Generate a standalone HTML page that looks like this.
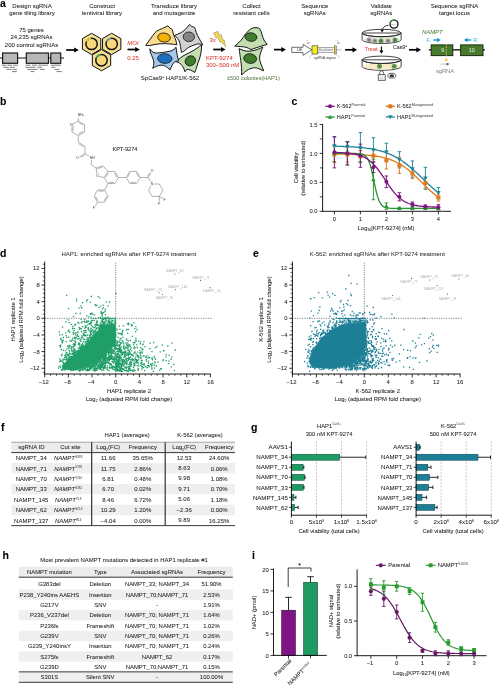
<!DOCTYPE html>
<html><head><meta charset="utf-8"><title>Figure</title>
<style>
html,body{margin:0;padding:0;background:#fff;}
svg{display:block;font-family:"Liberation Sans",Arial,sans-serif;}
</style></head><body>
<svg width="499" height="685" viewBox="0 0 499 685">
<rect width="499" height="685" fill="#fff"/>
<g id="panel-a">
<text x="0.00" y="6.60" font-size="10.5" text-anchor="start" fill="#000" stroke="#000" stroke-width="0.084" font-weight="bold">a</text>
<text x="32.00" y="7.70" font-size="6.0" text-anchor="middle" fill="#222" stroke="#222" stroke-width="0.048" >Design sgRNA</text>
<text x="32.00" y="14.50" font-size="6.0" text-anchor="middle" fill="#222" stroke="#222" stroke-width="0.048" >gene tiling library</text>
<text x="31.50" y="32.00" font-size="6.0" text-anchor="middle" fill="#222" stroke="#222" stroke-width="0.048" >75 genes</text>
<text x="31.50" y="39.30" font-size="6.0" text-anchor="middle" fill="#222" stroke="#222" stroke-width="0.048" >24,235 sgRNAs</text>
<text x="31.50" y="46.60" font-size="6.0" text-anchor="middle" fill="#222" stroke="#222" stroke-width="0.048" >200 control sgRNAs</text>
<line x1="0.00" y1="58.00" x2="64.10" y2="58.00" stroke="#111" stroke-width="1.2" />
<rect x="2.60" y="53.00" width="15.00" height="10.30" fill="#b7b7b7" stroke="#1a1a1a" stroke-width="1.2" />
<rect x="26.30" y="53.00" width="22.20" height="10.30" fill="#b7b7b7" stroke="#1a1a1a" stroke-width="1.2" />
<rect x="50.80" y="53.00" width="9.90" height="10.30" fill="#b7b7b7" stroke="#1a1a1a" stroke-width="1.2" />
<line x1="1.60" y1="65.20" x2="6.09" y2="65.20" stroke="#555" stroke-width="0.75" />
<line x1="7.21" y1="65.20" x2="12.02" y2="65.20" stroke="#555" stroke-width="0.75" />
<line x1="13.15" y1="65.20" x2="17.96" y2="65.20" stroke="#555" stroke-width="0.75" />
<line x1="25.65" y1="65.20" x2="30.46" y2="65.20" stroke="#555" stroke-width="0.75" />
<line x1="32.06" y1="65.20" x2="37.19" y2="65.20" stroke="#555" stroke-width="0.75" />
<line x1="38.16" y1="65.20" x2="48.10" y2="65.20" stroke="#555" stroke-width="0.75" />
<line x1="50.98" y1="65.20" x2="60.60" y2="65.20" stroke="#555" stroke-width="0.75" />
<line x1="3.21" y1="67.30" x2="8.82" y2="67.30" stroke="#555" stroke-width="0.75" />
<line x1="9.94" y1="67.30" x2="14.75" y2="67.30" stroke="#555" stroke-width="0.75" />
<line x1="25.33" y1="67.30" x2="35.59" y2="67.30" stroke="#555" stroke-width="0.75" />
<line x1="37.19" y1="67.30" x2="42.00" y2="67.30" stroke="#555" stroke-width="0.75" />
<line x1="51.30" y1="67.30" x2="55.31" y2="67.30" stroke="#555" stroke-width="0.75" />
<line x1="6.41" y1="69.40" x2="11.54" y2="69.40" stroke="#555" stroke-width="0.75" />
<line x1="12.51" y1="69.40" x2="16.83" y2="69.40" stroke="#555" stroke-width="0.75" />
<line x1="27.25" y1="69.40" x2="37.68" y2="69.40" stroke="#555" stroke-width="0.75" />
<line x1="39.76" y1="69.40" x2="44.89" y2="69.40" stroke="#555" stroke-width="0.75" />
<line x1="54.51" y1="69.40" x2="59.32" y2="69.40" stroke="#555" stroke-width="0.75" />
<line x1="12.02" y1="71.60" x2="16.83" y2="71.60" stroke="#555" stroke-width="0.75" />
<line x1="30.46" y1="71.60" x2="34.47" y2="71.60" stroke="#555" stroke-width="0.75" />
<line x1="56.43" y1="71.60" x2="61.72" y2="71.60" stroke="#555" stroke-width="0.75" />
<line x1="66.20" y1="50.00" x2="75.12" y2="50.00" stroke="#000" stroke-width="1.7" />
<polygon points="78.80,50.00 74.20,47.42 74.20,52.58" fill="#000"/>
<text x="102.00" y="7.70" font-size="6.0" text-anchor="middle" fill="#222" stroke="#222" stroke-width="0.048" >Construct</text>
<text x="102.00" y="14.50" font-size="6.0" text-anchor="middle" fill="#222" stroke="#222" stroke-width="0.048" >lentiviral library</text>
<polygon points="91.60,33.30 100.78,38.60 100.78,49.20 91.60,54.50 82.42,49.20 82.42,38.60" fill="#f6df92" stroke="#111" stroke-width="1"/>
<circle cx="91.6" cy="43.9" r="5.7" fill="#fbd77c" stroke="#111" stroke-width="1.5"/>
<path d="M86.40,41.60 A5.7,5.7 0 0 1 91.00,38.23" fill="none" stroke="#e3d53a" stroke-width="1.4"/>
<polygon points="111.70,33.30 120.88,38.60 120.88,49.20 111.70,54.50 102.52,49.20 102.52,38.60" fill="#f6df92" stroke="#111" stroke-width="1"/>
<circle cx="111.7" cy="43.9" r="5.7" fill="#fbd77c" stroke="#111" stroke-width="1.5"/>
<path d="M106.50,41.60 A5.7,5.7 0 0 1 111.10,38.23" fill="none" stroke="#7fa6c9" stroke-width="1.4"/>
<polygon points="101.50,49.60 110.68,54.90 110.68,65.50 101.50,70.80 92.32,65.50 92.32,54.90" fill="#f6df92" stroke="#111" stroke-width="1"/>
<circle cx="101.5" cy="60.2" r="5.7" fill="#fbd77c" stroke="#111" stroke-width="1.5"/>
<path d="M96.30,57.90 A5.7,5.7 0 0 1 100.90,54.53" fill="none" stroke="#3fae5a" stroke-width="1.4"/>
<text x="133.00" y="45.20" font-size="6.0" text-anchor="middle" fill="#dc3a2e" stroke="#dc3a2e" stroke-width="0.048" font-style="italic">MOI</text>
<line x1="127.50" y1="49.50" x2="136.12" y2="49.50" stroke="#000" stroke-width="1.7" />
<polygon points="139.80,49.50 135.20,46.92 135.20,52.08" fill="#000"/>
<text x="133.00" y="60.30" font-size="6.0" text-anchor="middle" fill="#dc3a2e" stroke="#dc3a2e" stroke-width="0.048" >0.25</text>
<text x="174.00" y="7.70" font-size="6.0" text-anchor="middle" fill="#222" stroke="#222" stroke-width="0.048" >Transduce library</text>
<text x="174.00" y="14.50" font-size="6.0" text-anchor="middle" fill="#222" stroke="#222" stroke-width="0.048" >and mutagenize</text>
<path d="M175.32,36.04 L174.57,35.29 L177.58,34.16 Q180.58,33.03 182.84,31.53 Q185.09,30.02 187.35,27.17 L189.60,24.31 L190.73,25.67 Q191.86,27.02 193.36,26.87 Q194.86,26.72 195.39,29.50 Q195.91,32.28 197.64,35.66 Q199.37,39.04 201.10,41.90 L202.83,44.75 L200.72,44.15 Q198.62,43.55 196.37,44.30 Q194.11,45.06 191.10,46.18 Q188.10,47.31 185.84,49.56 Q183.59,51.82 182.46,52.04 L181.33,52.27 L180.96,49.41 Q180.58,46.56 179.98,43.55 Q179.38,40.55 177.73,38.67 Q176.07,36.79 175.32,36.04Z" fill="#d2d2d2" stroke="#151515" stroke-width="1.0" stroke-linejoin="round"/>
<ellipse cx="188.85" cy="36.79" rx="5.71" ry="4.81" fill="#858585" stroke="#151515" stroke-width="0.8" transform="rotate(0 188.85 36.79)"/>
<path d="M147.37,45.58 L145.71,45.36 L149.62,39.94 Q153.53,34.53 155.03,32.66 Q156.53,30.78 159.54,29.65 Q162.55,28.52 165.18,27.17 L167.81,25.82 L168.93,27.17 Q170.06,28.52 171.19,28.67 Q172.32,28.82 172.84,31.68 Q173.37,34.53 174.72,37.54 Q176.07,40.55 176.45,42.65 L176.83,44.75 L173.44,44.30 Q170.06,43.85 166.30,43.70 Q162.55,43.55 158.79,43.93 Q155.03,44.30 152.02,45.06 Q149.02,45.81 147.37,45.58Z" fill="#f9dc8e" stroke="#151515" stroke-width="1.0" stroke-linejoin="round"/>
<ellipse cx="164.05" cy="37.54" rx="6.31" ry="4.51" fill="#f5b301" stroke="#151515" stroke-width="0.8" transform="rotate(8 164.05 37.54)"/>
<path d="M177.95,62.34 L176.07,61.59 L179.08,58.96 Q182.09,56.33 185.09,54.83 Q188.10,53.32 191.10,51.82 Q194.11,50.32 197.12,48.06 Q200.12,45.81 200.87,45.43 L201.63,45.06 L201.48,48.06 Q201.33,51.07 200.72,54.07 Q200.12,57.08 199.00,60.09 Q197.87,63.09 197.12,65.72 Q196.37,68.35 195.61,70.38 L194.86,72.41 L192.61,71.13 Q190.35,69.86 188.47,69.48 Q186.60,69.10 185.84,70.46 L185.09,71.81 L183.97,68.95 Q182.84,66.10 181.33,64.60 Q179.83,63.09 177.95,62.34Z" fill="#c3deb1" stroke="#151515" stroke-width="1.0" stroke-linejoin="round"/>
<ellipse cx="190.35" cy="60.84" rx="5.41" ry="4.81" fill="#3f7d2c" stroke="#151515" stroke-width="0.8" transform="rotate(-35 190.35 60.84)"/>
<path d="M150.15,51.07 L149.77,48.81 L151.65,51.07 Q153.53,53.32 156.53,53.10 Q159.54,52.87 163.30,52.35 Q167.06,51.82 169.69,51.29 Q172.32,50.77 174.20,49.04 L176.07,47.31 L176.45,50.32 Q176.83,53.32 177.20,55.20 Q177.58,57.08 178.18,58.96 L178.78,60.84 L176.68,61.21 Q174.57,61.59 173.44,63.09 Q172.32,64.60 171.19,67.23 L170.06,69.86 L167.81,67.83 Q165.55,65.80 163.30,65.35 Q161.04,64.90 158.79,65.50 Q156.53,66.10 154.66,67.23 L152.78,68.35 L153.53,65.72 Q154.28,63.09 153.53,60.46 Q152.78,57.83 151.65,55.58 Q150.52,53.32 150.15,51.07Z" fill="#a7c8ea" stroke="#151515" stroke-width="1.0" stroke-linejoin="round"/>
<ellipse cx="164.80" cy="58.58" rx="7.21" ry="4.81" fill="#1f6fc0" stroke="#151515" stroke-width="0.8" transform="rotate(3 164.80 58.58)"/>
<text x="170.00" y="80.30" font-size="6.0" text-anchor="middle" fill="#222" stroke="#222" stroke-width="0.048" >SpCas9<tspan font-size="3.4" dy="-2">+</tspan><tspan dy="2"> HAP1/K-562</tspan></text>
<polygon points="213.52,32.99 217.78,31.29 219.48,35.04 221.18,34.52 222.89,40.15 224.08,39.81 225.78,46.62 221.18,41.85 219.99,42.36 217.78,37.59 216.07,38.10" fill="#f2d356" stroke="#6b5a1a" stroke-width="0.35"/>
<text x="212.60" y="41.60" font-size="6.0" text-anchor="middle" fill="#dc3a2e" stroke="#dc3a2e" stroke-width="0.048" >3x</text>
<line x1="213.20" y1="49.50" x2="221.92" y2="49.50" stroke="#000" stroke-width="1.7" />
<polygon points="225.60,49.50 221.00,46.92 221.00,52.08" fill="#000"/>
<text x="219.30" y="59.90" font-size="6.0" text-anchor="middle" fill="#dc3a2e" stroke="#dc3a2e" stroke-width="0.048" >KPT-9274</text>
<text x="222.60" y="66.60" font-size="6.0" text-anchor="middle" fill="#dc3a2e" stroke="#dc3a2e" stroke-width="0.048" >300–500 nM</text>
<text x="251.50" y="7.70" font-size="6.0" text-anchor="middle" fill="#222" stroke="#222" stroke-width="0.048" >Collect</text>
<text x="251.50" y="14.50" font-size="6.0" text-anchor="middle" fill="#222" stroke="#222" stroke-width="0.048" >resistant cells</text>
<path d="M237.79,46.36 L234.81,46.11 L238.22,43.13 Q241.63,40.15 243.33,37.17 Q245.03,34.18 248.02,31.20 Q251.00,28.22 253.55,27.80 Q256.11,27.37 258.24,27.97 Q260.37,28.56 261.22,31.80 Q262.07,35.04 262.92,37.59 Q263.77,40.15 265.48,42.28 L267.18,44.41 L264.20,45.26 Q261.22,46.11 258.66,46.96 Q256.11,47.81 253.55,48.66 L251.00,49.52 L248.44,48.24 Q245.89,46.96 243.33,46.79 Q240.78,46.62 237.79,46.36Z" fill="#c3deb1" stroke="#151515" stroke-width="1.0" stroke-linejoin="round"/>
<ellipse cx="251.00" cy="37.08" rx="5.96" ry="4.26" fill="#3f7d2c" stroke="#151515" stroke-width="0.8" transform="rotate(5 251.00 37.08)"/>
<path d="M239.50,51.65 L239.07,48.66 L242.05,49.94 Q245.03,51.22 248.02,51.22 Q251.00,51.22 254.40,50.37 Q257.81,49.52 260.37,48.24 L262.92,46.96 L261.64,49.94 Q260.37,52.92 259.77,55.90 Q259.17,58.89 260.20,61.87 Q261.22,64.85 262.50,67.83 L263.77,70.81 L259.94,69.11 Q256.11,67.40 253.55,67.83 Q251.00,68.26 248.44,69.53 Q245.89,70.81 243.76,72.94 L241.63,75.07 L241.63,71.24 Q241.63,67.40 241.20,64.00 Q240.78,60.59 240.35,57.61 Q239.92,54.63 239.50,51.65Z" fill="#c3deb1" stroke="#151515" stroke-width="1.0" stroke-linejoin="round"/>
<ellipse cx="250.14" cy="58.55" rx="6.47" ry="4.77" fill="#3f7d2c" stroke="#151515" stroke-width="0.8" transform="rotate(8 250.14 58.55)"/>
<text x="253.40" y="80.30" font-size="5.6" text-anchor="middle" fill="#5f8052" stroke="#5f8052" stroke-width="0.045" >±500 colonies(HAP1)</text>
<line x1="274.00" y1="49.60" x2="282.22" y2="49.60" stroke="#000" stroke-width="1.7" />
<polygon points="285.90,49.60 281.30,47.02 281.30,52.18" fill="#000"/>
<text x="314.80" y="7.70" font-size="6.0" text-anchor="middle" fill="#222" stroke="#222" stroke-width="0.048" >Sequence</text>
<text x="314.80" y="14.50" font-size="6.0" text-anchor="middle" fill="#222" stroke="#222" stroke-width="0.048" >sgRNAs</text>
<line x1="336.40" y1="49.80" x2="341.60" y2="49.80" stroke="#999" stroke-width="0.7" />
<polygon points="291.8,47.3 303,47.3 303,44.4 311.8,49.8 303,55.4 303,52.5 291.8,52.5" fill="#fff" stroke="#333" stroke-width="0.7" stroke-linejoin="round"/>
<text x="299.40" y="51.40" font-size="3.8" text-anchor="middle" fill="#333" stroke="#333" stroke-width="0.030" >U6</text>
<rect x="317.80" y="47.30" width="16.80" height="5.20" fill="#f4f4f4" stroke="#777" stroke-width="0.6" />
<text x="326.00" y="51.20" font-size="3.1" text-anchor="middle" fill="#888" stroke="#888" stroke-width="0.025" >Backbone</text>
<rect x="312.00" y="45.80" width="5.80" height="8.20" fill="#f5ee1d" stroke="#333" stroke-width="0.6" />
<rect x="334.30" y="45.80" width="2.00" height="8.20" fill="#f0c648" stroke="#555" stroke-width="0.5" />
<text x="324.80" y="58.60" font-size="3.6" text-anchor="middle" fill="#555" stroke="#555" stroke-width="0.029" >sgRNA region</text>
<line x1="312.80" y1="54.20" x2="309.00" y2="58.00" stroke="#888" stroke-width="0.4" />
<line x1="336.00" y1="54.20" x2="340.40" y2="58.00" stroke="#888" stroke-width="0.4" />
<line x1="306.70" y1="43.00" x2="308.90" y2="43.00" stroke="#7a3fa0" stroke-width="0.6" />
<polygon points="309.90000000000003,43 308.5,42.2 308.5,43.8" fill="#7a3fa0"/>
<text x="307.50" y="41.20" font-size="2.2" text-anchor="middle" fill="#7a3fa0" stroke="#7a3fa0" stroke-width="0.018" >F</text>
<line x1="336.80" y1="43.00" x2="339.00" y2="43.00" stroke="#7a3fa0" stroke-width="0.6" />
<polygon points="340.0,43 338.59999999999997,42.2 338.59999999999997,43.8" fill="#7a3fa0"/>
<text x="337.60" y="41.20" font-size="2.2" text-anchor="middle" fill="#7a3fa0" stroke="#7a3fa0" stroke-width="0.018" >F</text>
<line x1="345.10" y1="49.80" x2="353.42" y2="49.80" stroke="#000" stroke-width="1.7" />
<polygon points="357.10,49.80 352.50,47.22 352.50,52.38" fill="#000"/>
<text x="381.30" y="7.70" font-size="6.0" text-anchor="middle" fill="#222" stroke="#222" stroke-width="0.048" >Validate</text>
<text x="381.30" y="14.50" font-size="6.0" text-anchor="middle" fill="#222" stroke="#222" stroke-width="0.048" >sgRNAs</text>
<path d="M362.1,33 L362.1,39.8 A19.5,3.7 0 0 0 401.1,39.8 L401.1,33 Z" fill="#fff" stroke="#151515" stroke-width="0.8"/>
<ellipse cx="381.6" cy="39.5" rx="18.3" ry="3.3000000000000003" fill="#e4e6da"/>
<path d="M362.1,33 A19.5,3.7 0 0 0 401.1,33" fill="none" stroke="#151515" stroke-width="0.7"/>
<ellipse cx="381.6" cy="33" rx="19.5" ry="3.7" fill="none" stroke="#151515" stroke-width="0.8"/>
<circle cx="369" cy="40.0" r="2.5" fill="#8f8f8f" opacity="0.8"/>
<circle cx="369" cy="40.0" r="0.9" fill="#333" opacity="0.6"/>
<circle cx="374.8" cy="40.9" r="2.5" fill="#8f8f8f" opacity="0.8"/>
<circle cx="374.8" cy="40.9" r="0.9" fill="#333" opacity="0.6"/>
<circle cx="381" cy="40.9" r="2.5" fill="#3f8a35" opacity="0.8"/>
<circle cx="381" cy="40.9" r="0.9" fill="#333" opacity="0.6"/>
<circle cx="388" cy="40.9" r="2.5" fill="#8f8f8f" opacity="0.8"/>
<circle cx="388" cy="40.9" r="0.9" fill="#333" opacity="0.6"/>
<circle cx="395" cy="40.0" r="2.5" fill="#3f8a35" opacity="0.8"/>
<circle cx="395" cy="40.0" r="0.9" fill="#333" opacity="0.6"/>
<circle cx="394" cy="24.1" r="4" fill="#fff" stroke="#111" stroke-width="1.3"/>
<path d="M390.3,22.6 A4,4 0 0 1 395.4,20.4" fill="none" stroke="#3f9b4a" stroke-width="1.2"/>
<text x="394.00" y="25.00" font-size="1.8" text-anchor="middle" fill="#7fae7f" stroke="#7fae7f" stroke-width="0.014" >sgRNA</text>
<path d="M388.6,25.2 C384.6,25.6 382.6,27.6 382.2,30.4" fill="none" stroke="#151515" stroke-width="0.8"/>
<polygon points="381.9,32.6 380.4,29.6 383.9,29.9" fill="#151515"/>
<text x="371.20" y="51.20" font-size="5.6" text-anchor="middle" fill="#e0463c" stroke="#e0463c" stroke-width="0.045" >Treat</text>
<line x1="381.40" y1="46.40" x2="381.40" y2="51.40" stroke="#000" stroke-width="1.1" />
<polygon points="381.4,53.8 379.4,50.4 383.4,50.4" fill="#000"/>
<text x="400.00" y="48.50" font-size="5.2" text-anchor="middle" fill="#222" stroke="#222" stroke-width="0.042" >Cas9<tspan font-size="3.2" dy="-2">+</tspan></text>
<path d="M362.1,59.8 L362.1,66.6 A19.5,3.7 0 0 0 401.1,66.6 L401.1,59.8 Z" fill="#fff" stroke="#151515" stroke-width="0.8"/>
<ellipse cx="381.6" cy="66.3" rx="18.3" ry="3.3000000000000003" fill="#f8ebc6"/>
<path d="M362.1,59.8 A19.5,3.7 0 0 0 401.1,59.8" fill="none" stroke="#151515" stroke-width="0.7"/>
<ellipse cx="381.6" cy="59.8" rx="19.5" ry="3.7" fill="none" stroke="#151515" stroke-width="0.8"/>
<circle cx="379.5" cy="66.3" r="2.5" fill="#3f8a35" opacity="0.8"/><circle cx="379.5" cy="66.3" r="0.9" fill="#244" opacity="0.6"/>
<circle cx="394.2" cy="66.3" r="2.5" fill="#3f8a35" opacity="0.8"/><circle cx="394.2" cy="66.3" r="0.9" fill="#244" opacity="0.6"/>
<path d="M379.7,74.8 V73 A1.95,2.1 0 0 1 383.6,73 V74.8" fill="none" stroke="#333" stroke-width="0.7"/>
<rect x="378.20" y="74.70" width="7.00" height="5.60" fill="#ededed" stroke="#333" stroke-width="0.7" />
<text x="381.70" y="79.00" font-size="2.4" text-anchor="middle" fill="#555" stroke="#555" stroke-width="0.019" >A+</text>
<ellipse cx="391.8" cy="75.7" rx="4.1" ry="2.4" fill="#fff" stroke="#222" stroke-width="0.7"/><ellipse cx="391.8" cy="75.7" rx="2.3" ry="1.5" fill="#333"/>
<line x1="409.00" y1="49.80" x2="417.32" y2="49.80" stroke="#000" stroke-width="1.7" />
<polygon points="421.00,49.80 416.40,47.22 416.40,52.38" fill="#000"/>
<text x="454.50" y="7.70" font-size="6.0" text-anchor="middle" fill="#222" stroke="#222" stroke-width="0.048" >Sequence sgRNA</text>
<text x="454.50" y="14.50" font-size="6.0" text-anchor="middle" fill="#222" stroke="#222" stroke-width="0.048" >target locus</text>
<text x="432.30" y="33.60" font-size="5.9" text-anchor="middle" fill="#4f7f3a" stroke="#4f7f3a" stroke-width="0.047" font-style="italic">NAMPT</text>
<text x="428.60" y="41.60" font-size="5.4" text-anchor="middle" fill="#4fb0e3" stroke="#4fb0e3" stroke-width="0.043" >F.</text>
<line x1="433.40" y1="40.00" x2="437.76" y2="40.00" stroke="#1e9bd7" stroke-width="1.5" />
<polygon points="440.80,40.00 437.00,37.87 437.00,42.13" fill="#1e9bd7"/>
<text x="476.00" y="41.60" font-size="5.4" text-anchor="middle" fill="#4fb0e3" stroke="#4fb0e3" stroke-width="0.043" >R.</text>
<line x1="471.20" y1="40.00" x2="466.84" y2="40.00" stroke="#1e9bd7" stroke-width="1.5" />
<polygon points="463.80,40.00 467.60,37.87 467.60,42.13" fill="#1e9bd7"/>
<line x1="428.80" y1="49.80" x2="485.00" y2="49.80" stroke="#000" stroke-width="1.2" />
<rect x="431.20" y="44.90" width="21.60" height="10.70" fill="#477a2b" stroke="#1c2a12" stroke-width="1" />
<rect x="460.60" y="44.90" width="22.40" height="10.70" fill="#477a2b" stroke="#1c2a12" stroke-width="1" />
<text x="442.70" y="52.00" font-size="5.4" text-anchor="middle" fill="#dfead5" stroke="#dfead5" stroke-width="0.043" >9</text>
<text x="471.70" y="52.00" font-size="5.4" text-anchor="middle" fill="#dfead5" stroke="#dfead5" stroke-width="0.043" >10</text>
<line x1="446.30" y1="44.00" x2="446.30" y2="57.00" stroke="#f3d25a" stroke-width="0.8" stroke-dasharray="1.6,1"/>
<polygon points="446.3,57.2 444.3,61 448.3,61" fill="#f6d566"/>
<line x1="440.60" y1="64.10" x2="447.00" y2="64.10" stroke="#666" stroke-width="0.6" stroke-dasharray="1.2,0.6"/>
<polygon points="449.6,64.1 446.6,62.8 446.6,65.4" fill="#555"/>
<text x="445.00" y="72.90" font-size="5.75" text-anchor="middle" fill="#8a8a8a" stroke="#8a8a8a" stroke-width="0.046" >sgRNA</text>
</g>
<g id="panel-b">
<text x="0.00" y="105.30" font-size="10.5" text-anchor="start" fill="#000" stroke="#000" stroke-width="0.084" font-weight="bold">b</text>
<text x="125.00" y="150.60" font-size="5.6" text-anchor="middle" fill="#222" stroke="#222" stroke-width="0.045" >KPT-9274</text>
<line x1="78.30" y1="121.00" x2="71.98" y2="124.65" stroke="#555" stroke-width="0.45" />
<line x1="71.98" y1="124.65" x2="71.98" y2="131.95" stroke="#555" stroke-width="0.45" />
<line x1="73.08" y1="125.67" x2="73.08" y2="130.93" stroke="#555" stroke-width="0.45" />
<line x1="71.98" y1="131.95" x2="78.30" y2="135.60" stroke="#555" stroke-width="0.45" />
<line x1="78.30" y1="135.60" x2="84.62" y2="131.95" stroke="#555" stroke-width="0.45" />
<line x1="78.64" y1="134.14" x2="83.19" y2="131.51" stroke="#555" stroke-width="0.45" />
<line x1="84.62" y1="131.95" x2="84.62" y2="124.65" stroke="#555" stroke-width="0.45" />
<line x1="84.62" y1="124.65" x2="78.30" y2="121.00" stroke="#555" stroke-width="0.45" />
<line x1="83.19" y1="125.09" x2="78.64" y2="122.46" stroke="#555" stroke-width="0.45" />
<rect x="70.17" y="123.30" width="2.86" height="3.40" fill="#fff" stroke="none" stroke-width="0.8" />
<text x="71.60" y="126.22" font-size="3.4" text-anchor="middle" fill="#444" stroke="#444" stroke-width="0.027" >N</text>
<text x="80.20" y="115.60" font-size="3.4" text-anchor="middle" fill="#444" stroke="#444" stroke-width="0.027" >NH</text>
<text x="83.60" y="116.40" font-size="2.2" text-anchor="middle" fill="#444" stroke="#444" stroke-width="0.018" >2</text>
<line x1="78.30" y1="121.00" x2="78.30" y2="118.00" stroke="#555" stroke-width="0.45" />
<line x1="78.30" y1="135.60" x2="78.30" y2="142.00" stroke="#555" stroke-width="0.45" />
<line x1="78.30" y1="142.00" x2="85.00" y2="146.60" stroke="#555" stroke-width="0.45" />
<line x1="78.62" y1="143.55" x2="83.44" y2="146.86" stroke="#555" stroke-width="0.45" />
<line x1="85.00" y1="146.60" x2="85.00" y2="153.60" stroke="#555" stroke-width="0.45" />
<line x1="85.00" y1="153.60" x2="79.60" y2="156.80" stroke="#555" stroke-width="0.45" />
<line x1="84.80" y1="154.99" x2="80.92" y2="157.30" stroke="#555" stroke-width="0.45" />
<rect x="76.17" y="156.20" width="2.86" height="3.40" fill="#fff" stroke="none" stroke-width="0.8" />
<text x="77.60" y="159.12" font-size="3.4" text-anchor="middle" fill="#444" stroke="#444" stroke-width="0.027" >O</text>
<line x1="85.00" y1="153.60" x2="89.60" y2="156.60" stroke="#555" stroke-width="0.45" />
<rect x="89.34" y="156.10" width="5.71" height="3.40" fill="#fff" stroke="none" stroke-width="0.8" />
<text x="92.20" y="159.02" font-size="3.4" text-anchor="middle" fill="#444" stroke="#444" stroke-width="0.027" >NH</text>
<line x1="91.30" y1="160.00" x2="91.30" y2="165.00" stroke="#555" stroke-width="0.45" />
<line x1="91.30" y1="165.00" x2="96.20" y2="168.00" stroke="#555" stroke-width="0.45" />
<line x1="96.20" y1="168.00" x2="103.00" y2="165.80" stroke="#555" stroke-width="0.45" />
<line x1="97.49" y1="168.74" x2="102.39" y2="167.15" stroke="#555" stroke-width="0.45" />
<line x1="103.00" y1="165.80" x2="108.00" y2="171.50" stroke="#555" stroke-width="0.45" />
<line x1="104.40" y1="177.50" x2="99.00" y2="176.40" stroke="#555" stroke-width="0.45" />
<line x1="97.00" y1="174.00" x2="96.20" y2="168.00" stroke="#555" stroke-width="0.45" />
<rect x="95.87" y="174.50" width="2.86" height="3.40" fill="#fff" stroke="none" stroke-width="0.8" />
<text x="97.30" y="177.42" font-size="3.4" text-anchor="middle" fill="#444" stroke="#444" stroke-width="0.027" >O</text>
<line x1="118.40" y1="177.50" x2="114.90" y2="171.44" stroke="#555" stroke-width="0.45" />
<line x1="116.96" y1="177.20" x2="114.44" y2="172.84" stroke="#555" stroke-width="0.45" />
<line x1="114.90" y1="171.44" x2="107.90" y2="171.44" stroke="#555" stroke-width="0.45" />
<line x1="107.90" y1="171.44" x2="104.40" y2="177.50" stroke="#555" stroke-width="0.45" />
<line x1="108.36" y1="172.84" x2="105.84" y2="177.20" stroke="#555" stroke-width="0.45" />
<line x1="104.40" y1="177.50" x2="107.90" y2="183.56" stroke="#555" stroke-width="0.45" />
<line x1="107.90" y1="183.56" x2="114.90" y2="183.56" stroke="#555" stroke-width="0.45" />
<line x1="108.88" y1="182.46" x2="113.92" y2="182.46" stroke="#555" stroke-width="0.45" />
<line x1="114.90" y1="183.56" x2="118.40" y2="177.50" stroke="#555" stroke-width="0.45" />
<line x1="107.90" y1="183.56" x2="104.60" y2="190.00" stroke="#555" stroke-width="0.45" />
<line x1="108.10" y1="196.10" x2="104.60" y2="190.04" stroke="#555" stroke-width="0.45" />
<line x1="104.60" y1="190.04" x2="97.60" y2="190.04" stroke="#555" stroke-width="0.45" />
<line x1="103.62" y1="191.14" x2="98.58" y2="191.14" stroke="#555" stroke-width="0.45" />
<line x1="97.60" y1="190.04" x2="94.10" y2="196.10" stroke="#555" stroke-width="0.45" />
<line x1="94.10" y1="196.10" x2="97.60" y2="202.16" stroke="#555" stroke-width="0.45" />
<line x1="95.54" y1="196.40" x2="98.06" y2="200.76" stroke="#555" stroke-width="0.45" />
<line x1="97.60" y1="202.16" x2="104.60" y2="202.16" stroke="#555" stroke-width="0.45" />
<line x1="104.60" y1="202.16" x2="108.10" y2="196.10" stroke="#555" stroke-width="0.45" />
<line x1="104.14" y1="200.76" x2="106.66" y2="196.40" stroke="#555" stroke-width="0.45" />
<line x1="97.60" y1="202.16" x2="95.00" y2="206.50" stroke="#555" stroke-width="0.45" />
<rect x="92.27" y="206.50" width="2.86" height="3.40" fill="#fff" stroke="none" stroke-width="0.8" />
<text x="93.70" y="209.42" font-size="3.4" text-anchor="middle" fill="#444" stroke="#444" stroke-width="0.027" >F</text>
<line x1="118.40" y1="177.50" x2="126.20" y2="177.50" stroke="#555" stroke-width="0.45" />
<line x1="140.20" y1="177.50" x2="136.70" y2="171.44" stroke="#555" stroke-width="0.45" />
<line x1="138.76" y1="177.20" x2="136.24" y2="172.84" stroke="#555" stroke-width="0.45" />
<line x1="136.70" y1="171.44" x2="129.70" y2="171.44" stroke="#555" stroke-width="0.45" />
<line x1="129.70" y1="171.44" x2="126.20" y2="177.50" stroke="#555" stroke-width="0.45" />
<line x1="130.16" y1="172.84" x2="127.64" y2="177.20" stroke="#555" stroke-width="0.45" />
<line x1="126.20" y1="177.50" x2="129.70" y2="183.56" stroke="#555" stroke-width="0.45" />
<line x1="129.70" y1="183.56" x2="136.70" y2="183.56" stroke="#555" stroke-width="0.45" />
<line x1="130.68" y1="182.46" x2="135.72" y2="182.46" stroke="#555" stroke-width="0.45" />
<line x1="136.70" y1="183.56" x2="140.20" y2="177.50" stroke="#555" stroke-width="0.45" />
<line x1="140.20" y1="177.50" x2="148.10" y2="177.50" stroke="#555" stroke-width="0.45" />
<line x1="148.10" y1="177.50" x2="151.00" y2="172.80" stroke="#555" stroke-width="0.45" />
<line x1="147.57" y1="176.26" x2="149.66" y2="172.88" stroke="#555" stroke-width="0.45" />
<rect x="150.57" y="169.30" width="2.86" height="3.40" fill="#fff" stroke="none" stroke-width="0.8" />
<text x="152.00" y="172.22" font-size="3.4" text-anchor="middle" fill="#444" stroke="#444" stroke-width="0.027" >O</text>
<line x1="148.10" y1="177.50" x2="150.80" y2="182.00" stroke="#555" stroke-width="0.45" />
<rect x="150.57" y="182.30" width="2.86" height="3.40" fill="#fff" stroke="none" stroke-width="0.8" />
<text x="152.00" y="185.22" font-size="3.4" text-anchor="middle" fill="#444" stroke="#444" stroke-width="0.027" >N</text>
<line x1="162.90" y1="190.20" x2="159.30" y2="183.96" stroke="#555" stroke-width="0.45" />
<line x1="159.30" y1="183.96" x2="152.10" y2="183.96" stroke="#555" stroke-width="0.45" />
<line x1="152.10" y1="183.96" x2="148.50" y2="190.20" stroke="#555" stroke-width="0.45" />
<line x1="148.50" y1="190.20" x2="152.10" y2="196.44" stroke="#555" stroke-width="0.45" />
<line x1="152.10" y1="196.44" x2="159.30" y2="196.44" stroke="#555" stroke-width="0.45" />
<line x1="159.30" y1="196.44" x2="162.90" y2="190.20" stroke="#555" stroke-width="0.45" />
<rect x="150.20" y="181.60" width="3.60" height="4.00" fill="#fff" stroke="none" stroke-width="0.8" />
<rect x="150.57" y="182.30" width="2.86" height="3.40" fill="#fff" stroke="none" stroke-width="0.8" />
<text x="152.00" y="185.22" font-size="3.4" text-anchor="middle" fill="#444" stroke="#444" stroke-width="0.027" >N</text>
<line x1="159.30" y1="196.44" x2="163.20" y2="198.60" stroke="#555" stroke-width="0.45" />
<rect x="163.17" y="197.90" width="2.86" height="3.40" fill="#fff" stroke="none" stroke-width="0.8" />
<text x="164.60" y="200.82" font-size="3.4" text-anchor="middle" fill="#444" stroke="#444" stroke-width="0.027" >F</text>
<line x1="159.30" y1="196.44" x2="159.30" y2="201.60" stroke="#555" stroke-width="0.45" />
<rect x="157.77" y="201.90" width="2.86" height="3.40" fill="#fff" stroke="none" stroke-width="0.8" />
<text x="159.20" y="204.82" font-size="3.4" text-anchor="middle" fill="#444" stroke="#444" stroke-width="0.027" >F</text>
</g>
<g id="panel-c">
<text x="291.40" y="105.30" font-size="10.5" text-anchor="start" fill="#000" stroke="#000" stroke-width="0.084" font-weight="bold">c</text>
<line x1="322.60" y1="124.00" x2="322.60" y2="211.70" stroke="#000" stroke-width="0.9" />
<line x1="322.20" y1="211.30" x2="451.00" y2="211.30" stroke="#000" stroke-width="0.9" />
<line x1="319.60" y1="211.30" x2="322.60" y2="211.30" stroke="#000" stroke-width="0.8" />
<text x="317.60" y="213.40" font-size="5.8" text-anchor="end" fill="#222" stroke="#222" stroke-width="0.046" >0.0</text>
<line x1="319.60" y1="182.35" x2="322.60" y2="182.35" stroke="#000" stroke-width="0.8" />
<text x="317.60" y="184.45" font-size="5.8" text-anchor="end" fill="#222" stroke="#222" stroke-width="0.046" >0.5</text>
<line x1="319.60" y1="153.40" x2="322.60" y2="153.40" stroke="#000" stroke-width="0.8" />
<text x="317.60" y="155.50" font-size="5.8" text-anchor="end" fill="#222" stroke="#222" stroke-width="0.046" >1.0</text>
<line x1="319.60" y1="124.45" x2="322.60" y2="124.45" stroke="#000" stroke-width="0.8" />
<text x="317.60" y="126.55" font-size="5.8" text-anchor="end" fill="#222" stroke="#222" stroke-width="0.046" >1.5</text>
<line x1="319.80" y1="196.83" x2="322.60" y2="196.83" stroke="#000" stroke-width="0.7" />
<line x1="319.80" y1="167.88" x2="322.60" y2="167.88" stroke="#000" stroke-width="0.7" />
<line x1="319.80" y1="138.93" x2="322.60" y2="138.93" stroke="#000" stroke-width="0.7" />
<line x1="334.40" y1="211.30" x2="334.40" y2="214.40" stroke="#000" stroke-width="0.8" />
<text x="334.40" y="220.60" font-size="5.8" text-anchor="middle" fill="#222" stroke="#222" stroke-width="0.046" >0</text>
<line x1="360.40" y1="211.30" x2="360.40" y2="214.40" stroke="#000" stroke-width="0.8" />
<text x="360.40" y="220.60" font-size="5.8" text-anchor="middle" fill="#222" stroke="#222" stroke-width="0.046" >1</text>
<line x1="386.40" y1="211.30" x2="386.40" y2="214.40" stroke="#000" stroke-width="0.8" />
<text x="386.40" y="220.60" font-size="5.8" text-anchor="middle" fill="#222" stroke="#222" stroke-width="0.046" >2</text>
<line x1="412.40" y1="211.30" x2="412.40" y2="214.40" stroke="#000" stroke-width="0.8" />
<text x="412.40" y="220.60" font-size="5.8" text-anchor="middle" fill="#222" stroke="#222" stroke-width="0.046" >3</text>
<line x1="438.40" y1="211.30" x2="438.40" y2="214.40" stroke="#000" stroke-width="0.8" />
<text x="438.40" y="220.60" font-size="5.8" text-anchor="middle" fill="#222" stroke="#222" stroke-width="0.046" >4</text>
<text x="386.00" y="230.00" font-size="5.9" text-anchor="middle" fill="#222" stroke="#222" stroke-width="0.047" >Log<tspan font-size="3.4" dy="1.3">10</tspan><tspan dy="-1.3">[KPT-9274] (nM)</tspan></text>
<text transform="translate(297.8,168) rotate(-90)" font-size="5.8" text-anchor="middle" fill="#222" stroke="#222" stroke-width="0.05">Cell viability</text>
<text transform="translate(304.8,168) rotate(-90)" font-size="5.8" text-anchor="middle" fill="#222" stroke="#222" stroke-width="0.05">(relative to untreated)</text>
<line x1="334.40" y1="137.19" x2="334.40" y2="154.56" stroke="#1f879c" stroke-width="0.95" />
<line x1="332.60" y1="137.19" x2="336.20" y2="137.19" stroke="#1f879c" stroke-width="0.95" />
<line x1="332.60" y1="154.56" x2="336.20" y2="154.56" stroke="#1f879c" stroke-width="0.95" />
<line x1="347.40" y1="141.82" x2="347.40" y2="151.08" stroke="#1f879c" stroke-width="0.95" />
<line x1="345.60" y1="141.82" x2="349.20" y2="141.82" stroke="#1f879c" stroke-width="0.95" />
<line x1="345.60" y1="151.08" x2="349.20" y2="151.08" stroke="#1f879c" stroke-width="0.95" />
<line x1="360.40" y1="132.56" x2="360.40" y2="162.66" stroke="#1f879c" stroke-width="0.95" />
<line x1="358.60" y1="132.56" x2="362.20" y2="132.56" stroke="#1f879c" stroke-width="0.95" />
<line x1="358.60" y1="162.66" x2="362.20" y2="162.66" stroke="#1f879c" stroke-width="0.95" />
<line x1="373.40" y1="137.77" x2="373.40" y2="162.09" stroke="#1f879c" stroke-width="0.95" />
<line x1="371.60" y1="137.77" x2="375.20" y2="137.77" stroke="#1f879c" stroke-width="0.95" />
<line x1="371.60" y1="162.09" x2="375.20" y2="162.09" stroke="#1f879c" stroke-width="0.95" />
<line x1="386.40" y1="143.27" x2="386.40" y2="160.64" stroke="#1f879c" stroke-width="0.95" />
<line x1="384.60" y1="143.27" x2="388.20" y2="143.27" stroke="#1f879c" stroke-width="0.95" />
<line x1="384.60" y1="160.64" x2="388.20" y2="160.64" stroke="#1f879c" stroke-width="0.95" />
<line x1="399.40" y1="151.66" x2="399.40" y2="167.88" stroke="#1f879c" stroke-width="0.95" />
<line x1="397.60" y1="151.66" x2="401.20" y2="151.66" stroke="#1f879c" stroke-width="0.95" />
<line x1="397.60" y1="167.88" x2="401.20" y2="167.88" stroke="#1f879c" stroke-width="0.95" />
<line x1="412.40" y1="160.93" x2="412.40" y2="177.14" stroke="#1f879c" stroke-width="0.95" />
<line x1="410.60" y1="160.93" x2="414.20" y2="160.93" stroke="#1f879c" stroke-width="0.95" />
<line x1="410.60" y1="177.14" x2="414.20" y2="177.14" stroke="#1f879c" stroke-width="0.95" />
<line x1="425.40" y1="167.30" x2="425.40" y2="189.30" stroke="#1f879c" stroke-width="0.95" />
<line x1="423.60" y1="167.30" x2="427.20" y2="167.30" stroke="#1f879c" stroke-width="0.95" />
<line x1="423.60" y1="189.30" x2="427.20" y2="189.30" stroke="#1f879c" stroke-width="0.95" />
<line x1="438.40" y1="187.56" x2="438.40" y2="197.98" stroke="#1f879c" stroke-width="0.95" />
<line x1="436.60" y1="187.56" x2="440.20" y2="187.56" stroke="#1f879c" stroke-width="0.95" />
<line x1="436.60" y1="197.98" x2="440.20" y2="197.98" stroke="#1f879c" stroke-width="0.95" />
<line x1="334.40" y1="146.45" x2="334.40" y2="162.66" stroke="#dc7a1e" stroke-width="0.95" />
<line x1="332.60" y1="146.45" x2="336.20" y2="146.45" stroke="#dc7a1e" stroke-width="0.95" />
<line x1="332.60" y1="162.66" x2="336.20" y2="162.66" stroke="#dc7a1e" stroke-width="0.95" />
<line x1="347.40" y1="147.03" x2="347.40" y2="162.09" stroke="#dc7a1e" stroke-width="0.95" />
<line x1="345.60" y1="147.03" x2="349.20" y2="147.03" stroke="#dc7a1e" stroke-width="0.95" />
<line x1="345.60" y1="162.09" x2="349.20" y2="162.09" stroke="#dc7a1e" stroke-width="0.95" />
<line x1="360.40" y1="150.50" x2="360.40" y2="162.09" stroke="#dc7a1e" stroke-width="0.95" />
<line x1="358.60" y1="150.50" x2="362.20" y2="150.50" stroke="#dc7a1e" stroke-width="0.95" />
<line x1="358.60" y1="162.09" x2="362.20" y2="162.09" stroke="#dc7a1e" stroke-width="0.95" />
<line x1="373.40" y1="149.93" x2="373.40" y2="161.51" stroke="#dc7a1e" stroke-width="0.95" />
<line x1="371.60" y1="149.93" x2="375.20" y2="149.93" stroke="#dc7a1e" stroke-width="0.95" />
<line x1="371.60" y1="161.51" x2="375.20" y2="161.51" stroke="#dc7a1e" stroke-width="0.95" />
<line x1="386.40" y1="151.66" x2="386.40" y2="169.03" stroke="#dc7a1e" stroke-width="0.95" />
<line x1="384.60" y1="151.66" x2="388.20" y2="151.66" stroke="#dc7a1e" stroke-width="0.95" />
<line x1="384.60" y1="169.03" x2="388.20" y2="169.03" stroke="#dc7a1e" stroke-width="0.95" />
<line x1="399.40" y1="157.16" x2="399.40" y2="173.38" stroke="#dc7a1e" stroke-width="0.95" />
<line x1="397.60" y1="157.16" x2="401.20" y2="157.16" stroke="#dc7a1e" stroke-width="0.95" />
<line x1="397.60" y1="173.38" x2="401.20" y2="173.38" stroke="#dc7a1e" stroke-width="0.95" />
<line x1="412.40" y1="168.22" x2="412.40" y2="178.64" stroke="#dc7a1e" stroke-width="0.95" />
<line x1="410.60" y1="168.22" x2="414.20" y2="168.22" stroke="#dc7a1e" stroke-width="0.95" />
<line x1="410.60" y1="178.64" x2="414.20" y2="178.64" stroke="#dc7a1e" stroke-width="0.95" />
<line x1="425.40" y1="178.01" x2="425.40" y2="187.85" stroke="#dc7a1e" stroke-width="0.95" />
<line x1="423.60" y1="178.01" x2="427.20" y2="178.01" stroke="#dc7a1e" stroke-width="0.95" />
<line x1="423.60" y1="187.85" x2="427.20" y2="187.85" stroke="#dc7a1e" stroke-width="0.95" />
<line x1="438.40" y1="194.10" x2="438.40" y2="201.05" stroke="#dc7a1e" stroke-width="0.95" />
<line x1="436.60" y1="194.10" x2="440.20" y2="194.10" stroke="#dc7a1e" stroke-width="0.95" />
<line x1="436.60" y1="201.05" x2="440.20" y2="201.05" stroke="#dc7a1e" stroke-width="0.95" />
<line x1="334.40" y1="145.29" x2="334.40" y2="161.51" stroke="#279531" stroke-width="0.95" />
<line x1="332.60" y1="145.29" x2="336.20" y2="145.29" stroke="#279531" stroke-width="0.95" />
<line x1="332.60" y1="161.51" x2="336.20" y2="161.51" stroke="#279531" stroke-width="0.95" />
<line x1="347.40" y1="141.82" x2="347.40" y2="164.98" stroke="#279531" stroke-width="0.95" />
<line x1="345.60" y1="141.82" x2="349.20" y2="141.82" stroke="#279531" stroke-width="0.95" />
<line x1="345.60" y1="164.98" x2="349.20" y2="164.98" stroke="#279531" stroke-width="0.95" />
<line x1="360.40" y1="148.19" x2="360.40" y2="162.09" stroke="#279531" stroke-width="0.95" />
<line x1="358.60" y1="148.19" x2="362.20" y2="148.19" stroke="#279531" stroke-width="0.95" />
<line x1="358.60" y1="162.09" x2="362.20" y2="162.09" stroke="#279531" stroke-width="0.95" />
<line x1="373.40" y1="159.19" x2="373.40" y2="199.72" stroke="#279531" stroke-width="0.95" />
<line x1="371.60" y1="159.19" x2="375.20" y2="159.19" stroke="#279531" stroke-width="0.95" />
<line x1="371.60" y1="199.72" x2="375.20" y2="199.72" stroke="#279531" stroke-width="0.95" />
<line x1="386.40" y1="202.90" x2="386.40" y2="209.27" stroke="#279531" stroke-width="0.95" />
<line x1="384.60" y1="202.90" x2="388.20" y2="202.90" stroke="#279531" stroke-width="0.95" />
<line x1="384.60" y1="209.27" x2="388.20" y2="209.27" stroke="#279531" stroke-width="0.95" />
<line x1="399.40" y1="207.25" x2="399.40" y2="209.56" stroke="#279531" stroke-width="0.95" />
<line x1="397.60" y1="207.25" x2="401.20" y2="207.25" stroke="#279531" stroke-width="0.95" />
<line x1="397.60" y1="209.56" x2="401.20" y2="209.56" stroke="#279531" stroke-width="0.95" />
<line x1="412.40" y1="207.25" x2="412.40" y2="209.56" stroke="#279531" stroke-width="0.95" />
<line x1="410.60" y1="207.25" x2="414.20" y2="207.25" stroke="#279531" stroke-width="0.95" />
<line x1="410.60" y1="209.56" x2="414.20" y2="209.56" stroke="#279531" stroke-width="0.95" />
<line x1="425.40" y1="207.25" x2="425.40" y2="209.56" stroke="#279531" stroke-width="0.95" />
<line x1="423.60" y1="207.25" x2="427.20" y2="207.25" stroke="#279531" stroke-width="0.95" />
<line x1="423.60" y1="209.56" x2="427.20" y2="209.56" stroke="#279531" stroke-width="0.95" />
<line x1="438.40" y1="207.25" x2="438.40" y2="209.56" stroke="#279531" stroke-width="0.95" />
<line x1="436.60" y1="207.25" x2="440.20" y2="207.25" stroke="#279531" stroke-width="0.95" />
<line x1="436.60" y1="209.56" x2="440.20" y2="209.56" stroke="#279531" stroke-width="0.95" />
<line x1="334.40" y1="136.61" x2="334.40" y2="167.88" stroke="#7d157f" stroke-width="0.95" />
<line x1="332.60" y1="136.61" x2="336.20" y2="136.61" stroke="#7d157f" stroke-width="0.95" />
<line x1="332.60" y1="167.88" x2="336.20" y2="167.88" stroke="#7d157f" stroke-width="0.95" />
<line x1="347.40" y1="141.82" x2="347.40" y2="164.98" stroke="#7d157f" stroke-width="0.95" />
<line x1="345.60" y1="141.82" x2="349.20" y2="141.82" stroke="#7d157f" stroke-width="0.95" />
<line x1="345.60" y1="164.98" x2="349.20" y2="164.98" stroke="#7d157f" stroke-width="0.95" />
<line x1="360.40" y1="144.14" x2="360.40" y2="167.30" stroke="#7d157f" stroke-width="0.95" />
<line x1="358.60" y1="144.14" x2="362.20" y2="144.14" stroke="#7d157f" stroke-width="0.95" />
<line x1="358.60" y1="167.30" x2="362.20" y2="167.30" stroke="#7d157f" stroke-width="0.95" />
<line x1="373.40" y1="162.09" x2="373.40" y2="172.51" stroke="#7d157f" stroke-width="0.95" />
<line x1="371.60" y1="162.09" x2="375.20" y2="162.09" stroke="#7d157f" stroke-width="0.95" />
<line x1="371.60" y1="172.51" x2="375.20" y2="172.51" stroke="#7d157f" stroke-width="0.95" />
<line x1="386.40" y1="175.98" x2="386.40" y2="187.56" stroke="#7d157f" stroke-width="0.95" />
<line x1="384.60" y1="175.98" x2="388.20" y2="175.98" stroke="#7d157f" stroke-width="0.95" />
<line x1="384.60" y1="187.56" x2="388.20" y2="187.56" stroke="#7d157f" stroke-width="0.95" />
<line x1="399.40" y1="192.77" x2="399.40" y2="200.88" stroke="#7d157f" stroke-width="0.95" />
<line x1="397.60" y1="192.77" x2="401.20" y2="192.77" stroke="#7d157f" stroke-width="0.95" />
<line x1="397.60" y1="200.88" x2="401.20" y2="200.88" stroke="#7d157f" stroke-width="0.95" />
<line x1="412.40" y1="202.04" x2="412.40" y2="206.67" stroke="#7d157f" stroke-width="0.95" />
<line x1="410.60" y1="202.04" x2="414.20" y2="202.04" stroke="#7d157f" stroke-width="0.95" />
<line x1="410.60" y1="206.67" x2="414.20" y2="206.67" stroke="#7d157f" stroke-width="0.95" />
<line x1="425.40" y1="204.93" x2="425.40" y2="208.41" stroke="#7d157f" stroke-width="0.95" />
<line x1="423.60" y1="204.93" x2="427.20" y2="204.93" stroke="#7d157f" stroke-width="0.95" />
<line x1="423.60" y1="208.41" x2="427.20" y2="208.41" stroke="#7d157f" stroke-width="0.95" />
<line x1="438.40" y1="204.64" x2="438.40" y2="209.85" stroke="#7d157f" stroke-width="0.95" />
<line x1="436.60" y1="204.64" x2="440.20" y2="204.64" stroke="#7d157f" stroke-width="0.95" />
<line x1="436.60" y1="209.85" x2="440.20" y2="209.85" stroke="#7d157f" stroke-width="0.95" />
<path d="M334.40,146.24 L335.72,146.27 L337.03,146.30 L338.35,146.33 L339.67,146.37 L340.98,146.41 L342.30,146.45 L343.62,146.50 L344.93,146.54 L346.25,146.60 L347.56,146.66 L348.88,146.72 L350.20,146.79 L351.51,146.86 L352.83,146.94 L354.15,147.02 L355.46,147.11 L356.78,147.21 L358.10,147.31 L359.41,147.43 L360.73,147.55 L362.05,147.68 L363.36,147.82 L364.68,147.97 L365.99,148.13 L367.31,148.31 L368.63,148.50 L369.94,148.70 L371.26,148.92 L372.58,149.15 L373.89,149.40 L375.21,149.67 L376.53,149.95 L377.84,150.26 L379.16,150.59 L380.48,150.94 L381.79,151.31 L383.11,151.71 L384.43,152.13 L385.74,152.59 L387.06,153.07 L388.37,153.58 L389.69,154.12 L391.01,154.70 L392.32,155.30 L393.64,155.95 L394.96,156.62 L396.27,157.34 L397.59,158.09 L398.91,158.87 L400.22,159.70 L401.54,160.56 L402.86,161.46 L404.17,162.40 L405.49,163.38 L406.81,164.39 L408.12,165.43 L409.44,166.51 L410.75,167.62 L412.07,168.75 L413.39,169.92 L414.70,171.11 L416.02,172.32 L417.34,173.55 L418.65,174.79 L419.97,176.04 L421.29,177.31 L422.60,178.57 L423.92,179.84 L425.24,181.10 L426.55,182.35 L427.87,183.60 L429.18,184.83 L430.50,186.04 L431.82,187.23 L433.13,188.39 L434.45,189.53 L435.77,190.64 L437.08,191.72 L438.40,192.76" fill="none" stroke="#1f879c" stroke-width="1.3" stroke-linejoin="round"/>
<polygon points="334.40,148.17 332.20,144.17 336.60,144.17" fill="#1f879c"/>
<polygon points="347.40,148.75 345.20,144.75 349.60,144.75" fill="#1f879c"/>
<polygon points="360.40,149.91 358.20,145.91 362.60,145.91" fill="#1f879c"/>
<polygon points="373.40,152.23 371.20,148.23 375.60,148.23" fill="#1f879c"/>
<polygon points="386.40,154.25 384.20,150.25 388.60,150.25" fill="#1f879c"/>
<polygon points="399.40,162.07 397.20,158.07 401.60,158.07" fill="#1f879c"/>
<polygon points="412.40,171.33 410.20,167.33 414.60,167.33" fill="#1f879c"/>
<polygon points="425.40,180.60 423.20,176.60 427.60,176.60" fill="#1f879c"/>
<polygon points="438.40,195.07 436.20,191.07 440.60,191.07" fill="#1f879c"/>
<path d="M334.40,154.10 L335.72,154.12 L337.03,154.13 L338.35,154.14 L339.67,154.16 L340.98,154.18 L342.30,154.19 L343.62,154.22 L344.93,154.24 L346.25,154.26 L347.56,154.29 L348.88,154.32 L350.20,154.35 L351.51,154.39 L352.83,154.43 L354.15,154.47 L355.46,154.52 L356.78,154.57 L358.10,154.63 L359.41,154.69 L360.73,154.76 L362.05,154.83 L363.36,154.91 L364.68,155.00 L365.99,155.09 L367.31,155.20 L368.63,155.31 L369.94,155.44 L371.26,155.58 L372.58,155.73 L373.89,155.89 L375.21,156.07 L376.53,156.26 L377.84,156.47 L379.16,156.70 L380.48,156.95 L381.79,157.22 L383.11,157.51 L384.43,157.83 L385.74,158.18 L387.06,158.55 L388.37,158.95 L389.69,159.39 L391.01,159.85 L392.32,160.36 L393.64,160.90 L394.96,161.48 L396.27,162.10 L397.59,162.76 L398.91,163.47 L400.22,164.22 L401.54,165.02 L402.86,165.87 L404.17,166.76 L405.49,167.70 L406.81,168.68 L408.12,169.71 L409.44,170.78 L410.75,171.90 L412.07,173.05 L413.39,174.24 L414.70,175.46 L416.02,176.71 L417.34,177.99 L418.65,179.28 L419.97,180.59 L421.29,181.90 L422.60,183.22 L423.92,184.54 L425.24,185.85 L426.55,187.15 L427.87,188.42 L429.18,189.68 L430.50,190.90 L431.82,192.10 L433.13,193.25 L434.45,194.37 L435.77,195.45 L437.08,196.48 L438.40,197.47" fill="none" stroke="#dc7a1e" stroke-width="1.3" stroke-linejoin="round"/>
<rect x="332.40" y="152.56" width="4.00" height="4.00" fill="#dc7a1e" stroke="none" stroke-width="0.8" />
<rect x="345.40" y="152.56" width="4.00" height="4.00" fill="#dc7a1e" stroke="none" stroke-width="0.8" />
<rect x="358.40" y="154.30" width="4.00" height="4.00" fill="#dc7a1e" stroke="none" stroke-width="0.8" />
<rect x="371.40" y="153.72" width="4.00" height="4.00" fill="#dc7a1e" stroke="none" stroke-width="0.8" />
<rect x="384.40" y="158.35" width="4.00" height="4.00" fill="#dc7a1e" stroke="none" stroke-width="0.8" />
<rect x="397.40" y="163.27" width="4.00" height="4.00" fill="#dc7a1e" stroke="none" stroke-width="0.8" />
<rect x="410.40" y="171.43" width="4.00" height="4.00" fill="#dc7a1e" stroke="none" stroke-width="0.8" />
<rect x="423.40" y="180.93" width="4.00" height="4.00" fill="#dc7a1e" stroke="none" stroke-width="0.8" />
<rect x="436.40" y="195.58" width="4.00" height="4.00" fill="#dc7a1e" stroke="none" stroke-width="0.8" />
<path d="M334.40,153.40 L335.72,153.40 L337.03,153.40 L338.35,153.40 L339.67,153.40 L340.98,153.40 L342.30,153.40 L343.62,153.40 L344.93,153.40 L346.25,153.40 L347.56,153.40 L348.88,153.41 L350.20,153.41 L351.51,153.42 L352.83,153.43 L354.15,153.45 L355.46,153.48 L356.78,153.53 L358.10,153.60 L359.41,153.72 L360.73,153.91 L362.05,154.21 L363.36,154.68 L364.68,155.41 L365.99,156.53 L367.31,158.23 L368.63,160.72 L369.94,164.21 L371.26,168.83 L372.58,174.48 L373.89,180.77 L375.21,187.08 L376.53,192.77 L377.84,197.43 L379.16,200.97 L380.48,203.49 L381.79,205.22 L383.11,206.36 L384.43,207.11 L385.74,207.58 L387.06,207.89 L388.37,208.08 L389.69,208.20 L391.01,208.28 L392.32,208.32 L393.64,208.35 L394.96,208.37 L396.27,208.38 L397.59,208.39 L398.91,208.40 L400.22,208.40 L401.54,208.40 L402.86,208.40 L404.17,208.40 L405.49,208.40 L406.81,208.40 L408.12,208.40 L409.44,208.40 L410.75,208.40 L412.07,208.40 L413.39,208.40 L414.70,208.40 L416.02,208.40 L417.34,208.40 L418.65,208.40 L419.97,208.40 L421.29,208.40 L422.60,208.40 L423.92,208.40 L425.24,208.40 L426.55,208.40 L427.87,208.40 L429.18,208.40 L430.50,208.40 L431.82,208.40 L433.13,208.40 L434.45,208.40 L435.77,208.40 L437.08,208.40 L438.40,208.40" fill="none" stroke="#279531" stroke-width="1.3" stroke-linejoin="round"/>
<polygon points="334.40,151.10 332.20,155.10 336.60,155.10" fill="#279531"/>
<polygon points="347.40,151.10 345.20,155.10 349.60,155.10" fill="#279531"/>
<polygon points="360.40,152.84 358.20,156.84 362.60,156.84" fill="#279531"/>
<polygon points="373.40,177.16 371.20,181.16 375.60,181.16" fill="#279531"/>
<polygon points="386.40,203.79 384.20,207.79 388.60,207.79" fill="#279531"/>
<polygon points="399.40,206.10 397.20,210.10 401.60,210.10" fill="#279531"/>
<polygon points="412.40,206.10 410.20,210.10 414.60,210.10" fill="#279531"/>
<polygon points="425.40,206.10 423.20,210.10 427.60,210.10" fill="#279531"/>
<polygon points="438.40,206.10 436.20,210.10 440.60,210.10" fill="#279531"/>
<path d="M334.40,152.44 L335.72,152.47 L337.03,152.51 L338.35,152.55 L339.67,152.60 L340.98,152.66 L342.30,152.72 L343.62,152.79 L344.93,152.88 L346.25,152.98 L347.56,153.09 L348.88,153.22 L350.20,153.37 L351.51,153.55 L352.83,153.74 L354.15,153.97 L355.46,154.24 L356.78,154.53 L358.10,154.88 L359.41,155.27 L360.73,155.71 L362.05,156.22 L363.36,156.79 L364.68,157.44 L365.99,158.16 L367.31,158.98 L368.63,159.89 L369.94,160.90 L371.26,162.02 L372.58,163.24 L373.89,164.58 L375.21,166.03 L376.53,167.59 L377.84,169.26 L379.16,171.01 L380.48,172.86 L381.79,174.76 L383.11,176.73 L384.43,178.72 L385.74,180.72 L387.06,182.71 L388.37,184.68 L389.69,186.59 L391.01,188.43 L392.32,190.19 L393.64,191.86 L394.96,193.42 L396.27,194.87 L397.59,196.21 L398.91,197.44 L400.22,198.56 L401.54,199.58 L402.86,200.49 L404.17,201.31 L405.49,202.04 L406.81,202.68 L408.12,203.26 L409.44,203.76 L410.75,204.21 L412.07,204.60 L413.39,204.95 L414.70,205.25 L416.02,205.51 L417.34,205.74 L418.65,205.94 L419.97,206.11 L421.29,206.26 L422.60,206.39 L423.92,206.51 L425.24,206.61 L426.55,206.69 L427.87,206.77 L429.18,206.83 L430.50,206.89 L431.82,206.94 L433.13,206.98 L434.45,207.01 L435.77,207.05 L437.08,207.07 L438.40,207.10" fill="none" stroke="#7d157f" stroke-width="1.3" stroke-linejoin="round"/>
<circle cx="334.40" cy="152.24" r="2.0" fill="#7d157f"/>
<circle cx="347.40" cy="153.40" r="2.0" fill="#7d157f"/>
<circle cx="360.40" cy="155.72" r="2.0" fill="#7d157f"/>
<circle cx="373.40" cy="167.30" r="2.0" fill="#7d157f"/>
<circle cx="386.40" cy="181.77" r="2.0" fill="#7d157f"/>
<circle cx="399.40" cy="196.83" r="2.0" fill="#7d157f"/>
<circle cx="412.40" cy="204.35" r="2.0" fill="#7d157f"/>
<circle cx="425.40" cy="206.67" r="2.0" fill="#7d157f"/>
<circle cx="438.40" cy="207.25" r="2.0" fill="#7d157f"/>
<line x1="325.50" y1="106.30" x2="334.70" y2="106.30" stroke="#7d157f" stroke-width="1.3" />
<circle cx="330.10" cy="106.30" r="2.0" fill="#7d157f"/>
<text x="336.80" y="108.30" font-size="5.5" text-anchor="start" fill="#222" stroke="#222" stroke-width="0.044" >K-562<tspan font-size="3.75" dy="-2.4" fill="#333" stroke="none">Parental</tspan></text>
<line x1="325.50" y1="117.00" x2="334.70" y2="117.00" stroke="#279531" stroke-width="1.3" />
<polygon points="330.10,114.70 327.90,118.70 332.30,118.70" fill="#279531"/>
<text x="336.80" y="119.00" font-size="5.5" text-anchor="start" fill="#222" stroke="#222" stroke-width="0.044" >HAP1<tspan font-size="3.75" dy="-2.4" fill="#333" stroke="none">Parental</tspan></text>
<line x1="385.70" y1="106.30" x2="394.90" y2="106.30" stroke="#dc7a1e" stroke-width="1.3" />
<rect x="388.30" y="104.30" width="4.00" height="4.00" fill="#dc7a1e" stroke="none" stroke-width="0.8" />
<text x="397.00" y="108.30" font-size="5.5" text-anchor="start" fill="#222" stroke="#222" stroke-width="0.044" >K-562<tspan font-size="3.75" dy="-2.4" fill="#333" stroke="none">Mutagenized</tspan></text>
<line x1="385.70" y1="117.00" x2="394.90" y2="117.00" stroke="#1f879c" stroke-width="1.3" />
<polygon points="390.30,119.30 388.10,115.30 392.50,115.30" fill="#1f879c"/>
<text x="397.00" y="119.00" font-size="5.5" text-anchor="start" fill="#222" stroke="#222" stroke-width="0.044" >HAP1<tspan font-size="3.75" dy="-2.4" fill="#333" stroke="none">Mutagenized</tspan></text>
</g>
<g id="panel-d">
<text x="0.00" y="256.60" font-size="10.5" text-anchor="start" fill="#000" stroke="#000" stroke-width="0.084" font-weight="bold">d</text>
<text x="128.80" y="256.20" font-size="6.0" text-anchor="middle" fill="#333" stroke="#333" stroke-width="0.048" >HAP1: enriched sgRNAs after KPT-9274 treatment</text>
<line x1="115.70" y1="262.50" x2="115.70" y2="374.00" stroke="#333" stroke-width="0.6" stroke-dasharray="1.2,1.2"/>
<line x1="44.66" y1="318.30" x2="212.20" y2="318.30" stroke="#333" stroke-width="0.6" stroke-dasharray="1.2,1.2"/>
<polygon points="62.5,364.9 76.1,353.1 88.7,342.3 99.5,328.8 100.4,326.1 115.4,326.1 115.4,342.3 108.5,351.3 99.5,360.3 86.9,367.6 76.1,369.6 62.5,369.6" fill="#1f9e68" stroke="#1f9e68" stroke-width="0.8" stroke-linejoin="round"/>
<path d="M73.3,354.1h1.3M104.7,362.0h1.3M111.0,358.0h1.3M93.3,330.9h1.3M79.5,349.1h1.3M79.9,369.4h1.3M77.5,339.1h1.3M70.5,341.0h1.3M70.8,356.3h1.3M104.7,309.5h1.3M101.1,366.1h1.3M88.2,340.6h1.3M102.2,357.8h1.3M82.5,370.2h1.3M87.6,342.3h1.3M95.1,368.4h1.3M68.4,346.6h1.3M111.6,324.1h1.3M101.6,367.4h1.3M104.8,356.0h1.3M86.2,341.5h1.3M68.0,337.2h1.3M99.0,297.9h1.3M84.9,344.7h1.3M57.9,368.1h1.3M104.1,363.6h1.3M67.9,354.4h1.3M97.2,363.8h1.3M99.5,363.6h1.3M97.9,317.6h1.3M92.2,336.0h1.3M101.1,370.1h1.3M97.5,361.8h1.3M115.3,366.9h1.3M102.7,318.3h1.3M96.1,368.2h1.3M112.5,345.3h1.3M108.9,358.6h1.3M90.3,332.0h1.3M98.7,364.8h1.3M75.5,333.1h1.3M97.2,325.0h1.3M98.0,368.2h1.3M103.5,360.7h1.3M115.2,364.2h1.3M85.5,335.9h1.3M115.1,336.3h1.3M89.4,369.2h1.3M65.0,354.2h1.3M82.0,337.4h1.3M113.3,345.1h1.3M95.1,364.5h1.3M75.4,351.3h1.3M66.0,295.4h1.3M82.9,370.2h1.3M94.7,333.2h1.3M59.9,365.9h1.3M92.2,329.6h1.3M102.8,307.6h1.3M101.1,363.0h1.3M100.6,321.9h1.3M95.3,318.7h1.3M108.1,354.4h1.3M75.0,338.9h1.3M105.2,355.6h1.3M93.9,335.0h1.3M89.9,339.5h1.3M89.1,323.7h1.3M77.2,338.6h1.3M72.4,353.5h1.3M93.9,314.8h1.3M104.3,355.8h1.3M114.8,370.1h1.3M110.0,348.6h1.3M64.1,355.7h1.3M113.4,360.4h1.3M114.9,341.3h1.3M74.2,349.6h1.3M87.4,370.2h1.3M106.3,318.4h1.3M104.6,366.6h1.3M107.9,357.5h1.3M88.3,340.1h1.3M94.8,326.3h1.3M65.2,321.9h1.3M91.6,326.7h1.3M84.1,328.2h1.3M62.0,341.9h1.3M66.6,359.2h1.3M92.3,332.2h1.3M103.6,322.2h1.3M108.8,350.6h1.3M114.5,348.5h1.3M69.9,357.1h1.3M89.6,368.7h1.3M88.0,321.1h1.3M115.0,363.1h1.3M114.7,344.7h1.3M109.7,321.6h1.3M87.4,328.2h1.3M106.9,369.9h1.3M88.8,337.7h1.3M89.6,335.5h1.3M79.1,338.3h1.3M68.9,351.9h1.3M74.9,324.1h1.3M84.9,368.9h1.3M106.6,361.9h1.3M110.5,359.1h1.3M79.4,340.7h1.3M92.6,318.4h1.3M65.3,357.6h1.3M106.6,324.3h1.3M115.2,365.4h1.3M111.2,347.7h1.3M67.4,359.1h1.3M100.8,313.7h1.3M110.6,324.0h1.3M113.3,346.7h1.3M87.2,370.3h1.3M114.8,342.1h1.3M99.7,360.6h1.3M87.0,343.0h1.3M91.7,320.3h1.3M73.0,354.6h1.3M115.4,347.8h1.3M105.2,318.1h1.3M114.1,361.4h1.3M85.3,335.7h1.3M108.9,355.4h1.3M89.9,338.6h1.3M66.1,359.9h1.3M76.6,336.0h1.3M81.7,370.1h1.3M71.3,351.0h1.3M108.6,359.7h1.3M95.8,363.7h1.3M59.7,347.1h1.3M89.6,367.4h1.3M59.9,367.7h1.3M107.5,359.5h1.3M71.6,340.0h1.3M72.7,332.6h1.3M105.0,368.2h1.3M68.5,350.4h1.3M86.2,322.4h1.3M94.7,366.2h1.3M111.6,367.7h1.3M107.0,359.4h1.3M114.8,347.8h1.3M81.5,321.9h1.3M113.7,369.5h1.3M111.7,349.3h1.3M82.3,344.9h1.3M80.8,331.5h1.3M95.5,369.6h1.3M93.2,368.1h1.3M91.7,335.7h1.3M77.2,338.8h1.3M72.6,344.4h1.3M73.2,353.5h1.3M112.1,320.5h1.3M114.9,323.7h1.3M63.8,359.3h1.3M113.7,358.6h1.3M109.7,325.6h1.3M106.5,361.6h1.3M108.4,322.6h1.3M86.3,370.5h1.3M101.6,316.7h1.3M112.1,352.2h1.3M103.1,312.3h1.3M106.8,362.6h1.3M71.2,356.6h1.3M72.7,334.2h1.3M114.7,364.0h1.3M84.1,339.5h1.3M111.9,362.2h1.3M68.4,348.1h1.3M104.9,355.9h1.3M73.4,352.1h1.3M102.6,325.1h1.3M70.8,346.9h1.3M99.1,367.3h1.3M65.5,341.7h1.3M99.3,361.8h1.3M79.1,344.0h1.3M66.1,358.8h1.3M80.9,337.9h1.3M65.4,359.9h1.3M77.6,348.1h1.3M80.5,319.4h1.3M92.3,365.9h1.3M110.8,354.5h1.3M82.0,337.7h1.3M61.5,342.5h1.3M111.3,320.2h1.3M93.9,365.5h1.3M94.4,369.6h1.3M98.9,365.7h1.3M109.0,324.7h1.3M108.3,363.1h1.3M89.5,314.2h1.3M103.3,358.5h1.3M114.7,322.0h1.3M112.0,350.0h1.3M101.4,358.8h1.3M103.5,359.2h1.3M104.7,314.7h1.3M86.5,370.6h1.3M111.7,349.8h1.3M85.5,327.3h1.3M78.0,336.3h1.3M82.1,347.2h1.3M88.4,337.9h1.3M110.3,350.8h1.3M67.9,355.8h1.3M105.6,355.7h1.3M84.1,319.5h1.3M114.9,336.9h1.3M62.7,350.4h1.3M102.4,357.0h1.3M72.8,350.4h1.3M72.9,370.4h1.3M96.2,305.1h1.3M65.7,335.7h1.3M100.7,363.5h1.3M101.3,364.0h1.3M104.2,321.9h1.3M110.6,357.7h1.3M100.4,360.8h1.3M109.4,363.4h1.3M66.4,352.8h1.3M67.8,355.8h1.3M104.8,356.8h1.3M104.1,355.4h1.3M102.4,367.6h1.3M82.9,330.9h1.3M106.1,358.1h1.3M114.2,344.2h1.3M74.2,343.5h1.3M100.8,367.7h1.3M107.8,360.0h1.3M98.9,364.1h1.3M100.3,361.3h1.3M111.2,367.8h1.3M103.9,318.6h1.3M93.0,366.4h1.3M110.7,351.2h1.3M66.0,356.4h1.3M110.7,322.3h1.3M71.0,370.1h1.3M101.3,362.3h1.3M111.2,365.8h1.3M97.6,362.0h1.3M112.1,324.6h1.3M59.0,358.8h1.3M109.6,356.6h1.3M75.3,313.4h1.3M96.3,327.9h1.3M107.9,362.8h1.3M70.2,370.1h1.3M101.8,325.3h1.3M101.9,312.8h1.3M89.1,366.2h1.3M86.6,369.5h1.3M86.6,337.9h1.3M108.7,324.1h1.3M98.7,364.2h1.3M102.3,364.9h1.3M111.0,351.9h1.3M101.8,365.1h1.3M110.3,355.4h1.3M77.2,332.6h1.3M103.3,356.5h1.3M69.8,356.6h1.3M62.2,359.2h1.3M76.8,369.5h1.3M103.2,362.9h1.3M99.9,360.5h1.3M104.4,311.5h1.3M94.1,368.4h1.3M110.0,352.2h1.3M100.6,325.3h1.3M61.9,327.2h1.3M80.9,345.1h1.3M68.8,322.6h1.3M80.3,305.9h1.3M108.5,350.8h1.3M112.5,345.5h1.3M99.6,363.7h1.3M90.6,313.9h1.3M96.2,321.5h1.3M82.0,326.6h1.3M65.6,359.3h1.3M101.0,370.3h1.3M59.8,346.6h1.3M98.5,326.9h1.3M101.0,364.0h1.3M109.5,351.3h1.3M93.7,320.6h1.3M83.1,346.3h1.3M85.2,369.9h1.3M78.4,308.2h1.3M99.6,326.2h1.3M108.9,366.8h1.3M64.8,350.9h1.3M100.4,325.4h1.3M91.6,336.3h1.3M94.2,363.4h1.3M91.8,313.8h1.3M88.4,340.8h1.3M86.0,301.0h1.3M100.1,361.9h1.3M69.4,340.9h1.3M95.3,305.9h1.3M109.9,357.6h1.3M60.2,360.1h1.3M70.7,370.4h1.3M113.6,324.7h1.3M96.7,363.0h1.3M74.1,338.6h1.3M63.1,363.7h1.3M87.4,369.7h1.3M90.9,368.6h1.3M100.8,325.3h1.3M111.1,351.2h1.3M93.9,334.8h1.3M105.7,358.3h1.3M94.3,363.7h1.3M90.7,296.5h1.3M79.9,347.3h1.3M84.4,330.4h1.3M87.2,367.8h1.3M101.5,319.5h1.3M90.8,325.4h1.3M96.4,322.3h1.3M68.0,358.9h1.3M107.2,325.0h1.3M110.6,356.0h1.3M105.2,357.6h1.3M85.1,341.6h1.3M93.0,363.8h1.3M109.2,358.7h1.3M73.5,340.8h1.3M85.6,322.1h1.3M60.7,349.5h1.3M88.2,367.1h1.3M78.3,343.2h1.3M91.9,365.6h1.3M59.2,361.5h1.3M105.8,367.8h1.3M62.5,362.2h1.3M97.9,361.1h1.3M110.3,358.8h1.3M77.1,322.4h1.3M80.3,339.7h1.3M69.0,346.4h1.3M91.1,322.1h1.3M89.1,368.7h1.3M60.3,361.1h1.3M99.8,317.3h1.3M67.9,308.7h1.3M79.2,344.8h1.3M97.6,328.2h1.3M87.2,341.3h1.3M93.4,320.5h1.3M111.7,366.6h1.3M114.8,321.5h1.3M112.9,359.7h1.3M101.2,362.8h1.3M80.1,328.5h1.3M104.9,317.5h1.3M93.3,363.9h1.3M112.5,346.2h1.3M114.5,345.7h1.3M115.0,323.3h1.3M76.9,350.9h1.3M88.5,369.7h1.3M115.1,293.5h1.3M113.4,348.6h1.3M88.2,340.0h1.3M74.8,341.5h1.3M101.9,313.8h1.3M91.5,367.4h1.3M115.4,341.4h1.3M77.1,350.7h1.3M68.0,357.8h1.3M114.1,366.9h1.3M96.6,368.4h1.3M80.6,322.7h1.3M86.1,315.8h1.3M106.3,325.3h1.3M99.7,359.8h1.3M112.0,366.9h1.3M114.6,346.3h1.3M105.1,355.6h1.3M109.0,356.5h1.3M76.1,299.2h1.3M99.6,324.1h1.3M100.7,365.0h1.3M79.7,369.0h1.3M79.8,349.2h1.3M111.9,361.7h1.3M99.3,325.5h1.3M67.0,346.2h1.3M64.5,369.8h1.3M78.1,342.8h1.3M114.9,361.5h1.3M90.5,331.1h1.3M91.9,365.9h1.3M100.7,362.9h1.3M70.8,350.2h1.3M84.6,326.0h1.3M73.3,353.3h1.3M75.0,342.4h1.3M93.3,314.8h1.3M103.2,370.1h1.3M112.0,356.6h1.3M92.9,332.9h1.3M73.2,352.0h1.3M88.6,337.7h1.3M94.6,304.6h1.3M73.9,344.8h1.3M60.8,369.7h1.3M74.6,345.2h1.3M107.7,352.5h1.3M73.7,351.4h1.3M99.7,369.4h1.3M61.5,340.9h1.3M99.9,364.5h1.3M114.9,332.7h1.3M69.2,358.1h1.3M90.2,366.5h1.3M83.2,335.5h1.3M115.2,334.5h1.3M70.5,348.3h1.3M114.6,319.0h1.3M111.3,350.0h1.3M110.4,368.2h1.3M89.9,337.3h1.3M93.7,320.6h1.3M101.3,321.0h1.3M113.2,353.7h1.3M84.0,322.0h1.3M63.2,359.9h1.3M103.9,323.1h1.3M104.9,354.3h1.3M100.9,361.7h1.3M88.6,323.7h1.3M77.7,344.4h1.3M80.7,328.9h1.3M103.5,368.2h1.3M95.5,370.3h1.3M112.5,359.0h1.3M91.6,366.5h1.3M97.5,367.9h1.3M88.5,324.3h1.3M78.2,350.6h1.3M90.4,366.0h1.3M92.9,334.7h1.3M99.2,361.8h1.3M96.0,324.2h1.3M103.4,358.1h1.3M102.5,368.9h1.3M70.8,324.4h1.3M75.0,334.8h1.3M90.3,323.5h1.3M112.8,359.3h1.3M101.7,320.5h1.3M90.6,366.6h1.3M105.6,301.9h1.3M115.0,369.0h1.3M102.2,360.8h1.3M90.2,329.6h1.3M103.4,325.5h1.3M107.3,361.6h1.3M94.6,324.7h1.3M114.8,341.1h1.3M86.3,320.8h1.3M104.4,359.0h1.3M98.5,326.4h1.3M71.6,351.5h1.3M85.4,330.5h1.3M80.1,368.8h1.3M81.7,346.5h1.3M108.8,302.0h1.3M82.0,343.2h1.3M67.8,348.1h1.3M113.5,361.1h1.3M106.9,365.8h1.3M82.6,333.4h1.3M81.8,344.3h1.3M93.2,366.4h1.3M89.7,369.4h1.3M88.0,370.4h1.3M113.4,360.9h1.3M93.4,365.2h1.3M60.8,355.8h1.3M103.5,359.8h1.3M102.1,359.0h1.3M77.3,331.9h1.3M110.5,323.7h1.3M85.8,343.4h1.3M109.0,363.7h1.3M113.0,352.1h1.3M105.1,319.1h1.3M60.0,338.5h1.3M84.3,334.6h1.3M60.5,339.8h1.3M105.3,360.4h1.3M98.6,368.8h1.3M108.8,322.2h1.3M79.3,328.4h1.3M99.2,325.6h1.3M94.6,318.3h1.3M105.4,355.0h1.3M111.8,350.0h1.3M62.6,340.3h1.3M105.8,320.3h1.3M79.5,370.2h1.3M104.0,356.8h1.3M71.4,353.4h1.3M100.1,369.1h1.3M112.9,326.1h1.3M111.4,361.3h1.3M111.0,355.5h1.3M96.4,324.3h1.3M112.9,350.9h1.3M114.9,345.6h1.3M105.1,356.7h1.3M95.3,325.5h1.3M102.1,362.9h1.3M114.8,340.8h1.3M78.2,370.5h1.3M112.8,366.4h1.3M93.5,331.3h1.3M80.9,348.0h1.3M69.0,332.0h1.3M85.0,326.9h1.3M86.9,299.6h1.3M109.2,356.3h1.3M75.1,352.4h1.3M90.3,334.4h1.3M102.5,359.2h1.3M61.6,342.9h1.3M87.6,339.8h1.3M95.3,368.7h1.3M107.8,353.7h1.3M110.4,349.7h1.3M75.7,351.5h1.3M101.3,361.8h1.3M107.6,317.2h1.3M90.0,334.3h1.3M104.0,368.2h1.3M58.4,366.3h1.3M114.3,356.1h1.3M113.1,363.0h1.3M73.5,353.7h1.3M93.1,370.0h1.3M95.5,369.0h1.3M64.9,355.0h1.3M91.1,367.5h1.3M93.1,334.6h1.3M110.6,348.6h1.3M113.3,344.7h1.3M104.2,362.8h1.3M80.5,347.0h1.3M95.9,365.6h1.3M105.3,354.2h1.3M111.0,364.6h1.3M92.8,333.0h1.3M111.9,346.2h1.3M94.3,371.0h1.3M109.0,324.5h1.3M112.5,345.9h1.3M78.9,369.9h1.3M73.9,352.6h1.3M101.6,363.4h1.3M111.9,368.4h1.3M102.5,305.2h1.3M108.9,364.0h1.3M59.2,345.6h1.3M69.1,353.7h1.3M107.4,352.6h1.3M74.4,350.5h1.3M83.9,332.5h1.3M107.4,305.8h1.3M100.1,361.4h1.3M112.1,351.8h1.3M111.6,366.8h1.3M115.4,359.4h1.3M87.0,341.2h1.3M105.1,357.5h1.3M73.4,330.6h1.3M102.9,319.5h1.3M89.9,337.6h1.3M104.0,365.6h1.3M62.8,337.5h1.3M67.6,345.8h1.3M112.8,357.3h1.3M102.2,364.6h1.3M108.9,352.9h1.3M95.6,328.5h1.3M92.2,370.4h1.3M103.1,364.1h1.3M76.7,334.9h1.3M94.2,366.9h1.3M74.7,345.0h1.3M97.5,325.3h1.3M99.4,367.2h1.3M104.7,361.1h1.3M108.4,319.7h1.3M84.8,330.5h1.3M112.8,358.7h1.3M111.9,359.0h1.3M67.6,355.4h1.3M71.5,354.3h1.3M111.7,353.3h1.3M74.4,325.2h1.3M80.9,307.7h1.3M110.9,356.6h1.3M85.7,370.0h1.3M101.3,366.5h1.3M87.5,338.5h1.3M71.1,347.7h1.3M109.6,359.4h1.3M68.8,353.7h1.3M84.8,368.9h1.3M101.9,366.7h1.3M83.9,335.5h1.3M98.1,365.5h1.3M113.5,351.9h1.3M82.8,335.0h1.3M113.4,350.4h1.3M98.3,366.3h1.3M115.3,349.5h1.3M89.3,337.3h1.3M110.1,355.9h1.3M89.8,332.9h1.3M98.6,366.7h1.3M103.4,318.5h1.3M98.0,362.2h1.3M100.0,369.4h1.3M110.5,352.7h1.3M61.8,360.8h1.3M114.4,346.2h1.3M99.0,361.2h1.3M105.3,325.4h1.3M69.8,353.8h1.3M110.3,356.6h1.3M90.2,367.3h1.3M93.6,332.8h1.3M101.7,308.9h1.3M80.9,346.6h1.3M92.6,364.7h1.3M103.8,358.6h1.3M86.4,369.8h1.3M63.6,369.7h1.3M81.2,307.9h1.3M72.9,344.0h1.3M72.7,332.5h1.3M101.0,362.5h1.3M69.3,356.5h1.3M81.1,336.0h1.3M66.9,360.0h1.3M103.0,364.5h1.3M112.6,345.3h1.3M87.1,370.5h1.3M101.4,362.1h1.3M83.8,368.7h1.3M113.4,325.4h1.3M100.1,360.5h1.3M112.6,345.7h1.3M105.8,325.4h1.3M112.0,346.2h1.3M83.4,321.4h1.3M110.6,357.2h1.3M96.7,367.2h1.3M64.1,357.5h1.3M104.9,357.5h1.3M91.2,313.1h1.3M60.2,345.2h1.3M98.8,365.3h1.3M112.8,352.1h1.3M68.2,330.0h1.3M113.8,324.5h1.3M88.0,327.8h1.3M73.9,328.5h1.3M87.3,368.1h1.3M102.9,361.3h1.3M108.4,350.7h1.3M91.0,334.0h1.3M103.4,362.6h1.3M113.8,345.4h1.3M103.4,326.1h1.3M89.0,337.0h1.3M66.1,349.2h1.3M108.2,320.3h1.3M98.3,362.0h1.3M111.3,356.1h1.3M86.6,325.1h1.3M114.8,348.9h1.3M108.8,368.2h1.3M103.8,366.8h1.3M77.5,350.9h1.3M96.3,370.3h1.3M113.1,362.6h1.3M68.6,369.7h1.3M110.4,364.0h1.3M110.3,353.1h1.3M109.7,318.5h1.3M95.8,364.8h1.3M82.2,346.7h1.3M93.4,368.1h1.3M114.5,346.5h1.3M59.0,361.5h1.3M67.9,346.1h1.3M100.4,360.1h1.3M102.5,368.8h1.3M69.4,345.3h1.3M90.1,313.6h1.3M96.7,368.7h1.3M61.5,334.6h1.3M72.3,354.4h1.3M80.4,348.7h1.3M111.3,366.1h1.3M108.8,360.8h1.3M71.9,328.8h1.3M59.0,334.8h1.3M114.9,353.0h1.3M110.9,325.9h1.3M87.6,328.9h1.3M113.9,361.4h1.3M108.1,354.9h1.3M108.4,370.6h1.3M107.9,353.7h1.3M80.7,346.8h1.3M115.3,367.7h1.3M114.7,320.4h1.3M96.4,362.1h1.3M113.2,351.6h1.3M76.8,351.4h1.3M92.6,368.2h1.3M109.5,367.1h1.3M114.5,354.3h1.3M100.5,366.5h1.3M107.0,367.8h1.3M113.4,350.8h1.3M114.8,343.8h1.3M71.8,370.1h1.3M100.5,361.9h1.3M95.4,362.9h1.3M101.9,358.6h1.3M79.6,347.8h1.3M94.0,365.8h1.3M94.1,367.5h1.3M72.8,316.6h1.3M89.9,322.3h1.3M98.4,307.3h1.3M91.2,330.8h1.3M102.9,323.4h1.3M113.7,346.1h1.3M101.9,357.8h1.3M73.9,345.2h1.3M109.8,356.0h1.3M90.8,320.5h1.3M102.4,324.5h1.3M97.8,318.2h1.3M72.5,347.0h1.3M74.3,369.7h1.3M89.3,331.5h1.3M114.9,345.0h1.3M113.5,357.5h1.3M114.2,367.5h1.3M80.0,370.4h1.3M65.1,332.9h1.3M93.1,333.2h1.3M114.1,347.0h1.3M66.4,356.9h1.3M98.1,362.0h1.3M89.8,302.4h1.3M73.4,333.7h1.3M73.2,369.7h1.3M94.9,332.0h1.3M100.5,311.5h1.3M62.4,362.4h1.3M104.7,363.5h1.3M91.8,365.6h1.3M62.8,362.8h1.3M104.8,365.5h1.3M91.1,337.5h1.3M108.6,322.6h1.3M108.9,358.8h1.3M98.6,364.7h1.3M105.9,358.9h1.3M112.9,346.2h1.3M96.8,322.2h1.3M109.2,353.1h1.3M102.5,359.0h1.3M87.9,330.0h1.3M75.5,337.3h1.3M101.6,366.2h1.3M91.5,365.3h1.3M107.8,325.7h1.3M82.6,345.1h1.3M114.2,367.6h1.3M105.9,363.0h1.3M104.5,358.2h1.3M72.8,348.9h1.3M96.7,325.0h1.3M106.5,360.9h1.3M106.5,369.6h1.3M68.0,358.2h1.3M95.6,329.3h1.3M78.2,343.6h1.3M99.8,326.0h1.3M75.1,332.7h1.3M97.1,366.3h1.3M106.6,358.1h1.3M67.6,319.9h1.3M66.1,337.4h1.3M86.2,339.7h1.3M114.9,328.4h1.3M88.2,316.8h1.3M98.1,328.4h1.3M73.8,348.9h1.3M114.6,347.5h1.3M94.9,363.6h1.3M97.2,364.1h1.3M79.6,313.5h1.3M108.3,360.1h1.3M92.9,327.3h1.3M72.2,338.1h1.3M110.8,323.9h1.3M104.6,359.3h1.3M91.5,366.0h1.3M74.0,324.8h1.3M95.6,323.2h1.3M102.3,366.1h1.3M65.5,357.0h1.3M115.1,358.6h1.3M108.1,320.9h1.3M87.4,321.7h1.3M102.7,360.4h1.3M98.0,366.3h1.3M109.2,355.4h1.3M61.5,354.5h1.3M68.5,358.1h1.3M112.1,359.5h1.3M80.4,347.3h1.3M82.9,339.1h1.3M73.6,346.1h1.3M75.8,351.1h1.3M99.9,306.2h1.3M83.1,341.7h1.3M104.0,356.2h1.3M105.6,320.4h1.3M97.5,296.6h1.3M108.2,351.8h1.3M89.7,323.9h1.3M103.2,361.0h1.3M115.1,336.2h1.3M83.5,369.0h1.3M71.5,370.1h1.3M79.0,346.5h1.3M75.3,369.9h1.3M112.6,324.6h1.3M112.3,369.2h1.3M79.4,369.5h1.3M106.4,357.7h1.3M108.9,357.3h1.3M111.1,367.6h1.3M95.0,333.4h1.3M109.4,364.8h1.3M114.8,329.1h1.3M104.5,357.1h1.3M94.4,367.2h1.3M68.4,355.2h1.3M100.1,360.1h1.3M99.7,368.4h1.3M66.6,354.7h1.3M109.0,355.6h1.3M110.8,348.4h1.3M106.3,354.9h1.3M105.1,360.7h1.3M104.7,358.7h1.3M61.4,370.3h1.3M104.8,357.4h1.3M94.7,330.4h1.3M70.5,348.7h1.3M100.6,312.6h1.3M91.5,367.2h1.3M78.2,348.7h1.3M72.1,326.5h1.3M99.6,364.1h1.3M90.5,317.5h1.3M80.2,341.4h1.3M104.6,360.6h1.3M98.1,361.5h1.3M81.8,369.2h1.3M108.9,367.8h1.3M87.0,335.0h1.3M88.9,335.1h1.3M65.7,352.6h1.3M78.5,327.3h1.3M104.7,362.1h1.3M82.0,302.6h1.3M91.5,366.5h1.3M79.1,371.0h1.3M58.7,331.8h1.3M93.8,370.2h1.3M85.4,332.3h1.3M101.4,314.8h1.3M114.3,361.1h1.3M90.4,328.5h1.3M67.0,359.1h1.3M107.6,321.6h1.3M67.5,331.4h1.3M107.3,352.6h1.3M107.9,356.7h1.3M85.3,327.2h1.3M96.4,321.0h1.3M78.7,329.4h1.3M74.1,337.5h1.3M115.3,344.1h1.3M99.0,366.4h1.3M75.8,301.2h1.3M96.6,331.5h1.3M113.4,367.4h1.3M97.5,366.0h1.3M115.2,328.6h1.3M115.4,344.8h1.3M100.9,363.4h1.3M109.8,356.4h1.3M73.4,354.8h1.3M72.3,328.4h1.3M94.1,327.6h1.3M115.3,367.0h1.3M104.1,325.2h1.3M98.5,362.4h1.3M84.6,342.8h1.3M110.6,325.5h1.3M109.2,326.1h1.3M68.6,322.7h1.3M115.0,335.2h1.3M78.3,323.4h1.3M104.6,361.4h1.3M99.7,359.6h1.3M89.0,370.1h1.3M107.4,358.0h1.3M113.6,345.6h1.3M72.7,346.4h1.3M95.8,362.5h1.3M99.9,365.9h1.3M102.2,321.9h1.3M113.9,359.1h1.3M73.0,352.3h1.3M109.6,352.4h1.3M126.7,345.8h1.3M119.3,363.5h1.3M143.6,365.4h1.3M127.7,347.2h1.3M116.3,340.9h1.3M137.3,362.4h1.3M133.8,365.8h1.3M130.7,354.5h1.3M135.7,361.4h1.3M152.7,371.3h1.3M119.7,342.7h1.3M127.7,340.9h1.3M119.0,358.2h1.3M137.3,370.3h1.3M125.9,347.8h1.3M142.1,344.7h1.3M118.5,366.4h1.3M116.2,360.2h1.3M127.9,354.8h1.3M153.1,342.5h1.3M134.5,359.2h1.3M119.1,340.1h1.3M134.4,364.8h1.3M117.9,364.7h1.3M120.6,364.3h1.3M115.4,357.9h1.3M125.3,354.3h1.3M143.2,364.8h1.3M126.1,355.3h1.3M117.5,364.1h1.3M154.5,361.9h1.3M133.1,363.8h1.3M123.0,365.0h1.3M123.0,343.1h1.3M116.6,343.5h1.3M122.4,359.4h1.3M123.6,352.9h1.3M118.8,347.0h1.3M154.9,359.4h1.3M125.2,359.5h1.3M149.3,348.7h1.3M116.9,361.6h1.3M119.3,367.6h1.3M165.6,354.7h1.3M125.4,368.1h1.3M141.2,369.0h1.3M115.4,363.1h1.3M171.1,357.1h1.3M125.3,351.9h1.3M123.5,349.2h1.3M118.9,366.8h1.3M128.1,369.7h1.3M120.1,363.6h1.3M116.9,348.6h1.3M146.6,367.4h1.3M117.6,363.9h1.3M126.2,344.6h1.3M143.1,367.6h1.3M121.8,368.6h1.3M142.2,349.3h1.3M162.5,360.7h1.3M128.8,365.0h1.3M170.5,359.3h1.3M140.9,363.6h1.3M119.5,358.8h1.3M121.3,359.4h1.3M168.4,355.4h1.3M129.3,346.1h1.3M129.2,344.9h1.3M133.7,370.6h1.3M119.0,342.2h1.3M139.2,350.6h1.3M127.2,352.5h1.3M126.5,361.9h1.3M133.5,363.2h1.3M120.4,371.5h1.3M148.9,357.6h1.3M174.7,350.0h1.3M115.3,358.3h1.3M121.3,352.5h1.3M138.1,359.9h1.3M140.4,352.3h1.3M120.3,364.3h1.3M118.5,360.2h1.3M119.4,349.0h1.3M133.6,361.0h1.3M116.0,357.0h1.3M128.1,358.8h1.3M137.9,363.9h1.3M139.9,347.7h1.3M116.2,354.8h1.3M127.6,353.3h1.3M151.3,351.7h1.3M134.2,342.9h1.3M125.8,347.5h1.3M128.7,351.7h1.3M120.7,371.1h1.3M139.6,343.9h1.3M155.7,366.0h1.3M119.1,363.0h1.3M115.2,356.0h1.3M128.4,350.7h1.3M153.8,368.2h1.3M143.5,363.7h1.3M121.6,362.6h1.3M117.2,367.4h1.3M116.2,366.5h1.3M119.3,344.7h1.3M120.4,368.9h1.3M168.2,361.1h1.3M137.6,357.4h1.3M117.3,354.8h1.3M133.2,348.4h1.3M116.6,371.0h1.3M126.3,370.7h1.3M129.1,362.8h1.3M123.5,351.7h1.3M139.4,352.7h1.3M138.0,341.2h1.3M119.3,364.7h1.3M150.6,366.1h1.3M120.6,370.7h1.3M120.8,350.7h1.3M121.9,363.0h1.3M126.2,367.1h1.3M116.7,354.5h1.3M122.1,352.9h1.3M118.7,360.2h1.3M115.1,366.2h1.3M121.7,371.3h1.3M167.9,363.7h1.3M120.7,367.9h1.3M126.2,362.1h1.3M136.4,362.5h1.3M115.1,370.7h1.3M124.5,348.6h1.3M141.0,366.6h1.3M160.8,368.9h1.3M116.5,345.7h1.3M141.8,367.0h1.3M121.6,363.8h1.3M148.3,366.9h1.3M165.5,360.7h1.3M136.8,347.3h1.3M118.3,341.8h1.3M151.8,365.2h1.3M129.4,369.3h1.3M119.5,348.5h1.3M130.5,347.9h1.3M118.4,366.8h1.3M119.3,368.3h1.3M117.4,356.4h1.3M151.2,358.5h1.3M132.5,356.0h1.3M116.3,360.9h1.3M115.2,349.0h1.3M119.2,367.9h1.3M124.1,364.0h1.3M140.0,365.4h1.3M121.8,361.2h1.3M117.5,341.8h1.3M124.7,350.8h1.3M146.8,365.6h1.3M121.4,355.0h1.3M117.0,361.7h1.3M128.8,368.2h1.3M128.8,367.2h1.3M117.6,353.2h1.3M129.3,361.8h1.3M144.9,366.7h1.3M121.4,366.7h1.3M145.8,359.7h1.3M129.5,366.2h1.3M117.2,349.8h1.3M124.8,356.6h1.3M118.9,358.3h1.3M117.1,362.9h1.3M173.2,364.3h1.3M135.2,356.8h1.3M159.6,351.8h1.3M128.6,370.7h1.3M137.1,352.1h1.3M117.6,365.6h1.3M140.0,355.2h1.3M118.1,356.4h1.3M116.0,361.0h1.3M125.2,353.0h1.3M119.1,367.9h1.3M123.2,346.8h1.3M137.0,356.0h1.3M130.0,363.3h1.3M119.5,363.1h1.3M151.9,359.8h1.3M130.4,361.8h1.3M116.4,353.8h1.3M121.3,365.4h1.3M117.9,365.6h1.3M125.0,353.2h1.3M136.6,355.1h1.3M119.1,345.7h1.3M119.0,347.7h1.3M129.8,349.3h1.3M125.9,370.0h1.3M118.2,364.9h1.3M136.7,360.6h1.3M130.1,364.0h1.3M124.6,354.7h1.3M148.6,357.9h1.3M141.7,353.2h1.3M117.3,367.0h1.3M125.2,363.1h1.3M154.2,358.2h1.3M122.4,341.4h1.3M141.2,362.3h1.3M143.5,355.9h1.3M118.2,370.5h1.3M130.8,359.3h1.3M116.6,365.3h1.3M140.3,363.0h1.3M115.7,369.4h1.3M135.5,354.0h1.3M124.3,367.0h1.3M139.3,353.5h1.3M162.9,350.5h1.3M117.6,351.4h1.3M116.1,362.6h1.3M150.1,364.7h1.3M128.7,359.2h1.3M133.7,346.8h1.3M122.2,359.5h1.3M130.9,362.5h1.3M119.5,369.2h1.3M118.7,358.7h1.3M137.5,368.4h1.3M116.4,342.3h1.3M121.0,351.2h1.3M135.5,341.0h1.3M132.5,371.3h1.3M121.0,355.0h1.3M127.6,360.3h1.3M117.4,362.1h1.3M127.9,350.0h1.3M125.4,358.1h1.3M116.3,357.4h1.3M118.2,364.6h1.3M129.0,357.7h1.3M116.7,346.1h1.3M133.4,363.1h1.3M128.5,364.8h1.3M126.9,358.3h1.3M124.9,367.2h1.3M127.6,344.1h1.3M165.3,356.9h1.3M119.0,359.5h1.3M121.3,359.9h1.3M115.5,356.1h1.3M135.5,362.8h1.3M120.5,366.4h1.3M116.4,351.7h1.3M134.3,352.7h1.3M131.9,370.8h1.3M121.4,340.6h1.3M116.5,369.9h1.3M118.0,365.0h1.3M127.7,359.9h1.3M145.2,357.0h1.3M119.9,352.2h1.3M117.5,370.2h1.3M116.1,359.4h1.3M128.2,357.5h1.3M130.0,357.1h1.3M151.3,369.2h1.3M128.0,368.4h1.3M125.9,358.9h1.3M127.6,345.7h1.3M123.7,360.5h1.3M117.3,369.1h1.3M159.9,368.6h1.3M118.2,349.6h1.3M134.5,358.5h1.3M122.9,359.6h1.3M129.0,344.8h1.3M136.0,344.8h1.3M122.7,360.0h1.3M124.6,361.5h1.3M119.3,363.3h1.3M131.6,358.8h1.3M118.5,351.8h1.3M140.7,360.5h1.3M124.2,352.6h1.3M118.4,360.7h1.3M118.4,370.5h1.3M118.0,353.8h1.3M118.9,357.6h1.3M126.0,364.7h1.3M123.1,365.9h1.3M117.3,361.0h1.3M120.5,347.0h1.3M130.1,359.8h1.3M127.7,353.8h1.3M127.7,355.5h1.3M125.9,370.6h1.3M140.2,357.1h1.3M123.8,354.7h1.3M119.9,344.2h1.3M115.4,357.8h1.3M117.9,358.1h1.3M119.6,351.4h1.3M138.2,366.2h1.3M121.5,368.6h1.3M123.0,346.6h1.3M122.4,364.3h1.3M118.3,360.1h1.3M117.0,362.3h1.3M119.2,355.0h1.3M117.3,357.3h1.3M119.2,350.2h1.3M124.2,356.0h1.3M146.4,367.6h1.3M123.6,361.6h1.3M122.8,352.5h1.3M120.0,370.2h1.3M120.4,366.7h1.3M118.8,358.9h1.3M129.3,353.1h1.3M118.5,361.5h1.3M135.0,340.3h1.3M122.8,348.2h1.3M129.4,346.6h1.3M118.6,371.1h1.3M117.7,359.9h1.3M127.0,354.4h1.3M122.9,362.6h1.3M123.2,369.0h1.3M120.6,357.9h1.3M134.4,370.6h1.3M118.5,364.1h1.3M116.1,348.7h1.3M121.8,362.8h1.3M129.0,368.7h1.3M119.6,356.9h1.3M116.9,369.0h1.3M153.8,365.1h1.3M115.7,363.3h1.3M132.9,344.7h1.3M117.9,363.1h1.3M133.9,342.3h1.3M142.4,344.2h1.3M136.6,365.6h1.3M141.7,364.4h1.3M149.4,343.1h1.3M135.5,360.6h1.3M148.0,365.7h1.3M117.9,348.4h1.3M156.2,346.5h1.3M130.8,350.8h1.3M125.1,343.2h1.3M119.0,370.7h1.3M173.7,370.6h1.3M120.6,349.5h1.3M118.5,370.0h1.3M119.2,350.8h1.3M124.9,346.9h1.3M130.4,366.3h1.3M124.7,367.5h1.3M131.7,360.5h1.3M122.3,352.8h1.3M134.6,362.9h1.3M119.1,359.7h1.3M117.1,360.9h1.3M118.9,357.8h1.3M171.2,343.1h1.3M116.2,364.8h1.3M134.3,352.0h1.3M116.3,364.5h1.3M120.4,353.0h1.3M162.6,359.6h1.3M117.5,344.8h1.3M141.5,349.0h1.3M154.1,362.5h1.3M148.2,365.9h1.3M133.4,353.1h1.3M117.5,370.1h1.3M163.2,350.9h1.3M133.2,369.3h1.3M117.1,362.8h1.3M139.7,343.7h1.3M127.5,371.5h1.3M123.5,370.3h1.3M140.3,356.8h1.3M127.5,353.3h1.3M138.3,355.8h1.3M123.5,353.8h1.3M116.8,359.9h1.3M120.1,357.3h1.3M122.3,359.4h1.3M117.5,370.0h1.3M129.3,352.4h1.3M129.3,368.5h1.3M118.2,349.8h1.3M115.6,358.8h1.3M132.7,342.6h1.3M121.6,354.5h1.3M145.7,361.2h1.3M121.3,342.8h1.3M159.1,370.4h1.3M125.7,359.2h1.3M157.3,362.1h1.3M146.3,355.6h1.3M129.2,354.3h1.3M140.2,358.4h1.3M118.8,358.3h1.3M137.7,369.3h1.3M139.9,341.8h1.3M123.2,362.3h1.3M144.3,346.6h1.3M126.4,340.1h1.3M130.8,364.5h1.3M161.7,345.2h1.3M119.7,357.7h1.3M120.4,365.0h1.3M123.3,345.2h1.3M136.3,359.7h1.3M123.1,356.8h1.3M123.1,360.0h1.3M115.1,370.3h1.3M122.0,369.4h1.3M127.0,350.1h1.3M123.4,353.1h1.3M135.2,359.7h1.3M117.2,354.1h1.3M119.0,351.2h1.3M147.8,363.0h1.3M118.2,345.5h1.3M116.6,368.2h1.3M116.1,363.2h1.3M145.3,357.4h1.3M121.7,362.0h1.3M119.9,350.1h1.3M150.5,364.5h1.3M131.3,370.1h1.3M147.8,361.2h1.3M138.1,366.1h1.3M133.4,365.5h1.3M123.2,361.7h1.3M120.9,343.1h1.3M132.8,359.5h1.3M136.5,361.0h1.3M134.3,347.8h1.3M126.4,364.0h1.3M149.9,363.9h1.3M126.7,371.2h1.3M146.4,357.8h1.3M124.5,370.7h1.3M127.1,348.0h1.3M116.0,358.3h1.3M121.1,359.4h1.3M118.8,348.7h1.3M126.3,363.6h1.3M136.7,362.3h1.3M132.1,354.7h1.3M117.8,357.2h1.3M119.3,358.9h1.3M116.8,370.0h1.3M121.8,353.6h1.3M117.9,366.4h1.3M123.2,356.8h1.3M152.1,363.4h1.3M130.9,359.5h1.3M116.3,356.6h1.3M128.7,357.4h1.3M119.4,358.6h1.3M144.0,370.7h1.3M118.8,348.8h1.3M129.1,353.5h1.3M167.2,346.0h1.3M124.7,362.2h1.3M141.4,360.3h1.3M119.1,363.4h1.3M126.1,367.9h1.3M136.6,347.8h1.3M122.1,359.6h1.3M118.4,360.5h1.3M130.9,355.0h1.3M123.2,357.3h1.3M142.7,356.0h1.3M148.1,357.1h1.3M116.1,356.5h1.3M119.6,356.7h1.3M130.2,370.4h1.3M151.2,367.9h1.3M127.6,366.8h1.3M121.3,364.4h1.3M129.0,364.5h1.3M115.4,361.0h1.3M119.4,356.0h1.3M143.3,341.6h1.3M170.7,366.8h1.3M132.8,367.3h1.3M119.4,364.0h1.3M116.4,369.4h1.3M138.3,357.9h1.3M151.9,357.9h1.3M154.6,347.6h1.3M120.3,351.6h1.3M153.8,356.4h1.3M126.1,360.6h1.3M129.7,340.5h1.3M120.3,361.0h1.3M126.6,342.9h1.3M141.6,351.1h1.3M119.3,329.3h1.3M127.9,324.5h1.3M126.3,329.5h1.3M131.7,325.4h1.3M122.3,330.3h1.3M120.3,338.8h1.3M122.7,325.8h1.3M117.4,333.1h1.3M120.8,333.1h1.3M119.4,333.7h1.3M125.9,329.8h1.3M118.5,333.5h1.3M136.3,329.5h1.3M116.5,330.0h1.3M117.6,337.4h1.3M134.2,328.7h1.3M120.7,334.6h1.3M135.2,326.7h1.3M119.7,338.3h1.3M121.9,334.6h1.3M126.7,323.9h1.3M122.1,337.4h1.3M125.6,338.9h1.3M127.9,329.4h1.3M133.2,322.8h1.3M135.3,338.3h1.3M131.0,325.8h1.3M127.9,323.2h1.3M121.8,331.3h1.3M121.6,332.9h1.3M127.0,333.3h1.3M130.6,324.4h1.3M135.0,331.6h1.3M131.6,336.4h1.3M118.6,326.2h1.3" stroke="#1f9e68" stroke-width="1.3" fill="none"/>
<line x1="100.20" y1="318.30" x2="115.90" y2="318.30" stroke="#1f9e68" stroke-width="1.0" />
<line x1="104.00" y1="320.30" x2="115.90" y2="320.30" stroke="#1f9e68" stroke-width="0.35" />
<line x1="100.60" y1="321.90" x2="115.90" y2="321.90" stroke="#1f9e68" stroke-width="0.7" />
<line x1="100.20" y1="323.20" x2="115.90" y2="323.20" stroke="#1f9e68" stroke-width="0.7" />
<line x1="100.80" y1="324.40" x2="115.90" y2="324.40" stroke="#1f9e68" stroke-width="0.75" />
<line x1="100.30" y1="325.50" x2="115.90" y2="325.50" stroke="#1f9e68" stroke-width="0.8" />
<circle cx="174.90" cy="274.00" r="0.6" fill="#3b5f63"/>
<text x="174.80" y="271.90" font-size="3.4" text-anchor="middle" fill="#b4babc" stroke="#b4babc" stroke-width="0.027" >NAMPT_62</text>
<circle cx="200.40" cy="280.40" r="0.6" fill="#3b5f63"/>
<text x="200.90" y="278.80" font-size="3.4" text-anchor="middle" fill="#b4babc" stroke="#b4babc" stroke-width="0.027" >NAMPT_71</text>
<circle cx="175.30" cy="289.60" r="0.6" fill="#3b5f63"/>
<text x="177.80" y="288.10" font-size="3.4" text-anchor="middle" fill="#b4babc" stroke="#b4babc" stroke-width="0.027" >NAMPT_145</text>
<circle cx="210.10" cy="287.70" r="0.6" fill="#3b5f63"/>
<text x="211.80" y="292.00" font-size="3.4" text-anchor="middle" fill="#b4babc" stroke="#b4babc" stroke-width="0.027" >NAMPT_34</text>
<circle cx="159.20" cy="292.80" r="0.6" fill="#3b5f63"/>
<text x="152.80" y="290.50" font-size="3.4" text-anchor="middle" fill="#b4babc" stroke="#b4babc" stroke-width="0.027" >NAMPT_33</text>
<circle cx="162.40" cy="294.50" r="0.6" fill="#3b5f63"/>
<text x="164.40" y="299.20" font-size="3.4" text-anchor="middle" fill="#b4babc" stroke="#b4babc" stroke-width="0.027" >NAMPT_70</text>
<line x1="44.66" y1="261.60" x2="44.66" y2="374.40" stroke="#000" stroke-width="0.9" />
<line x1="44.26" y1="374.00" x2="210.82" y2="374.00" stroke="#000" stroke-width="0.9" />
<line x1="42.76" y1="372.38" x2="44.66" y2="372.38" stroke="#000" stroke-width="0.6" />
<line x1="42.76" y1="364.06" x2="44.66" y2="364.06" stroke="#000" stroke-width="0.6" />
<line x1="42.76" y1="359.90" x2="44.66" y2="359.90" stroke="#000" stroke-width="0.6" />
<line x1="42.76" y1="355.74" x2="44.66" y2="355.74" stroke="#000" stroke-width="0.6" />
<line x1="42.76" y1="347.42" x2="44.66" y2="347.42" stroke="#000" stroke-width="0.6" />
<line x1="42.76" y1="343.26" x2="44.66" y2="343.26" stroke="#000" stroke-width="0.6" />
<line x1="42.76" y1="339.10" x2="44.66" y2="339.10" stroke="#000" stroke-width="0.6" />
<line x1="42.76" y1="330.78" x2="44.66" y2="330.78" stroke="#000" stroke-width="0.6" />
<line x1="42.76" y1="326.62" x2="44.66" y2="326.62" stroke="#000" stroke-width="0.6" />
<line x1="42.76" y1="322.46" x2="44.66" y2="322.46" stroke="#000" stroke-width="0.6" />
<line x1="42.76" y1="314.14" x2="44.66" y2="314.14" stroke="#000" stroke-width="0.6" />
<line x1="42.76" y1="309.98" x2="44.66" y2="309.98" stroke="#000" stroke-width="0.6" />
<line x1="42.76" y1="305.82" x2="44.66" y2="305.82" stroke="#000" stroke-width="0.6" />
<line x1="42.76" y1="297.50" x2="44.66" y2="297.50" stroke="#000" stroke-width="0.6" />
<line x1="42.76" y1="293.34" x2="44.66" y2="293.34" stroke="#000" stroke-width="0.6" />
<line x1="42.76" y1="289.18" x2="44.66" y2="289.18" stroke="#000" stroke-width="0.6" />
<line x1="42.76" y1="280.86" x2="44.66" y2="280.86" stroke="#000" stroke-width="0.6" />
<line x1="42.76" y1="276.70" x2="44.66" y2="276.70" stroke="#000" stroke-width="0.6" />
<line x1="42.76" y1="272.54" x2="44.66" y2="272.54" stroke="#000" stroke-width="0.6" />
<line x1="42.76" y1="264.22" x2="44.66" y2="264.22" stroke="#000" stroke-width="0.6" />
<line x1="50.58" y1="374.00" x2="50.58" y2="375.90" stroke="#000" stroke-width="0.6" />
<line x1="56.50" y1="374.00" x2="56.50" y2="375.90" stroke="#000" stroke-width="0.6" />
<line x1="62.42" y1="374.00" x2="62.42" y2="375.90" stroke="#000" stroke-width="0.6" />
<line x1="74.26" y1="374.00" x2="74.26" y2="375.90" stroke="#000" stroke-width="0.6" />
<line x1="80.18" y1="374.00" x2="80.18" y2="375.90" stroke="#000" stroke-width="0.6" />
<line x1="86.10" y1="374.00" x2="86.10" y2="375.90" stroke="#000" stroke-width="0.6" />
<line x1="97.94" y1="374.00" x2="97.94" y2="375.90" stroke="#000" stroke-width="0.6" />
<line x1="103.86" y1="374.00" x2="103.86" y2="375.90" stroke="#000" stroke-width="0.6" />
<line x1="109.78" y1="374.00" x2="109.78" y2="375.90" stroke="#000" stroke-width="0.6" />
<line x1="121.62" y1="374.00" x2="121.62" y2="375.90" stroke="#000" stroke-width="0.6" />
<line x1="127.54" y1="374.00" x2="127.54" y2="375.90" stroke="#000" stroke-width="0.6" />
<line x1="133.46" y1="374.00" x2="133.46" y2="375.90" stroke="#000" stroke-width="0.6" />
<line x1="145.30" y1="374.00" x2="145.30" y2="375.90" stroke="#000" stroke-width="0.6" />
<line x1="151.22" y1="374.00" x2="151.22" y2="375.90" stroke="#000" stroke-width="0.6" />
<line x1="157.14" y1="374.00" x2="157.14" y2="375.90" stroke="#000" stroke-width="0.6" />
<line x1="168.98" y1="374.00" x2="168.98" y2="375.90" stroke="#000" stroke-width="0.6" />
<line x1="174.90" y1="374.00" x2="174.90" y2="375.90" stroke="#000" stroke-width="0.6" />
<line x1="180.82" y1="374.00" x2="180.82" y2="375.90" stroke="#000" stroke-width="0.6" />
<line x1="192.66" y1="374.00" x2="192.66" y2="375.90" stroke="#000" stroke-width="0.6" />
<line x1="198.58" y1="374.00" x2="198.58" y2="375.90" stroke="#000" stroke-width="0.6" />
<line x1="204.50" y1="374.00" x2="204.50" y2="375.90" stroke="#000" stroke-width="0.6" />
<line x1="41.46" y1="368.22" x2="44.66" y2="368.22" stroke="#000" stroke-width="0.8" />
<text x="39.66" y="370.32" font-size="5.9" text-anchor="end" fill="#222" stroke="#222" stroke-width="0.047" >−12</text>
<line x1="41.46" y1="351.58" x2="44.66" y2="351.58" stroke="#000" stroke-width="0.8" />
<text x="39.66" y="353.68" font-size="5.9" text-anchor="end" fill="#222" stroke="#222" stroke-width="0.047" >−8</text>
<line x1="41.46" y1="334.94" x2="44.66" y2="334.94" stroke="#000" stroke-width="0.8" />
<text x="39.66" y="337.04" font-size="5.9" text-anchor="end" fill="#222" stroke="#222" stroke-width="0.047" >−4</text>
<line x1="41.46" y1="318.30" x2="44.66" y2="318.30" stroke="#000" stroke-width="0.8" />
<text x="39.66" y="320.40" font-size="5.9" text-anchor="end" fill="#222" stroke="#222" stroke-width="0.047" >0</text>
<line x1="41.46" y1="301.66" x2="44.66" y2="301.66" stroke="#000" stroke-width="0.8" />
<text x="39.66" y="303.76" font-size="5.9" text-anchor="end" fill="#222" stroke="#222" stroke-width="0.047" >4</text>
<line x1="41.46" y1="285.02" x2="44.66" y2="285.02" stroke="#000" stroke-width="0.8" />
<text x="39.66" y="287.12" font-size="5.9" text-anchor="end" fill="#222" stroke="#222" stroke-width="0.047" >8</text>
<line x1="41.46" y1="268.38" x2="44.66" y2="268.38" stroke="#000" stroke-width="0.8" />
<text x="39.66" y="270.48" font-size="5.9" text-anchor="end" fill="#222" stroke="#222" stroke-width="0.047" >12</text>
<line x1="44.66" y1="374.00" x2="44.66" y2="377.40" stroke="#000" stroke-width="0.8" />
<text x="43.76" y="384.20" font-size="5.9" text-anchor="middle" fill="#222" stroke="#222" stroke-width="0.047" >−12</text>
<line x1="68.34" y1="374.00" x2="68.34" y2="377.40" stroke="#000" stroke-width="0.8" />
<text x="67.44" y="384.20" font-size="5.9" text-anchor="middle" fill="#222" stroke="#222" stroke-width="0.047" >−8</text>
<line x1="92.02" y1="374.00" x2="92.02" y2="377.40" stroke="#000" stroke-width="0.8" />
<text x="91.12" y="384.20" font-size="5.9" text-anchor="middle" fill="#222" stroke="#222" stroke-width="0.047" >−4</text>
<line x1="115.70" y1="374.00" x2="115.70" y2="377.40" stroke="#000" stroke-width="0.8" />
<text x="115.70" y="384.20" font-size="5.9" text-anchor="middle" fill="#222" stroke="#222" stroke-width="0.047" >0</text>
<line x1="139.38" y1="374.00" x2="139.38" y2="377.40" stroke="#000" stroke-width="0.8" />
<text x="139.38" y="384.20" font-size="5.9" text-anchor="middle" fill="#222" stroke="#222" stroke-width="0.047" >4</text>
<line x1="163.06" y1="374.00" x2="163.06" y2="377.40" stroke="#000" stroke-width="0.8" />
<text x="163.06" y="384.20" font-size="5.9" text-anchor="middle" fill="#222" stroke="#222" stroke-width="0.047" >8</text>
<line x1="186.74" y1="374.00" x2="186.74" y2="377.40" stroke="#000" stroke-width="0.8" />
<text x="186.74" y="384.20" font-size="5.9" text-anchor="middle" fill="#222" stroke="#222" stroke-width="0.047" >12</text>
<line x1="210.42" y1="374.00" x2="210.42" y2="377.40" stroke="#000" stroke-width="0.8" />
<text x="210.42" y="384.20" font-size="5.9" text-anchor="middle" fill="#222" stroke="#222" stroke-width="0.047" >16</text>
<text x="129.00" y="393.10" font-size="5.9" text-anchor="middle" fill="#222" stroke="#222" stroke-width="0.047" >HAP1 replicate 2</text>
<text x="129.00" y="400.60" font-size="5.9" text-anchor="middle" fill="#222" stroke="#222" stroke-width="0.047" >Log<tspan font-size="3.4" dy="1.3">2</tspan><tspan dy="-1.3"> (adjusted RPM fold change)</tspan></text>
<text transform="translate(15.0,319.5) rotate(-90)" font-size="5.9" text-anchor="middle" fill="#222" stroke="#222" stroke-width="0.05">HAP1 replicate 1</text>
<text transform="translate(22.5,319.5) rotate(-90)" font-size="5.9" text-anchor="middle" fill="#222" stroke="#222" stroke-width="0.05">Log<tspan font-size="3.4" dy="1.3">2</tspan><tspan dy="-1.3"> (adjusted RPM fold change)</tspan></text>
</g>
<g id="panel-e">
<text x="253.00" y="256.60" font-size="10.5" text-anchor="start" fill="#000" stroke="#000" stroke-width="0.084" font-weight="bold">e</text>
<text x="377.30" y="256.20" font-size="6.0" text-anchor="middle" fill="#333" stroke="#333" stroke-width="0.048" >K-562: enriched sgRNAs after KPT-9274 treatment</text>
<line x1="364.30" y1="262.50" x2="364.30" y2="374.00" stroke="#333" stroke-width="0.6" stroke-dasharray="1.2,1.2"/>
<line x1="292.42" y1="318.30" x2="461.94" y2="318.30" stroke="#333" stroke-width="0.6" stroke-dasharray="1.2,1.2"/>
<polygon points="309.0,361.4 312.6,351.0 320.2,339.7 331.2,330.0 344.6,324.0 365.8,322.5 365.8,345.9 361.5,355.8 351.7,364.2 332.1,368.4 312.4,367.5" fill="#1d7f96" stroke="#1d7f96" stroke-width="0.8" stroke-linejoin="round"/>
<path d="M334.3,295.4h1.3M320.8,337.6h1.3M355.3,320.9h1.3M309.4,366.7h1.3M360.6,359.9h1.3M313.4,347.8h1.3M308.7,358.4h1.3M318.9,338.7h1.3M353.7,362.5h1.3M333.9,324.3h1.3M331.4,327.5h1.3M307.9,349.9h1.3M318.0,367.9h1.3M353.2,315.6h1.3M314.0,368.3h1.3M336.2,326.8h1.3M355.8,362.7h1.3M354.3,322.8h1.3M352.7,322.9h1.3M311.3,331.5h1.3M354.1,361.9h1.3M310.2,335.8h1.3M341.0,366.4h1.3M309.3,339.3h1.3M357.6,315.2h1.3M362.0,358.7h1.3M345.6,366.7h1.3M361.2,355.0h1.3M363.1,356.7h1.3M362.9,358.2h1.3M315.3,342.7h1.3M356.3,368.3h1.3M320.0,329.3h1.3M354.0,369.0h1.3M362.6,365.2h1.3M328.1,324.8h1.3M353.8,365.9h1.3M362.8,365.0h1.3M350.4,366.8h1.3M323.0,369.2h1.3M354.9,363.9h1.3M338.7,367.7h1.3M315.8,343.0h1.3M349.5,320.6h1.3M328.3,327.6h1.3M332.3,319.2h1.3M362.0,314.6h1.3M363.0,352.7h1.3M334.2,327.4h1.3M358.0,359.7h1.3M349.8,369.8h1.3M318.1,292.7h1.3M355.2,367.3h1.3M362.3,320.4h1.3M335.6,368.0h1.3M359.5,362.8h1.3M316.1,333.4h1.3M355.5,363.7h1.3M334.3,325.3h1.3M341.1,311.1h1.3M351.5,365.1h1.3M318.6,332.7h1.3M320.8,334.6h1.3M361.6,360.7h1.3M359.2,357.6h1.3M345.0,318.2h1.3M357.7,359.0h1.3M323.1,330.1h1.3M353.8,367.8h1.3M322.7,336.3h1.3M309.1,318.2h1.3M348.9,367.7h1.3M362.4,363.1h1.3M310.1,367.3h1.3M362.6,361.3h1.3M360.4,361.2h1.3M358.7,360.0h1.3M349.0,321.4h1.3M313.5,297.6h1.3M311.4,351.9h1.3M363.0,358.8h1.3M354.7,369.2h1.3M339.9,325.5h1.3M335.5,368.4h1.3M350.9,365.4h1.3M314.5,336.3h1.3M329.2,316.3h1.3M340.3,322.3h1.3M353.2,313.3h1.3M347.0,304.9h1.3M363.6,352.7h1.3M342.1,316.1h1.3M356.8,366.9h1.3M339.1,325.6h1.3M352.6,366.3h1.3M362.9,354.4h1.3M361.9,358.9h1.3M326.0,334.0h1.3M357.2,322.4h1.3M362.3,359.2h1.3M322.6,331.8h1.3M364.0,312.7h1.3M312.2,349.0h1.3M357.7,360.8h1.3M350.2,367.1h1.3M347.5,365.7h1.3M363.9,352.0h1.3M331.2,328.2h1.3M312.8,315.6h1.3M355.2,363.7h1.3M328.4,369.0h1.3M329.0,330.5h1.3M344.1,367.1h1.3M329.4,320.9h1.3M347.9,320.2h1.3M310.0,325.7h1.3M317.0,336.0h1.3M335.3,323.6h1.3M361.1,360.7h1.3M353.5,366.4h1.3M349.8,322.0h1.3M308.2,339.5h1.3M354.4,365.8h1.3M310.7,354.3h1.3M314.2,327.9h1.3M311.7,350.2h1.3M327.4,329.9h1.3M360.5,361.7h1.3M356.8,364.3h1.3M310.5,351.0h1.3M317.3,313.1h1.3M359.5,368.0h1.3M354.3,322.3h1.3M358.3,358.8h1.3M337.1,311.5h1.3M308.5,336.8h1.3M362.0,357.4h1.3M306.3,358.0h1.3M361.7,369.9h1.3M321.6,323.1h1.3M362.2,322.6h1.3M324.5,333.0h1.3M349.9,364.7h1.3M331.7,328.5h1.3M339.3,320.4h1.3M342.4,321.8h1.3M330.8,308.3h1.3M363.0,359.8h1.3M343.7,320.9h1.3M359.7,362.7h1.3M346.6,366.6h1.3M353.7,365.3h1.3M363.5,360.7h1.3M315.8,338.9h1.3M322.9,333.0h1.3M324.1,332.2h1.3M325.1,334.5h1.3M312.9,338.6h1.3M309.8,346.9h1.3M328.3,369.0h1.3M335.2,327.8h1.3M364.0,352.4h1.3M356.2,362.7h1.3M357.0,361.4h1.3M358.4,367.8h1.3M353.5,365.5h1.3M348.1,320.7h1.3M356.8,362.2h1.3M362.2,353.8h1.3M354.1,368.4h1.3M340.7,366.6h1.3M351.8,368.9h1.3M314.2,368.9h1.3M345.7,367.3h1.3M363.7,354.0h1.3M351.2,366.1h1.3M349.7,314.8h1.3M355.2,363.5h1.3M344.8,369.3h1.3M345.8,322.7h1.3M341.2,325.0h1.3M360.9,358.1h1.3M316.0,335.4h1.3M352.3,321.4h1.3M360.2,367.6h1.3M359.4,360.7h1.3M317.6,334.0h1.3M345.6,370.0h1.3M311.6,351.0h1.3M363.0,351.0h1.3M329.6,321.9h1.3M319.4,338.1h1.3M356.0,317.1h1.3M358.8,359.2h1.3M307.1,356.2h1.3M359.6,322.2h1.3M357.7,321.9h1.3M350.7,365.7h1.3M357.3,369.0h1.3M332.6,328.6h1.3M343.2,307.1h1.3M350.8,368.0h1.3M359.6,368.4h1.3M316.1,342.1h1.3M336.2,322.0h1.3M341.5,313.6h1.3M332.5,322.5h1.3M358.8,359.1h1.3M332.2,326.6h1.3M327.4,295.1h1.3M351.1,369.3h1.3M327.3,327.7h1.3M363.2,355.7h1.3M327.3,332.7h1.3M318.8,320.8h1.3M319.1,369.3h1.3M336.5,370.1h1.3M350.7,295.6h1.3M358.8,321.3h1.3M355.9,365.5h1.3M355.4,315.2h1.3M362.9,365.6h1.3M350.5,323.1h1.3M336.1,314.6h1.3M305.1,349.3h1.3M360.8,356.8h1.3M310.6,311.1h1.3M348.6,323.2h1.3M360.9,359.8h1.3M348.4,366.2h1.3M355.3,316.9h1.3M351.4,365.2h1.3M354.3,321.5h1.3M353.5,366.7h1.3M363.8,357.2h1.3M356.2,369.0h1.3M331.9,293.7h1.3M322.0,330.8h1.3M360.4,318.3h1.3M346.0,365.5h1.3M358.2,359.4h1.3M356.8,363.0h1.3M344.5,368.9h1.3M324.1,324.8h1.3M359.1,361.6h1.3M338.6,322.7h1.3M360.6,357.9h1.3M309.8,338.7h1.3M316.0,331.7h1.3M350.6,367.0h1.3M321.2,333.9h1.3M350.1,294.1h1.3M335.3,323.7h1.3M316.4,330.1h1.3M359.6,319.9h1.3M364.0,321.9h1.3M348.0,365.1h1.3M318.5,310.5h1.3M314.5,334.6h1.3M333.2,313.6h1.3M349.9,369.8h1.3M356.2,361.2h1.3M350.8,365.1h1.3M347.7,369.3h1.3M347.5,300.4h1.3M362.1,317.7h1.3M351.5,367.4h1.3M332.4,311.0h1.3M307.1,355.7h1.3M363.3,369.8h1.3M340.4,367.5h1.3M329.9,310.8h1.3M360.1,322.7h1.3M347.5,319.6h1.3M361.9,354.9h1.3M351.3,315.9h1.3M359.6,368.3h1.3M349.7,369.0h1.3M315.4,327.4h1.3M363.5,350.7h1.3M309.4,353.7h1.3M360.6,360.5h1.3M355.3,364.5h1.3M361.5,355.4h1.3M309.9,298.8h1.3M342.1,367.6h1.3M345.3,289.0h1.3M305.1,349.3h1.3M358.8,363.2h1.3M359.9,321.0h1.3M342.1,366.8h1.3M344.2,366.1h1.3M325.4,333.3h1.3M312.7,341.3h1.3M351.3,369.5h1.3M313.0,334.0h1.3M332.1,328.3h1.3M363.4,352.7h1.3M332.2,326.8h1.3M351.6,366.5h1.3M363.6,350.3h1.3M313.1,347.4h1.3M358.6,361.0h1.3M307.2,351.9h1.3M328.9,297.1h1.3M363.0,355.4h1.3M358.8,363.6h1.3M363.9,353.7h1.3M334.8,367.7h1.3M312.2,342.4h1.3M348.8,367.4h1.3M320.2,326.1h1.3M359.8,358.3h1.3M335.0,327.8h1.3M323.6,368.9h1.3M353.8,365.6h1.3M311.0,352.2h1.3M309.9,356.8h1.3M362.6,354.3h1.3M352.2,363.8h1.3M333.6,325.6h1.3M312.9,333.9h1.3M359.7,358.4h1.3M338.5,368.2h1.3M351.6,311.5h1.3M359.5,369.2h1.3M364.0,353.4h1.3M354.3,364.0h1.3M311.0,338.5h1.3M303.9,361.5h1.3M306.7,363.1h1.3M320.8,338.3h1.3M312.4,321.6h1.3M340.9,311.1h1.3M355.8,370.7h1.3M357.1,363.6h1.3M341.9,323.1h1.3M357.9,365.5h1.3M355.7,367.8h1.3M359.2,318.7h1.3M347.5,323.7h1.3M361.6,364.6h1.3M353.9,321.9h1.3M310.0,346.9h1.3M310.2,340.1h1.3M336.1,323.0h1.3M360.9,320.6h1.3M357.5,322.5h1.3M355.1,321.2h1.3M354.6,367.9h1.3M352.2,363.4h1.3M346.2,365.9h1.3M326.7,326.4h1.3M331.5,309.5h1.3M354.8,362.2h1.3M315.0,346.3h1.3M327.5,326.2h1.3M339.8,301.8h1.3M317.3,321.4h1.3M338.0,324.6h1.3M341.1,321.9h1.3M358.9,319.6h1.3M348.2,321.7h1.3M349.0,364.7h1.3M321.8,297.8h1.3M333.2,319.7h1.3M356.6,367.4h1.3M322.0,368.7h1.3M335.6,325.3h1.3M335.7,318.0h1.3M323.4,321.9h1.3M352.0,363.6h1.3M319.5,324.7h1.3M308.5,358.2h1.3M357.3,363.3h1.3M324.8,334.1h1.3M339.2,307.8h1.3M310.2,298.7h1.3M351.3,369.8h1.3M362.4,313.7h1.3M359.9,362.2h1.3M349.7,366.1h1.3M339.6,325.8h1.3M332.6,369.3h1.3M359.8,358.7h1.3M307.2,365.5h1.3M310.4,354.9h1.3M342.9,304.5h1.3M319.9,335.9h1.3M349.9,305.7h1.3M352.9,365.2h1.3M307.4,345.4h1.3M357.6,361.3h1.3M351.9,368.1h1.3M347.6,365.2h1.3M335.3,323.1h1.3M328.2,323.1h1.3M358.6,312.9h1.3M334.9,313.2h1.3M359.6,365.2h1.3M364.0,321.6h1.3M354.8,361.0h1.3M364.0,360.5h1.3M331.7,370.4h1.3M362.1,368.4h1.3M319.2,306.8h1.3M359.8,360.3h1.3M358.9,358.3h1.3M363.9,353.4h1.3M348.5,322.6h1.3M339.5,321.7h1.3M360.3,359.6h1.3M309.0,371.2h1.3M360.9,363.5h1.3M356.4,322.2h1.3M350.0,366.6h1.3M308.6,344.3h1.3M336.0,320.9h1.3M342.2,310.8h1.3M315.2,335.1h1.3M344.2,315.2h1.3M350.9,365.4h1.3M343.6,309.8h1.3M345.3,366.8h1.3M320.0,334.5h1.3M334.5,314.2h1.3M356.7,314.9h1.3M307.5,366.8h1.3M356.1,360.0h1.3M345.9,303.7h1.3M326.6,292.1h1.3M356.3,363.6h1.3M358.3,321.3h1.3M320.8,369.6h1.3M350.2,365.8h1.3M308.1,352.3h1.3M312.3,344.7h1.3M350.4,369.3h1.3M334.7,326.4h1.3M348.4,366.1h1.3M355.7,361.3h1.3M357.6,362.9h1.3M346.1,367.8h1.3M326.7,331.0h1.3M339.0,318.5h1.3M354.5,363.0h1.3M320.8,332.9h1.3M308.4,350.6h1.3M335.8,367.7h1.3M359.8,321.4h1.3M351.2,364.5h1.3M348.4,369.9h1.3M359.8,362.6h1.3M346.5,366.0h1.3M363.9,368.1h1.3M349.2,365.6h1.3M326.5,330.4h1.3M362.9,369.1h1.3M340.5,300.4h1.3M331.1,327.5h1.3M360.5,364.0h1.3M362.4,356.5h1.3M362.1,360.0h1.3M344.3,323.9h1.3M309.6,366.7h1.3M333.6,368.6h1.3M317.6,321.5h1.3M321.9,333.5h1.3M359.6,312.8h1.3M336.0,314.0h1.3M354.9,323.0h1.3M335.1,368.3h1.3M364.6,361.2h1.3M366.4,350.3h1.3M375.9,349.3h1.3M365.7,347.0h1.3M367.8,351.5h1.3M371.9,355.7h1.3M367.4,341.7h1.3M380.2,342.8h1.3M369.6,361.8h1.3M365.5,361.5h1.3M366.7,363.8h1.3M373.8,347.5h1.3M387.5,355.6h1.3M367.0,356.1h1.3M364.8,352.6h1.3M378.2,363.6h1.3M369.2,365.5h1.3M365.5,364.0h1.3M369.4,366.7h1.3M385.7,354.1h1.3M364.2,337.9h1.3M370.6,363.0h1.3M377.7,336.3h1.3M364.1,350.6h1.3M400.2,345.1h1.3M391.3,358.9h1.3M377.3,336.1h1.3M368.9,367.2h1.3M369.9,350.0h1.3M370.1,362.6h1.3M375.2,363.9h1.3M381.9,351.0h1.3M364.6,363.5h1.3M371.6,351.1h1.3M371.6,331.9h1.3M370.3,360.8h1.3M377.8,332.2h1.3M364.7,354.7h1.3M371.0,352.3h1.3M375.3,357.3h1.3M372.0,350.8h1.3M375.7,350.9h1.3M367.9,353.4h1.3M381.4,363.1h1.3M368.1,343.4h1.3M369.1,328.9h1.3M389.8,345.2h1.3M385.9,360.5h1.3M363.7,351.5h1.3M368.0,331.7h1.3M363.7,368.0h1.3M364.6,357.4h1.3M371.9,337.5h1.3M379.8,353.3h1.3M375.6,356.2h1.3M383.1,341.4h1.3M370.8,344.5h1.3M368.3,366.9h1.3M364.3,333.2h1.3M369.9,334.8h1.3M366.0,352.9h1.3M363.7,333.0h1.3M367.4,337.4h1.3M365.0,339.7h1.3M377.7,357.7h1.3M391.7,360.3h1.3M380.9,338.2h1.3M375.9,350.4h1.3M381.9,356.3h1.3M365.6,340.2h1.3M370.7,334.4h1.3M370.6,354.8h1.3M371.2,345.3h1.3M386.0,334.0h1.3M380.2,362.7h1.3M373.2,330.0h1.3M364.1,358.8h1.3M375.4,362.0h1.3M373.4,349.6h1.3M383.8,333.8h1.3M367.3,360.6h1.3M367.4,366.2h1.3M366.5,352.1h1.3M366.8,367.3h1.3M381.7,353.7h1.3M366.3,341.5h1.3M371.7,366.8h1.3M371.9,365.8h1.3M367.9,353.4h1.3M371.8,336.4h1.3M369.2,365.6h1.3M364.8,329.3h1.3M367.3,359.1h1.3M364.1,361.5h1.3M383.5,347.8h1.3M366.2,343.5h1.3M364.8,335.8h1.3M385.7,345.8h1.3M380.2,346.5h1.3M364.7,362.4h1.3M367.8,331.7h1.3M364.0,369.2h1.3M380.1,359.7h1.3M365.9,355.0h1.3M370.2,355.0h1.3M377.7,368.3h1.3M387.9,349.8h1.3M367.5,351.2h1.3M373.8,349.7h1.3M376.2,355.1h1.3M403.0,366.9h1.3M369.2,340.6h1.3M364.9,349.5h1.3M368.1,342.2h1.3M365.1,365.1h1.3M363.7,358.4h1.3M408.9,367.5h1.3M381.1,356.1h1.3M398.7,353.8h1.3M368.2,362.0h1.3M371.1,356.2h1.3M406.7,358.4h1.3M364.7,335.6h1.3M379.1,332.6h1.3M409.6,356.7h1.3M367.6,351.3h1.3M364.1,360.8h1.3M403.2,329.5h1.3M391.1,340.9h1.3M366.7,349.4h1.3M377.8,364.3h1.3M374.7,336.6h1.3M370.7,362.7h1.3M370.5,356.9h1.3M364.7,350.0h1.3M374.4,338.9h1.3M387.6,354.9h1.3M365.5,354.3h1.3M370.9,351.8h1.3M373.1,364.7h1.3M375.7,339.0h1.3M366.1,344.9h1.3M374.7,352.0h1.3M389.1,338.4h1.3M388.1,348.5h1.3M365.5,368.6h1.3M369.8,353.9h1.3M378.7,361.1h1.3M382.8,339.2h1.3M363.8,342.7h1.3M384.5,364.1h1.3M385.1,341.8h1.3M371.4,359.2h1.3M364.8,368.2h1.3M368.2,363.6h1.3M373.0,346.9h1.3M364.0,340.2h1.3M412.7,369.4h1.3M372.0,346.3h1.3M374.7,355.1h1.3M365.0,338.7h1.3M369.6,343.4h1.3M382.2,349.0h1.3M374.4,367.1h1.3M368.7,348.0h1.3M376.9,360.3h1.3M365.7,353.5h1.3M363.9,351.0h1.3M365.5,336.8h1.3M380.8,367.5h1.3M367.8,342.1h1.3M371.7,365.6h1.3M364.9,368.9h1.3M389.3,352.4h1.3M371.2,346.0h1.3M395.6,362.1h1.3M365.5,337.6h1.3M370.4,356.2h1.3M365.5,369.2h1.3M375.8,344.2h1.3M372.7,329.7h1.3M378.4,349.4h1.3M365.4,347.8h1.3M367.4,368.4h1.3M365.9,362.2h1.3M368.9,353.7h1.3M383.4,361.6h1.3M374.5,347.8h1.3M366.1,350.9h1.3M366.6,332.4h1.3M366.8,366.4h1.3M364.3,365.8h1.3M381.3,328.7h1.3M366.7,331.5h1.3M375.4,339.4h1.3M372.7,358.4h1.3M382.8,353.2h1.3M368.9,361.9h1.3M366.6,348.7h1.3M373.1,360.4h1.3M372.8,345.9h1.3M386.3,359.6h1.3M374.4,367.9h1.3M374.4,352.6h1.3M399.1,360.9h1.3M369.1,351.3h1.3M371.7,368.4h1.3M394.1,345.5h1.3M386.4,362.0h1.3M373.2,348.1h1.3M366.3,348.6h1.3M376.4,341.9h1.3M364.6,329.3h1.3M366.9,333.9h1.3M391.8,346.9h1.3M372.3,351.6h1.3M365.6,345.7h1.3M377.6,352.1h1.3M364.1,365.7h1.3M371.0,342.7h1.3M366.0,343.9h1.3M366.6,360.2h1.3M371.4,350.5h1.3M370.9,367.6h1.3M363.7,361.4h1.3M364.5,353.9h1.3M378.2,353.4h1.3M387.5,365.1h1.3M364.2,353.7h1.3M371.9,366.4h1.3M368.5,365.1h1.3M364.4,333.5h1.3M365.6,360.2h1.3M384.0,354.9h1.3M377.6,362.3h1.3M364.1,344.6h1.3M365.0,349.9h1.3M364.6,342.2h1.3M366.0,360.7h1.3M365.2,363.2h1.3M377.2,336.3h1.3M379.6,358.9h1.3M371.9,366.0h1.3M402.9,349.6h1.3M367.3,353.9h1.3M367.8,365.3h1.3M367.7,359.1h1.3M375.6,349.4h1.3M392.7,358.5h1.3M388.0,330.6h1.3M373.7,365.0h1.3M366.9,358.1h1.3M375.6,333.7h1.3M370.7,362.4h1.3M372.0,360.5h1.3M384.8,340.1h1.3M371.0,331.7h1.3M371.8,362.0h1.3M364.9,355.8h1.3M364.2,364.9h1.3M385.1,341.3h1.3M367.8,364.0h1.3M363.9,360.5h1.3M366.9,355.9h1.3M364.4,363.7h1.3M372.2,359.2h1.3M370.2,365.8h1.3M367.8,338.5h1.3M370.8,341.0h1.3M365.9,329.1h1.3M364.0,368.6h1.3M365.1,330.6h1.3M375.4,366.3h1.3M366.5,361.9h1.3M369.3,365.7h1.3M388.7,365.5h1.3M375.9,366.0h1.3M366.0,335.8h1.3M366.9,334.9h1.3M365.2,341.7h1.3M366.1,343.2h1.3M371.8,345.7h1.3M389.1,365.3h1.3M366.5,361.9h1.3M366.0,366.2h1.3M432.2,340.1h1.3M426.3,361.0h1.3M409.9,350.6h1.3M432.7,335.1h1.3M418.2,337.9h1.3M415.2,358.1h1.3M412.4,357.8h1.3M436.0,345.4h1.3M407.0,350.3h1.3M414.5,347.9h1.3M414.7,343.2h1.3M437.9,346.1h1.3M421.0,344.9h1.3M429.1,352.7h1.3M428.1,338.1h1.3M430.5,351.1h1.3M412.1,341.0h1.3M428.8,348.6h1.3M419.6,334.3h1.3M414.7,357.9h1.3M407.0,357.6h1.3M415.6,346.0h1.3M431.1,333.5h1.3M429.8,336.6h1.3M423.8,343.7h1.3M418.8,362.4h1.3M437.8,345.1h1.3M436.6,352.4h1.3M380.3,316.7h1.3M366.7,320.8h1.3M373.6,314.5h1.3M365.5,322.1h1.3M367.1,321.9h1.3M369.6,319.9h1.3M365.5,320.2h1.3M370.3,314.3h1.3M369.0,312.3h1.3M369.5,314.4h1.3M365.1,324.6h1.3M365.0,326.1h1.3M367.0,322.8h1.3M375.4,318.0h1.3M372.3,314.8h1.3M372.9,324.1h1.3M371.6,326.6h1.3M372.3,320.0h1.3M373.9,313.9h1.3M373.8,322.8h1.3M348.1,275.5h1.3M350.5,283.4h1.3M356.5,284.2h1.3M366.6,306.2h1.3M372.6,307.5h1.3M391.2,314.1h1.3M423.6,318.3h1.3M393.6,317.9h1.3M431.9,347.0h1.3M433.1,348.3h1.3M432.5,345.3h1.3" stroke="#1d7f96" stroke-width="1.3" fill="none"/>
<line x1="337.50" y1="318.50" x2="366.20" y2="318.50" stroke="#1d7f96" stroke-width="1.1" />
<line x1="342.23" y1="319.90" x2="366.20" y2="319.90" stroke="#1d7f96" stroke-width="0.55" />
<line x1="341.84" y1="321.00" x2="366.20" y2="321.00" stroke="#1d7f96" stroke-width="0.55" />
<line x1="342.50" y1="322.10" x2="366.20" y2="322.10" stroke="#1d7f96" stroke-width="0.55" />
<circle cx="411.50" cy="278.40" r="0.6" fill="#3b5f63"/>
<text x="409.10" y="283.00" font-size="3.4" text-anchor="middle" fill="#b4babc" stroke="#b4babc" stroke-width="0.027" >NAMPT_71</text>
<circle cx="429.70" cy="280.00" r="0.6" fill="#3b5f63"/>
<text x="429.10" y="278.00" font-size="3.4" text-anchor="middle" fill="#b4babc" stroke="#b4babc" stroke-width="0.027" >NAMPT_70</text>
<circle cx="458.80" cy="279.00" r="0.6" fill="#3b5f63"/>
<text x="460.20" y="277.00" font-size="3.4" text-anchor="middle" fill="#b4babc" stroke="#b4babc" stroke-width="0.027" >NAMPT_34</text>
<circle cx="437.10" cy="285.60" r="0.6" fill="#3b5f63"/>
<text x="433.90" y="290.00" font-size="3.4" text-anchor="middle" fill="#b4babc" stroke="#b4babc" stroke-width="0.027" >NAMPT_137</text>
<circle cx="447.50" cy="294.10" r="0.6" fill="#3b5f63"/>
<text x="447.70" y="299.70" font-size="3.4" text-anchor="middle" fill="#b4babc" stroke="#b4babc" stroke-width="0.027" >NAMPT_33</text>
<circle cx="392.40" cy="295.50" r="0.6" fill="#3b5f63"/>
<text x="391.00" y="299.70" font-size="3.4" text-anchor="middle" fill="#b4babc" stroke="#b4babc" stroke-width="0.027" >NAMPT_145</text>
<line x1="292.42" y1="261.60" x2="292.42" y2="374.40" stroke="#000" stroke-width="0.9" />
<line x1="292.02" y1="374.00" x2="460.54" y2="374.00" stroke="#000" stroke-width="0.9" />
<line x1="290.52" y1="372.38" x2="292.42" y2="372.38" stroke="#000" stroke-width="0.6" />
<line x1="290.52" y1="364.06" x2="292.42" y2="364.06" stroke="#000" stroke-width="0.6" />
<line x1="290.52" y1="359.90" x2="292.42" y2="359.90" stroke="#000" stroke-width="0.6" />
<line x1="290.52" y1="355.74" x2="292.42" y2="355.74" stroke="#000" stroke-width="0.6" />
<line x1="290.52" y1="347.42" x2="292.42" y2="347.42" stroke="#000" stroke-width="0.6" />
<line x1="290.52" y1="343.26" x2="292.42" y2="343.26" stroke="#000" stroke-width="0.6" />
<line x1="290.52" y1="339.10" x2="292.42" y2="339.10" stroke="#000" stroke-width="0.6" />
<line x1="290.52" y1="330.78" x2="292.42" y2="330.78" stroke="#000" stroke-width="0.6" />
<line x1="290.52" y1="326.62" x2="292.42" y2="326.62" stroke="#000" stroke-width="0.6" />
<line x1="290.52" y1="322.46" x2="292.42" y2="322.46" stroke="#000" stroke-width="0.6" />
<line x1="290.52" y1="314.14" x2="292.42" y2="314.14" stroke="#000" stroke-width="0.6" />
<line x1="290.52" y1="309.98" x2="292.42" y2="309.98" stroke="#000" stroke-width="0.6" />
<line x1="290.52" y1="305.82" x2="292.42" y2="305.82" stroke="#000" stroke-width="0.6" />
<line x1="290.52" y1="297.50" x2="292.42" y2="297.50" stroke="#000" stroke-width="0.6" />
<line x1="290.52" y1="293.34" x2="292.42" y2="293.34" stroke="#000" stroke-width="0.6" />
<line x1="290.52" y1="289.18" x2="292.42" y2="289.18" stroke="#000" stroke-width="0.6" />
<line x1="290.52" y1="280.86" x2="292.42" y2="280.86" stroke="#000" stroke-width="0.6" />
<line x1="290.52" y1="276.70" x2="292.42" y2="276.70" stroke="#000" stroke-width="0.6" />
<line x1="290.52" y1="272.54" x2="292.42" y2="272.54" stroke="#000" stroke-width="0.6" />
<line x1="290.52" y1="264.22" x2="292.42" y2="264.22" stroke="#000" stroke-width="0.6" />
<line x1="298.41" y1="374.00" x2="298.41" y2="375.90" stroke="#000" stroke-width="0.6" />
<line x1="304.40" y1="374.00" x2="304.40" y2="375.90" stroke="#000" stroke-width="0.6" />
<line x1="310.39" y1="374.00" x2="310.39" y2="375.90" stroke="#000" stroke-width="0.6" />
<line x1="322.37" y1="374.00" x2="322.37" y2="375.90" stroke="#000" stroke-width="0.6" />
<line x1="328.36" y1="374.00" x2="328.36" y2="375.90" stroke="#000" stroke-width="0.6" />
<line x1="334.35" y1="374.00" x2="334.35" y2="375.90" stroke="#000" stroke-width="0.6" />
<line x1="346.33" y1="374.00" x2="346.33" y2="375.90" stroke="#000" stroke-width="0.6" />
<line x1="352.32" y1="374.00" x2="352.32" y2="375.90" stroke="#000" stroke-width="0.6" />
<line x1="358.31" y1="374.00" x2="358.31" y2="375.90" stroke="#000" stroke-width="0.6" />
<line x1="370.29" y1="374.00" x2="370.29" y2="375.90" stroke="#000" stroke-width="0.6" />
<line x1="376.28" y1="374.00" x2="376.28" y2="375.90" stroke="#000" stroke-width="0.6" />
<line x1="382.27" y1="374.00" x2="382.27" y2="375.90" stroke="#000" stroke-width="0.6" />
<line x1="394.25" y1="374.00" x2="394.25" y2="375.90" stroke="#000" stroke-width="0.6" />
<line x1="400.24" y1="374.00" x2="400.24" y2="375.90" stroke="#000" stroke-width="0.6" />
<line x1="406.23" y1="374.00" x2="406.23" y2="375.90" stroke="#000" stroke-width="0.6" />
<line x1="418.21" y1="374.00" x2="418.21" y2="375.90" stroke="#000" stroke-width="0.6" />
<line x1="424.20" y1="374.00" x2="424.20" y2="375.90" stroke="#000" stroke-width="0.6" />
<line x1="430.19" y1="374.00" x2="430.19" y2="375.90" stroke="#000" stroke-width="0.6" />
<line x1="442.17" y1="374.00" x2="442.17" y2="375.90" stroke="#000" stroke-width="0.6" />
<line x1="448.16" y1="374.00" x2="448.16" y2="375.90" stroke="#000" stroke-width="0.6" />
<line x1="454.15" y1="374.00" x2="454.15" y2="375.90" stroke="#000" stroke-width="0.6" />
<line x1="289.22" y1="368.22" x2="292.42" y2="368.22" stroke="#000" stroke-width="0.8" />
<text x="287.42" y="370.32" font-size="5.9" text-anchor="end" fill="#222" stroke="#222" stroke-width="0.047" >−12</text>
<line x1="289.22" y1="351.58" x2="292.42" y2="351.58" stroke="#000" stroke-width="0.8" />
<text x="287.42" y="353.68" font-size="5.9" text-anchor="end" fill="#222" stroke="#222" stroke-width="0.047" >−8</text>
<line x1="289.22" y1="334.94" x2="292.42" y2="334.94" stroke="#000" stroke-width="0.8" />
<text x="287.42" y="337.04" font-size="5.9" text-anchor="end" fill="#222" stroke="#222" stroke-width="0.047" >−4</text>
<line x1="289.22" y1="318.30" x2="292.42" y2="318.30" stroke="#000" stroke-width="0.8" />
<text x="287.42" y="320.40" font-size="5.9" text-anchor="end" fill="#222" stroke="#222" stroke-width="0.047" >0</text>
<line x1="289.22" y1="301.66" x2="292.42" y2="301.66" stroke="#000" stroke-width="0.8" />
<text x="287.42" y="303.76" font-size="5.9" text-anchor="end" fill="#222" stroke="#222" stroke-width="0.047" >4</text>
<line x1="289.22" y1="285.02" x2="292.42" y2="285.02" stroke="#000" stroke-width="0.8" />
<text x="287.42" y="287.12" font-size="5.9" text-anchor="end" fill="#222" stroke="#222" stroke-width="0.047" >8</text>
<line x1="289.22" y1="268.38" x2="292.42" y2="268.38" stroke="#000" stroke-width="0.8" />
<text x="287.42" y="270.48" font-size="5.9" text-anchor="end" fill="#222" stroke="#222" stroke-width="0.047" >12</text>
<line x1="292.42" y1="374.00" x2="292.42" y2="377.40" stroke="#000" stroke-width="0.8" />
<text x="291.52" y="384.20" font-size="5.9" text-anchor="middle" fill="#222" stroke="#222" stroke-width="0.047" >−12</text>
<line x1="316.38" y1="374.00" x2="316.38" y2="377.40" stroke="#000" stroke-width="0.8" />
<text x="315.48" y="384.20" font-size="5.9" text-anchor="middle" fill="#222" stroke="#222" stroke-width="0.047" >−8</text>
<line x1="340.34" y1="374.00" x2="340.34" y2="377.40" stroke="#000" stroke-width="0.8" />
<text x="339.44" y="384.20" font-size="5.9" text-anchor="middle" fill="#222" stroke="#222" stroke-width="0.047" >−4</text>
<line x1="364.30" y1="374.00" x2="364.30" y2="377.40" stroke="#000" stroke-width="0.8" />
<text x="364.30" y="384.20" font-size="5.9" text-anchor="middle" fill="#222" stroke="#222" stroke-width="0.047" >0</text>
<line x1="388.26" y1="374.00" x2="388.26" y2="377.40" stroke="#000" stroke-width="0.8" />
<text x="388.26" y="384.20" font-size="5.9" text-anchor="middle" fill="#222" stroke="#222" stroke-width="0.047" >4</text>
<line x1="412.22" y1="374.00" x2="412.22" y2="377.40" stroke="#000" stroke-width="0.8" />
<text x="412.22" y="384.20" font-size="5.9" text-anchor="middle" fill="#222" stroke="#222" stroke-width="0.047" >8</text>
<line x1="436.18" y1="374.00" x2="436.18" y2="377.40" stroke="#000" stroke-width="0.8" />
<text x="436.18" y="384.20" font-size="5.9" text-anchor="middle" fill="#222" stroke="#222" stroke-width="0.047" >12</text>
<line x1="460.14" y1="374.00" x2="460.14" y2="377.40" stroke="#000" stroke-width="0.8" />
<text x="460.14" y="384.20" font-size="5.9" text-anchor="middle" fill="#222" stroke="#222" stroke-width="0.047" >16</text>
<text x="377.80" y="393.10" font-size="5.9" text-anchor="middle" fill="#222" stroke="#222" stroke-width="0.047" >K-562 replicate 2</text>
<text x="377.80" y="400.60" font-size="5.9" text-anchor="middle" fill="#222" stroke="#222" stroke-width="0.047" >Log<tspan font-size="3.4" dy="1.3">2</tspan><tspan dy="-1.3"> (adjusted RPM fold change)</tspan></text>
<text transform="translate(263.1,319.5) rotate(-90)" font-size="5.9" text-anchor="middle" fill="#222" stroke="#222" stroke-width="0.05">K-562 replicate 1</text>
<text transform="translate(270.6,319.5) rotate(-90)" font-size="5.9" text-anchor="middle" fill="#222" stroke="#222" stroke-width="0.05">Log<tspan font-size="3.4" dy="1.3">2</tspan><tspan dy="-1.3"> (adjusted RPM fold change)</tspan></text>
</g>
<g id="panel-f">
<text x="1.00" y="430.60" font-size="10.5" text-anchor="start" fill="#000" stroke="#000" stroke-width="0.084" font-weight="bold">f</text>
<text x="127.00" y="437.00" font-size="5.9" text-anchor="middle" fill="#222" stroke="#222" stroke-width="0.047" >HAP1 (averages)</text>
<text x="200.00" y="437.00" font-size="5.9" text-anchor="middle" fill="#222" stroke="#222" stroke-width="0.047" >K-562 (averages)</text>
<rect x="11.30" y="442.20" width="223.70" height="10.40" fill="#ececec" stroke="none" stroke-width="0.8" />
<rect x="11.30" y="463.03" width="223.70" height="10.43" fill="#efefef" stroke="none" stroke-width="0.8" />
<rect x="11.30" y="483.89" width="223.70" height="10.43" fill="#efefef" stroke="none" stroke-width="0.8" />
<rect x="11.30" y="504.75" width="223.70" height="10.43" fill="#efefef" stroke="none" stroke-width="0.8" />
<line x1="11.30" y1="442.20" x2="235.00" y2="442.20" stroke="#555" stroke-width="0.5" />
<line x1="11.30" y1="452.60" x2="235.00" y2="452.60" stroke="#222" stroke-width="0.9" />
<line x1="11.30" y1="525.61" x2="235.00" y2="525.61" stroke="#222" stroke-width="0.9" />
<line x1="91.70" y1="442.20" x2="91.70" y2="525.61" stroke="#222" stroke-width="1.1" />
<line x1="165.20" y1="442.20" x2="165.20" y2="525.61" stroke="#222" stroke-width="1.1" />
<text x="31.30" y="449.30" font-size="6.0" text-anchor="middle" fill="#222" stroke="#222" stroke-width="0.048" >sgRNA ID</text>
<text x="70.40" y="449.30" font-size="6.0" text-anchor="middle" fill="#222" stroke="#222" stroke-width="0.048" >Cut site</text>
<text x="108.20" y="449.30" font-size="6.0" text-anchor="middle" fill="#222" stroke="#222" stroke-width="0.048" >Log<tspan font-size="3.2" dy="1.2">2</tspan><tspan dy="-1.2">(FC)</tspan></text>
<text x="142.80" y="449.30" font-size="6.0" text-anchor="middle" fill="#222" stroke="#222" stroke-width="0.048" >Frequency</text>
<text x="184.20" y="449.30" font-size="6.0" text-anchor="middle" fill="#222" stroke="#222" stroke-width="0.048" >Log<tspan font-size="3.2" dy="1.2">2</tspan><tspan dy="-1.2">(FC)</tspan></text>
<text x="219.20" y="449.30" font-size="6.0" text-anchor="middle" fill="#222" stroke="#222" stroke-width="0.048" >Frequency</text>
<text x="31.30" y="460.20" font-size="6.0" text-anchor="middle" fill="#222" stroke="#222" stroke-width="0.048" >NAMPT_34</text>
<text x="68.20" y="460.20" font-size="6.0" text-anchor="middle" fill="#222" stroke="#222" stroke-width="0.048" ><tspan font-style="italic">NAMPT</tspan><tspan font-size="3.0" dy="-2.2" fill="#333" stroke="none">G383</tspan></text>
<text x="108.20" y="460.20" font-size="6.0" text-anchor="middle" fill="#222" stroke="#222" stroke-width="0.048" >11.66</text>
<text x="142.80" y="460.20" font-size="6.0" text-anchor="middle" fill="#222" stroke="#222" stroke-width="0.048" >35.65%</text>
<text x="184.20" y="459.60" font-size="6.0" text-anchor="middle" fill="#222" stroke="#222" stroke-width="0.048" >12.53</text>
<text x="219.20" y="460.20" font-size="6.0" text-anchor="middle" fill="#222" stroke="#222" stroke-width="0.048" >24.60%</text>
<text x="31.30" y="470.63" font-size="6.0" text-anchor="middle" fill="#222" stroke="#222" stroke-width="0.048" >NAMPT_71</text>
<text x="68.20" y="470.63" font-size="6.0" text-anchor="middle" fill="#222" stroke="#222" stroke-width="0.048" ><tspan font-style="italic">NAMPT</tspan><tspan font-size="3.0" dy="-2.2" fill="#333" stroke="none">Y238</tspan></text>
<text x="108.20" y="470.63" font-size="6.0" text-anchor="middle" fill="#222" stroke="#222" stroke-width="0.048" >11.75</text>
<text x="142.80" y="470.63" font-size="6.0" text-anchor="middle" fill="#222" stroke="#222" stroke-width="0.048" >2.86%</text>
<text x="184.20" y="470.03" font-size="6.0" text-anchor="middle" fill="#222" stroke="#222" stroke-width="0.048" >8.63</text>
<text x="219.20" y="470.63" font-size="6.0" text-anchor="middle" fill="#222" stroke="#222" stroke-width="0.048" >0.06%</text>
<text x="31.30" y="481.06" font-size="6.0" text-anchor="middle" fill="#222" stroke="#222" stroke-width="0.048" >NAMPT_70</text>
<text x="68.20" y="481.06" font-size="6.0" text-anchor="middle" fill="#222" stroke="#222" stroke-width="0.048" ><tspan font-style="italic">NAMPT</tspan><tspan font-size="3.0" dy="-2.2" fill="#333" stroke="none">Y240</tspan></text>
<text x="108.20" y="481.06" font-size="6.0" text-anchor="middle" fill="#222" stroke="#222" stroke-width="0.048" >6.81</text>
<text x="142.80" y="481.06" font-size="6.0" text-anchor="middle" fill="#222" stroke="#222" stroke-width="0.048" >0.48%</text>
<text x="184.20" y="480.46" font-size="6.0" text-anchor="middle" fill="#222" stroke="#222" stroke-width="0.048" >9.98</text>
<text x="219.20" y="481.06" font-size="6.0" text-anchor="middle" fill="#222" stroke="#222" stroke-width="0.048" >1.08%</text>
<text x="31.30" y="491.49" font-size="6.0" text-anchor="middle" fill="#222" stroke="#222" stroke-width="0.048" >NAMPT_33</text>
<text x="68.20" y="491.49" font-size="6.0" text-anchor="middle" fill="#222" stroke="#222" stroke-width="0.048" ><tspan font-style="italic">NAMPT</tspan><tspan font-size="3.0" dy="-2.2" fill="#333" stroke="none">S382</tspan></text>
<text x="108.20" y="491.49" font-size="6.0" text-anchor="middle" fill="#222" stroke="#222" stroke-width="0.048" >6.70</text>
<text x="142.80" y="491.49" font-size="6.0" text-anchor="middle" fill="#222" stroke="#222" stroke-width="0.048" >0.02%</text>
<text x="184.20" y="490.89" font-size="6.0" text-anchor="middle" fill="#222" stroke="#222" stroke-width="0.048" >9.71</text>
<text x="219.20" y="491.49" font-size="6.0" text-anchor="middle" fill="#222" stroke="#222" stroke-width="0.048" >0.70%</text>
<text x="31.30" y="501.92" font-size="6.0" text-anchor="middle" fill="#222" stroke="#222" stroke-width="0.048" >NAMPT_145</text>
<text x="68.20" y="501.92" font-size="6.0" text-anchor="middle" fill="#222" stroke="#222" stroke-width="0.048" ><tspan font-style="italic">NAMPT</tspan><tspan font-size="3.0" dy="-2.2" fill="#333" stroke="none">Y18</tspan></text>
<text x="108.20" y="501.92" font-size="6.0" text-anchor="middle" fill="#222" stroke="#222" stroke-width="0.048" >8.46</text>
<text x="142.80" y="501.92" font-size="6.0" text-anchor="middle" fill="#222" stroke="#222" stroke-width="0.048" >6.72%</text>
<text x="184.20" y="501.32" font-size="6.0" text-anchor="middle" fill="#222" stroke="#222" stroke-width="0.048" >5.06</text>
<text x="219.20" y="501.92" font-size="6.0" text-anchor="middle" fill="#222" stroke="#222" stroke-width="0.048" >1.18%</text>
<text x="31.30" y="512.35" font-size="6.0" text-anchor="middle" fill="#222" stroke="#222" stroke-width="0.048" >NAMPT_62</text>
<text x="68.20" y="512.35" font-size="6.0" text-anchor="middle" fill="#222" stroke="#222" stroke-width="0.048" ><tspan font-style="italic">NAMPT</tspan><tspan font-size="3.0" dy="-2.2" fill="#333" stroke="none">G216</tspan></text>
<text x="108.20" y="512.35" font-size="6.0" text-anchor="middle" fill="#222" stroke="#222" stroke-width="0.048" >10.29</text>
<text x="142.80" y="512.35" font-size="6.0" text-anchor="middle" fill="#222" stroke="#222" stroke-width="0.048" >1.20%</text>
<text x="184.20" y="511.75" font-size="6.0" text-anchor="middle" fill="#222" stroke="#222" stroke-width="0.048" >−2.36</text>
<text x="219.20" y="512.35" font-size="6.0" text-anchor="middle" fill="#222" stroke="#222" stroke-width="0.048" >0.00%</text>
<text x="31.30" y="522.78" font-size="6.0" text-anchor="middle" fill="#222" stroke="#222" stroke-width="0.048" >NAMPT_137</text>
<text x="68.20" y="522.78" font-size="6.0" text-anchor="middle" fill="#222" stroke="#222" stroke-width="0.048" ><tspan font-style="italic">NAMPT</tspan><tspan font-size="3.0" dy="-2.2" fill="#333" stroke="none">R14</tspan></text>
<text x="108.20" y="522.78" font-size="6.0" text-anchor="middle" fill="#222" stroke="#222" stroke-width="0.048" >−4.04</text>
<text x="142.80" y="522.78" font-size="6.0" text-anchor="middle" fill="#222" stroke="#222" stroke-width="0.048" >0.00%</text>
<text x="184.20" y="522.18" font-size="6.0" text-anchor="middle" fill="#222" stroke="#222" stroke-width="0.048" >9.89</text>
<text x="219.20" y="522.78" font-size="6.0" text-anchor="middle" fill="#222" stroke="#222" stroke-width="0.048" >16.25%</text>
</g>
<g id="panel-g">
<text x="251.00" y="430.60" font-size="10.5" text-anchor="start" fill="#000" stroke="#000" stroke-width="0.084" font-weight="bold">g</text>
<text x="329.00" y="427.70" font-size="5.8" text-anchor="middle" fill="#222" stroke="#222" stroke-width="0.046" >HAP1<tspan font-size="3" dy="-2.3" fill="#444" stroke="none">Cas9+</tspan></text>
<text x="329.00" y="436.30" font-size="5.8" text-anchor="middle" fill="#222" stroke="#222" stroke-width="0.046" >300 nM KPT-9274</text>
<line x1="316.45" y1="441.50" x2="316.45" y2="515.20" stroke="#a5a5a5" stroke-width="0.6" stroke-dasharray="2,1.4"/>
<line x1="341.50" y1="441.50" x2="341.50" y2="515.20" stroke="#a5a5a5" stroke-width="0.6" stroke-dasharray="2,1.4"/>
<line x1="366.55" y1="441.50" x2="366.55" y2="515.20" stroke="#a5a5a5" stroke-width="0.6" stroke-dasharray="2,1.4"/>
<text x="287.80" y="449.40" font-size="6.1" text-anchor="end" fill="#222" stroke="#222" stroke-width="0.049" >AAVS1</text>
<line x1="289.00" y1="447.20" x2="291.40" y2="447.20" stroke="#000" stroke-width="0.7" />
<text x="287.80" y="459.43" font-size="6.1" text-anchor="end" fill="#222" stroke="#222" stroke-width="0.049" >NAMPT_34</text>
<line x1="289.00" y1="457.23" x2="291.40" y2="457.23" stroke="#000" stroke-width="0.7" />
<rect x="291.40" y="454.23" width="48.30" height="6.00" fill="#1f9a63" stroke="#0c4a3a" stroke-width="0.5" />
<line x1="339.70" y1="457.23" x2="365.75" y2="457.23" stroke="#111" stroke-width="0.9" />
<line x1="365.75" y1="455.53" x2="365.75" y2="458.93" stroke="#111" stroke-width="0.9" />
<text x="287.80" y="469.46" font-size="6.1" text-anchor="end" fill="#222" stroke="#222" stroke-width="0.049" >NAMPT_71</text>
<line x1="289.00" y1="467.26" x2="291.40" y2="467.26" stroke="#000" stroke-width="0.7" />
<rect x="291.40" y="464.26" width="11.67" height="6.00" fill="#1f9a63" stroke="#0c4a3a" stroke-width="0.5" />
<line x1="303.07" y1="467.26" x2="303.82" y2="467.26" stroke="#111" stroke-width="0.9" />
<line x1="303.82" y1="465.56" x2="303.82" y2="468.96" stroke="#111" stroke-width="0.9" />
<text x="287.80" y="479.49" font-size="6.1" text-anchor="end" fill="#222" stroke="#222" stroke-width="0.049" >NAMPT_70</text>
<line x1="289.00" y1="477.29" x2="291.40" y2="477.29" stroke="#000" stroke-width="0.7" />
<rect x="291.40" y="474.29" width="13.03" height="6.00" fill="#1f9a63" stroke="#0c4a3a" stroke-width="0.5" />
<line x1="304.43" y1="477.29" x2="305.03" y2="477.29" stroke="#111" stroke-width="0.9" />
<line x1="305.03" y1="475.59" x2="305.03" y2="478.99" stroke="#111" stroke-width="0.9" />
<text x="287.80" y="489.52" font-size="6.1" text-anchor="end" fill="#222" stroke="#222" stroke-width="0.049" >NAMPT_33</text>
<line x1="289.00" y1="487.32" x2="291.40" y2="487.32" stroke="#000" stroke-width="0.7" />
<rect x="291.40" y="484.32" width="12.02" height="6.00" fill="#1f9a63" stroke="#0c4a3a" stroke-width="0.5" />
<line x1="303.42" y1="487.32" x2="304.03" y2="487.32" stroke="#111" stroke-width="0.9" />
<line x1="304.03" y1="485.62" x2="304.03" y2="489.02" stroke="#111" stroke-width="0.9" />
<text x="287.80" y="499.55" font-size="6.1" text-anchor="end" fill="#222" stroke="#222" stroke-width="0.049" >NAMPT_145</text>
<line x1="289.00" y1="497.35" x2="291.40" y2="497.35" stroke="#000" stroke-width="0.7" />
<rect x="291.40" y="494.35" width="2.50" height="6.00" fill="#1f9a63" stroke="#0c4a3a" stroke-width="0.5" />
<line x1="293.90" y1="497.35" x2="295.91" y2="497.35" stroke="#111" stroke-width="0.9" />
<line x1="295.91" y1="495.65" x2="295.91" y2="499.05" stroke="#111" stroke-width="0.9" />
<text x="287.80" y="509.58" font-size="6.1" text-anchor="end" fill="#222" stroke="#222" stroke-width="0.049" >NAMPT_62</text>
<line x1="289.00" y1="507.38" x2="291.40" y2="507.38" stroke="#000" stroke-width="0.7" />
<rect x="291.40" y="504.38" width="3.21" height="6.00" fill="#1f9a63" stroke="#0c4a3a" stroke-width="0.5" />
<line x1="294.61" y1="507.38" x2="298.11" y2="507.38" stroke="#111" stroke-width="0.9" />
<line x1="298.11" y1="505.68" x2="298.11" y2="509.08" stroke="#111" stroke-width="0.9" />
<line x1="291.40" y1="441.50" x2="291.40" y2="515.60" stroke="#000" stroke-width="0.9" />
<line x1="291.00" y1="515.20" x2="366.95" y2="515.20" stroke="#000" stroke-width="0.9" />
<line x1="291.40" y1="515.20" x2="291.40" y2="517.80" stroke="#000" stroke-width="0.7" />
<text x="291.40" y="524.40" font-size="6.2" text-anchor="middle" fill="#222" stroke="#222" stroke-width="0.050" >0</text>
<line x1="316.45" y1="515.20" x2="316.45" y2="517.80" stroke="#000" stroke-width="0.7" />
<text x="316.45" y="524.40" font-size="6.2" text-anchor="middle" fill="#222" stroke="#222" stroke-width="0.050" >5x10<tspan font-size="3.4" dy="-2.4">5</tspan><tspan dy="2.4" font-size="0.1">&#8203;</tspan></text>
<line x1="341.50" y1="515.20" x2="341.50" y2="517.80" stroke="#000" stroke-width="0.7" />
<text x="341.50" y="524.40" font-size="6.2" text-anchor="middle" fill="#222" stroke="#222" stroke-width="0.050" >1x10<tspan font-size="3.4" dy="-2.4">6</tspan><tspan dy="2.4" font-size="0.1">&#8203;</tspan></text>
<line x1="366.55" y1="515.20" x2="366.55" y2="517.80" stroke="#000" stroke-width="0.7" />
<text x="366.55" y="524.40" font-size="6.2" text-anchor="middle" fill="#222" stroke="#222" stroke-width="0.050" >1.5x10<tspan font-size="3.4" dy="-2.4">6</tspan><tspan dy="2.4" font-size="0.1">&#8203;</tspan></text>
<text x="329.00" y="533.30" font-size="5.9" text-anchor="middle" fill="#222" stroke="#222" stroke-width="0.047" >Cell viability (total cells)</text>
<text x="453.00" y="427.70" font-size="5.8" text-anchor="middle" fill="#222" stroke="#222" stroke-width="0.046" >K-562<tspan font-size="3" dy="-2.3" fill="#444" stroke="none">Cas9+</tspan></text>
<text x="453.00" y="436.30" font-size="5.8" text-anchor="middle" fill="#222" stroke="#222" stroke-width="0.046" >500 nM KPT-9274</text>
<line x1="441.15" y1="441.50" x2="441.15" y2="515.20" stroke="#a5a5a5" stroke-width="0.6" stroke-dasharray="2,1.4"/>
<line x1="466.20" y1="441.50" x2="466.20" y2="515.20" stroke="#a5a5a5" stroke-width="0.6" stroke-dasharray="2,1.4"/>
<line x1="491.25" y1="441.50" x2="491.25" y2="515.20" stroke="#a5a5a5" stroke-width="0.6" stroke-dasharray="2,1.4"/>
<text x="412.50" y="449.40" font-size="6.1" text-anchor="end" fill="#222" stroke="#222" stroke-width="0.049" >AAVS1</text>
<line x1="413.70" y1="447.20" x2="416.10" y2="447.20" stroke="#000" stroke-width="0.7" />
<rect x="416.10" y="444.20" width="3.51" height="6.00" fill="#1d7f96" stroke="#0c3f4c" stroke-width="0.5" />
<line x1="419.61" y1="447.20" x2="420.23" y2="447.20" stroke="#111" stroke-width="0.9" />
<line x1="420.23" y1="445.50" x2="420.23" y2="448.90" stroke="#111" stroke-width="0.9" />
<text x="412.50" y="459.43" font-size="6.1" text-anchor="end" fill="#222" stroke="#222" stroke-width="0.049" >NAMPT_34</text>
<line x1="413.70" y1="457.23" x2="416.10" y2="457.23" stroke="#000" stroke-width="0.7" />
<rect x="416.10" y="454.23" width="61.87" height="6.00" fill="#1d7f96" stroke="#0c3f4c" stroke-width="0.5" />
<line x1="477.97" y1="457.23" x2="490.50" y2="457.23" stroke="#111" stroke-width="0.9" />
<line x1="490.50" y1="455.53" x2="490.50" y2="458.93" stroke="#111" stroke-width="0.9" />
<text x="412.50" y="469.46" font-size="6.1" text-anchor="end" fill="#222" stroke="#222" stroke-width="0.049" >NAMPT_71</text>
<line x1="413.70" y1="467.26" x2="416.10" y2="467.26" stroke="#000" stroke-width="0.7" />
<rect x="416.10" y="464.26" width="11.77" height="6.00" fill="#1d7f96" stroke="#0c3f4c" stroke-width="0.5" />
<line x1="427.87" y1="467.26" x2="431.00" y2="467.26" stroke="#111" stroke-width="0.9" />
<line x1="431.00" y1="465.56" x2="431.00" y2="468.96" stroke="#111" stroke-width="0.9" />
<text x="412.50" y="479.49" font-size="6.1" text-anchor="end" fill="#222" stroke="#222" stroke-width="0.049" >NAMPT_70</text>
<line x1="413.70" y1="477.29" x2="416.10" y2="477.29" stroke="#000" stroke-width="0.7" />
<rect x="416.10" y="474.29" width="13.53" height="6.00" fill="#1d7f96" stroke="#0c3f4c" stroke-width="0.5" />
<line x1="429.63" y1="477.29" x2="437.89" y2="477.29" stroke="#111" stroke-width="0.9" />
<line x1="437.89" y1="475.59" x2="437.89" y2="478.99" stroke="#111" stroke-width="0.9" />
<text x="412.50" y="489.52" font-size="6.1" text-anchor="end" fill="#222" stroke="#222" stroke-width="0.049" >NAMPT_33</text>
<line x1="413.70" y1="487.32" x2="416.10" y2="487.32" stroke="#000" stroke-width="0.7" />
<rect x="416.10" y="484.32" width="12.53" height="6.00" fill="#1d7f96" stroke="#0c3f4c" stroke-width="0.5" />
<line x1="428.62" y1="487.32" x2="432.88" y2="487.32" stroke="#111" stroke-width="0.9" />
<line x1="432.88" y1="485.62" x2="432.88" y2="489.02" stroke="#111" stroke-width="0.9" />
<text x="412.50" y="499.55" font-size="6.1" text-anchor="end" fill="#222" stroke="#222" stroke-width="0.049" >NAMPT_145</text>
<line x1="413.70" y1="497.35" x2="416.10" y2="497.35" stroke="#000" stroke-width="0.7" />
<rect x="416.10" y="494.35" width="5.89" height="6.00" fill="#1d7f96" stroke="#0c3f4c" stroke-width="0.5" />
<line x1="421.99" y1="497.35" x2="426.62" y2="497.35" stroke="#111" stroke-width="0.9" />
<line x1="426.62" y1="495.65" x2="426.62" y2="499.05" stroke="#111" stroke-width="0.9" />
<text x="412.50" y="509.58" font-size="6.1" text-anchor="end" fill="#222" stroke="#222" stroke-width="0.049" >NAMPT_137</text>
<line x1="413.70" y1="507.38" x2="416.10" y2="507.38" stroke="#000" stroke-width="0.7" />
<rect x="416.10" y="504.38" width="18.79" height="6.00" fill="#1d7f96" stroke="#0c3f4c" stroke-width="0.5" />
<line x1="434.89" y1="507.38" x2="437.14" y2="507.38" stroke="#111" stroke-width="0.9" />
<line x1="437.14" y1="505.68" x2="437.14" y2="509.08" stroke="#111" stroke-width="0.9" />
<line x1="416.10" y1="441.50" x2="416.10" y2="515.60" stroke="#000" stroke-width="0.9" />
<line x1="415.70" y1="515.20" x2="491.65" y2="515.20" stroke="#000" stroke-width="0.9" />
<line x1="416.10" y1="515.20" x2="416.10" y2="517.80" stroke="#000" stroke-width="0.7" />
<text x="416.10" y="524.40" font-size="6.2" text-anchor="middle" fill="#222" stroke="#222" stroke-width="0.050" >0</text>
<line x1="441.15" y1="515.20" x2="441.15" y2="517.80" stroke="#000" stroke-width="0.7" />
<text x="441.15" y="524.40" font-size="6.2" text-anchor="middle" fill="#222" stroke="#222" stroke-width="0.050" >2x10<tspan font-size="3.4" dy="-2.4">6</tspan><tspan dy="2.4" font-size="0.1">&#8203;</tspan></text>
<line x1="466.20" y1="515.20" x2="466.20" y2="517.80" stroke="#000" stroke-width="0.7" />
<text x="466.20" y="524.40" font-size="6.2" text-anchor="middle" fill="#222" stroke="#222" stroke-width="0.050" >4x10<tspan font-size="3.4" dy="-2.4">6</tspan><tspan dy="2.4" font-size="0.1">&#8203;</tspan></text>
<line x1="491.25" y1="515.20" x2="491.25" y2="517.80" stroke="#000" stroke-width="0.7" />
<text x="491.25" y="524.40" font-size="6.2" text-anchor="middle" fill="#222" stroke="#222" stroke-width="0.050" >6x10<tspan font-size="3.4" dy="-2.4">6</tspan><tspan dy="2.4" font-size="0.1">&#8203;</tspan></text>
<text x="453.00" y="533.30" font-size="5.9" text-anchor="middle" fill="#222" stroke="#222" stroke-width="0.047" >Cell viability (total cells)</text>
</g>
<g id="panel-h">
<text x="2.40" y="558.60" font-size="10.5" text-anchor="start" fill="#000" stroke="#000" stroke-width="0.084" font-weight="bold">h</text>
<text x="124.00" y="561.90" font-size="5.9" text-anchor="middle" fill="#222" stroke="#222" stroke-width="0.047" >Most prevalent NAMPT mutations detected in HAP1 replicate #1</text>
<rect x="18.80" y="566.80" width="214.00" height="10.40" fill="#ececec" stroke="none" stroke-width="0.8" />
<rect x="18.80" y="589.43" width="214.00" height="10.33" fill="#efefef" stroke="none" stroke-width="0.8" />
<rect x="18.80" y="610.09" width="214.00" height="10.33" fill="#efefef" stroke="none" stroke-width="0.8" />
<rect x="18.80" y="630.75" width="214.00" height="10.33" fill="#efefef" stroke="none" stroke-width="0.8" />
<rect x="18.80" y="651.41" width="214.00" height="10.33" fill="#efefef" stroke="none" stroke-width="0.8" />
<rect x="18.80" y="672.07" width="214.00" height="10.33" fill="#efefef" stroke="none" stroke-width="0.8" />
<line x1="18.80" y1="577.20" x2="232.80" y2="577.20" stroke="#222" stroke-width="0.9" />
<line x1="18.80" y1="671.87" x2="232.80" y2="671.87" stroke="#222" stroke-width="0.9" />
<line x1="18.80" y1="682.30" x2="232.80" y2="682.30" stroke="#222" stroke-width="0.9" />
<text x="49.40" y="574.30" font-size="5.9" text-anchor="middle" fill="#222" stroke="#222" stroke-width="0.047" >NAMPT mutation</text>
<text x="100.30" y="574.30" font-size="5.9" text-anchor="middle" fill="#222" stroke="#222" stroke-width="0.047" >Type</text>
<text x="157.00" y="574.30" font-size="5.9" text-anchor="middle" fill="#222" stroke="#222" stroke-width="0.047" >Associated sgRNAs</text>
<text x="211.50" y="574.30" font-size="5.9" text-anchor="middle" fill="#222" stroke="#222" stroke-width="0.047" >Frequency</text>
<text x="49.40" y="586.30" font-size="5.9" text-anchor="middle" fill="#222" stroke="#222" stroke-width="0.047" >G383del</text>
<text x="100.30" y="586.30" font-size="5.9" text-anchor="middle" fill="#222" stroke="#222" stroke-width="0.047" >Deletion</text>
<text x="157.00" y="586.30" font-size="5.9" text-anchor="middle" fill="#222" stroke="#222" stroke-width="0.047" >NAMPT_33; NAMPT_34</text>
<text x="211.50" y="586.30" font-size="5.9" text-anchor="middle" fill="#222" stroke="#222" stroke-width="0.047" >51.90%</text>
<text x="49.40" y="596.63" font-size="5.9" text-anchor="middle" fill="#222" stroke="#222" stroke-width="0.047" >P238_Y240ins AAEHS</text>
<text x="100.30" y="596.63" font-size="5.9" text-anchor="middle" fill="#222" stroke="#222" stroke-width="0.047" >Insertion</text>
<text x="157.00" y="596.63" font-size="5.9" text-anchor="middle" fill="#222" stroke="#222" stroke-width="0.047" >NAMPT_70;NAMPT_71</text>
<text x="211.50" y="596.63" font-size="5.9" text-anchor="middle" fill="#222" stroke="#222" stroke-width="0.047" >2.53%</text>
<text x="49.40" y="606.96" font-size="5.9" text-anchor="middle" fill="#222" stroke="#222" stroke-width="0.047" >G217V</text>
<text x="100.30" y="606.96" font-size="5.9" text-anchor="middle" fill="#222" stroke="#222" stroke-width="0.047" >SNV</text>
<text x="157.00" y="606.96" font-size="5.9" text-anchor="middle" fill="#222" stroke="#222" stroke-width="0.047" >-</text>
<text x="211.50" y="606.96" font-size="5.9" text-anchor="middle" fill="#222" stroke="#222" stroke-width="0.047" >1.91%</text>
<text x="49.40" y="617.29" font-size="5.9" text-anchor="middle" fill="#222" stroke="#222" stroke-width="0.047" >P236_V237del</text>
<text x="100.30" y="617.29" font-size="5.9" text-anchor="middle" fill="#222" stroke="#222" stroke-width="0.047" >Deletion</text>
<text x="157.00" y="617.29" font-size="5.9" text-anchor="middle" fill="#222" stroke="#222" stroke-width="0.047" >NAMPT_70; NAMPT_71</text>
<text x="211.50" y="617.29" font-size="5.9" text-anchor="middle" fill="#222" stroke="#222" stroke-width="0.047" >1.64%</text>
<text x="49.40" y="627.62" font-size="5.9" text-anchor="middle" fill="#222" stroke="#222" stroke-width="0.047" >P236fs</text>
<text x="100.30" y="627.62" font-size="5.9" text-anchor="middle" fill="#222" stroke="#222" stroke-width="0.047" >Frameshift</text>
<text x="157.00" y="627.62" font-size="5.9" text-anchor="middle" fill="#222" stroke="#222" stroke-width="0.047" >NAMPT_70; NAMPT_71</text>
<text x="211.50" y="627.62" font-size="5.9" text-anchor="middle" fill="#222" stroke="#222" stroke-width="0.047" >1.02%</text>
<text x="49.40" y="637.95" font-size="5.9" text-anchor="middle" fill="#222" stroke="#222" stroke-width="0.047" >G239V</text>
<text x="100.30" y="637.95" font-size="5.9" text-anchor="middle" fill="#222" stroke="#222" stroke-width="0.047" >SNV</text>
<text x="157.00" y="637.95" font-size="5.9" text-anchor="middle" fill="#222" stroke="#222" stroke-width="0.047" >NAMPT_70; NAMPT_71</text>
<text x="211.50" y="637.95" font-size="5.9" text-anchor="middle" fill="#222" stroke="#222" stroke-width="0.047" >0.26%</text>
<text x="49.40" y="648.28" font-size="5.9" text-anchor="middle" fill="#222" stroke="#222" stroke-width="0.047" >G239_Y240insY</text>
<text x="100.30" y="648.28" font-size="5.9" text-anchor="middle" fill="#222" stroke="#222" stroke-width="0.047" >Insertion</text>
<text x="157.00" y="648.28" font-size="5.9" text-anchor="middle" fill="#222" stroke="#222" stroke-width="0.047" >NAMPT_70; NAMPT_71</text>
<text x="211.50" y="648.28" font-size="5.9" text-anchor="middle" fill="#222" stroke="#222" stroke-width="0.047" >0.24%</text>
<text x="49.40" y="658.61" font-size="5.9" text-anchor="middle" fill="#222" stroke="#222" stroke-width="0.047" >S275fs</text>
<text x="100.30" y="658.61" font-size="5.9" text-anchor="middle" fill="#222" stroke="#222" stroke-width="0.047" >Frameshift</text>
<text x="157.00" y="658.61" font-size="5.9" text-anchor="middle" fill="#222" stroke="#222" stroke-width="0.047" >NAMPT_62</text>
<text x="211.50" y="658.61" font-size="5.9" text-anchor="middle" fill="#222" stroke="#222" stroke-width="0.047" >0.17%</text>
<text x="49.40" y="668.94" font-size="5.9" text-anchor="middle" fill="#222" stroke="#222" stroke-width="0.047" >G239D</text>
<text x="100.30" y="668.94" font-size="5.9" text-anchor="middle" fill="#222" stroke="#222" stroke-width="0.047" >SNV</text>
<text x="157.00" y="668.94" font-size="5.9" text-anchor="middle" fill="#222" stroke="#222" stroke-width="0.047" >NAMPT_70;NAMPT_71</text>
<text x="211.50" y="668.94" font-size="5.9" text-anchor="middle" fill="#222" stroke="#222" stroke-width="0.047" >0.15%</text>
<text x="49.40" y="679.27" font-size="5.9" text-anchor="middle" fill="#222" stroke="#222" stroke-width="0.047" >S301S</text>
<text x="100.30" y="679.27" font-size="5.9" text-anchor="middle" fill="#222" stroke="#222" stroke-width="0.047" >Silent SNV</text>
<text x="157.00" y="679.27" font-size="5.9" text-anchor="middle" fill="#222" stroke="#222" stroke-width="0.047" >-</text>
<text x="211.50" y="679.27" font-size="5.9" text-anchor="middle" fill="#222" stroke="#222" stroke-width="0.047" >100.00%</text>
</g>
<g id="panel-i">
<text x="252.00" y="558.60" font-size="10.5" text-anchor="start" fill="#000" stroke="#000" stroke-width="0.084" font-weight="bold">i</text>
<line x1="288.50" y1="610.25" x2="288.50" y2="597.35" stroke="#111" stroke-width="0.9" />
<line x1="285.20" y1="597.35" x2="291.80" y2="597.35" stroke="#111" stroke-width="0.9" />
<rect x="281.70" y="610.25" width="13.70" height="45.15" fill="#7f1485" stroke="#2a0a2c" stroke-width="0.6" />
<line x1="310.50" y1="582.30" x2="310.50" y2="576.71" stroke="#111" stroke-width="0.9" />
<line x1="307.20" y1="576.71" x2="313.80" y2="576.71" stroke="#111" stroke-width="0.9" />
<rect x="303.70" y="582.30" width="13.80" height="73.10" fill="#1f9a63" stroke="#0c3f2c" stroke-width="0.6" />
<line x1="273.50" y1="568.50" x2="273.50" y2="655.80" stroke="#000" stroke-width="0.9" />
<line x1="273.10" y1="655.40" x2="326.80" y2="655.40" stroke="#000" stroke-width="0.9" />
<line x1="270.50" y1="655.40" x2="273.50" y2="655.40" stroke="#000" stroke-width="0.8" />
<text x="268.90" y="657.50" font-size="5.9" text-anchor="end" fill="#222" stroke="#222" stroke-width="0.047" >0</text>
<line x1="270.50" y1="633.90" x2="273.50" y2="633.90" stroke="#000" stroke-width="0.8" />
<text x="268.90" y="636.00" font-size="5.9" text-anchor="end" fill="#222" stroke="#222" stroke-width="0.047" >5</text>
<line x1="270.50" y1="612.40" x2="273.50" y2="612.40" stroke="#000" stroke-width="0.8" />
<text x="268.90" y="614.50" font-size="5.9" text-anchor="end" fill="#222" stroke="#222" stroke-width="0.047" >10</text>
<line x1="270.50" y1="590.90" x2="273.50" y2="590.90" stroke="#000" stroke-width="0.8" />
<text x="268.90" y="593.00" font-size="5.9" text-anchor="end" fill="#222" stroke="#222" stroke-width="0.047" >15</text>
<line x1="270.50" y1="569.40" x2="273.50" y2="569.40" stroke="#000" stroke-width="0.8" />
<text x="268.90" y="571.50" font-size="5.9" text-anchor="end" fill="#222" stroke="#222" stroke-width="0.047" >20</text>
<line x1="288.50" y1="655.40" x2="288.50" y2="658.20" stroke="#000" stroke-width="0.8" />
<line x1="310.50" y1="655.40" x2="310.50" y2="658.20" stroke="#000" stroke-width="0.8" />
<path d="M288.2,587 V568 H311 V571.6" fill="none" stroke="#111" stroke-width="0.8"/>
<text x="299.60" y="568.00" font-size="7" text-anchor="middle" fill="#111" stroke="#111" stroke-width="0.056" >*</text>
<text transform="translate(255.7,612.5) rotate(-90)" font-size="5.8" text-anchor="middle" fill="#222" stroke="#222" stroke-width="0.05">NAD+ (pmol)</text>
<text transform="translate(291.6,661.4) rotate(-45)" font-size="5.8" text-anchor="end" fill="#222" stroke="#222" stroke-width="0.05">Parental</text>
<text transform="translate(311.2,664.6) rotate(-45)" font-size="5.8" text-anchor="end" fill="#222" stroke="#222" stroke-width="0.05">NAMPT<tspan font-size="3.2" dy="-2.3" fill="#222" stroke="none">S165S</tspan></text>
<line x1="357.10" y1="569.40" x2="357.10" y2="656.10" stroke="#000" stroke-width="0.9" />
<line x1="356.70" y1="655.70" x2="486.50" y2="655.70" stroke="#000" stroke-width="0.9" />
<line x1="354.00" y1="655.70" x2="357.10" y2="655.70" stroke="#000" stroke-width="0.8" />
<text x="352.40" y="657.80" font-size="5.9" text-anchor="end" fill="#222" stroke="#222" stroke-width="0.047" >0.0</text>
<line x1="354.00" y1="621.00" x2="357.10" y2="621.00" stroke="#000" stroke-width="0.8" />
<text x="352.40" y="623.10" font-size="5.9" text-anchor="end" fill="#222" stroke="#222" stroke-width="0.047" >0.5</text>
<line x1="354.00" y1="586.30" x2="357.10" y2="586.30" stroke="#000" stroke-width="0.8" />
<text x="352.40" y="588.40" font-size="5.9" text-anchor="end" fill="#222" stroke="#222" stroke-width="0.047" >1.0</text>
<line x1="370.90" y1="655.70" x2="370.90" y2="658.70" stroke="#000" stroke-width="0.8" />
<text x="370.00" y="664.90" font-size="5.9" text-anchor="middle" fill="#222" stroke="#222" stroke-width="0.047" >−1</text>
<line x1="396.70" y1="655.70" x2="396.70" y2="658.70" stroke="#000" stroke-width="0.8" />
<text x="396.70" y="664.90" font-size="5.9" text-anchor="middle" fill="#222" stroke="#222" stroke-width="0.047" >0</text>
<line x1="422.50" y1="655.70" x2="422.50" y2="658.70" stroke="#000" stroke-width="0.8" />
<text x="422.50" y="664.90" font-size="5.9" text-anchor="middle" fill="#222" stroke="#222" stroke-width="0.047" >1</text>
<line x1="448.30" y1="655.70" x2="448.30" y2="658.70" stroke="#000" stroke-width="0.8" />
<text x="448.30" y="664.90" font-size="5.9" text-anchor="middle" fill="#222" stroke="#222" stroke-width="0.047" >2</text>
<line x1="474.10" y1="655.70" x2="474.10" y2="658.70" stroke="#000" stroke-width="0.8" />
<text x="474.10" y="664.90" font-size="5.9" text-anchor="middle" fill="#222" stroke="#222" stroke-width="0.047" >3</text>
<text x="421.40" y="674.60" font-size="5.9" text-anchor="middle" fill="#222" stroke="#222" stroke-width="0.047" >Log<tspan font-size="3.4" dy="1.3">10</tspan><tspan dy="-1.3">[KPT-9274] (nM)</tspan></text>
<text transform="translate(332.6,611) rotate(-90)" font-size="5.8" text-anchor="middle" fill="#222" stroke="#222" stroke-width="0.05">NAD+ signal</text>
<text transform="translate(339.5,611) rotate(-90)" font-size="5.8" text-anchor="middle" fill="#222" stroke="#222" stroke-width="0.05">(relative to untreated)</text>
<line x1="370.90" y1="586.99" x2="370.90" y2="595.32" stroke="#651a63" stroke-width="0.9" />
<line x1="369.20" y1="586.99" x2="372.60" y2="586.99" stroke="#651a63" stroke-width="0.9" />
<line x1="369.20" y1="595.32" x2="372.60" y2="595.32" stroke="#651a63" stroke-width="0.9" />
<line x1="383.80" y1="591.16" x2="383.80" y2="606.43" stroke="#651a63" stroke-width="0.9" />
<line x1="382.10" y1="591.16" x2="385.50" y2="591.16" stroke="#651a63" stroke-width="0.9" />
<line x1="382.10" y1="606.43" x2="385.50" y2="606.43" stroke="#651a63" stroke-width="0.9" />
<line x1="396.70" y1="605.04" x2="396.70" y2="618.92" stroke="#651a63" stroke-width="0.9" />
<line x1="395.00" y1="605.04" x2="398.40" y2="605.04" stroke="#651a63" stroke-width="0.9" />
<line x1="395.00" y1="618.92" x2="398.40" y2="618.92" stroke="#651a63" stroke-width="0.9" />
<line x1="409.60" y1="632.80" x2="409.60" y2="642.51" stroke="#651a63" stroke-width="0.9" />
<line x1="407.90" y1="632.80" x2="411.30" y2="632.80" stroke="#651a63" stroke-width="0.9" />
<line x1="407.90" y1="642.51" x2="411.30" y2="642.51" stroke="#651a63" stroke-width="0.9" />
<line x1="422.50" y1="649.45" x2="422.50" y2="652.23" stroke="#651a63" stroke-width="0.9" />
<line x1="420.80" y1="649.45" x2="424.20" y2="649.45" stroke="#651a63" stroke-width="0.9" />
<line x1="420.80" y1="652.23" x2="424.20" y2="652.23" stroke="#651a63" stroke-width="0.9" />
<line x1="435.40" y1="650.84" x2="435.40" y2="655.70" stroke="#651a63" stroke-width="0.9" />
<line x1="433.70" y1="650.84" x2="437.10" y2="650.84" stroke="#651a63" stroke-width="0.9" />
<line x1="433.70" y1="655.70" x2="437.10" y2="655.70" stroke="#651a63" stroke-width="0.9" />
<line x1="448.30" y1="650.84" x2="448.30" y2="655.70" stroke="#651a63" stroke-width="0.9" />
<line x1="446.60" y1="650.84" x2="450.00" y2="650.84" stroke="#651a63" stroke-width="0.9" />
<line x1="446.60" y1="655.70" x2="450.00" y2="655.70" stroke="#651a63" stroke-width="0.9" />
<line x1="461.20" y1="650.84" x2="461.20" y2="655.70" stroke="#651a63" stroke-width="0.9" />
<line x1="459.50" y1="650.84" x2="462.90" y2="650.84" stroke="#651a63" stroke-width="0.9" />
<line x1="459.50" y1="655.70" x2="462.90" y2="655.70" stroke="#651a63" stroke-width="0.9" />
<line x1="474.10" y1="650.15" x2="474.10" y2="655.70" stroke="#651a63" stroke-width="0.9" />
<line x1="472.40" y1="650.15" x2="475.80" y2="650.15" stroke="#651a63" stroke-width="0.9" />
<line x1="472.40" y1="655.70" x2="475.80" y2="655.70" stroke="#651a63" stroke-width="0.9" />
<path d="M370.90,588.67 L372.21,589.03 L373.51,589.44 L374.82,589.90 L376.13,590.43 L377.43,591.04 L378.74,591.72 L380.04,592.49 L381.35,593.36 L382.66,594.34 L383.96,595.43 L385.27,596.64 L386.58,597.98 L387.88,599.45 L389.19,601.06 L390.49,602.81 L391.80,604.69 L393.11,606.71 L394.41,608.83 L395.72,611.07 L397.03,613.39 L398.33,615.78 L399.64,618.21 L400.95,620.66 L402.25,623.11 L403.56,625.52 L404.86,627.87 L406.17,630.15 L407.48,632.32 L408.78,634.38 L410.09,636.32 L411.40,638.13 L412.70,639.80 L414.01,641.33 L415.32,642.73 L416.62,643.99 L417.93,645.13 L419.23,646.16 L420.54,647.07 L421.85,647.88 L423.15,648.60 L424.46,649.24 L425.77,649.80 L427.07,650.29 L428.38,650.72 L429.68,651.10 L430.99,651.43 L432.30,651.72 L433.60,651.97 L434.91,652.19 L436.22,652.38 L437.52,652.54 L438.83,652.69 L440.14,652.81 L441.44,652.92 L442.75,653.01 L444.05,653.10 L445.36,653.17 L446.67,653.23 L447.97,653.28 L449.28,653.33 L450.59,653.36 L451.89,653.40 L453.20,653.43 L454.51,653.45 L455.81,653.48 L457.12,653.50 L458.42,653.51 L459.73,653.53 L461.04,653.54 L462.34,653.55 L463.65,653.56 L464.96,653.57 L466.26,653.57 L467.57,653.58 L468.87,653.58 L470.18,653.59 L471.49,653.59 L472.79,653.60 L474.10,653.60" fill="none" stroke="#651a63" stroke-width="1.2" stroke-linejoin="round"/>
<circle cx="370.90" cy="591.16" r="2.1" fill="#651a63"/>
<circle cx="383.80" cy="598.79" r="2.1" fill="#651a63"/>
<circle cx="396.70" cy="611.98" r="2.1" fill="#651a63"/>
<circle cx="409.60" cy="637.66" r="2.1" fill="#651a63"/>
<circle cx="422.50" cy="650.84" r="2.1" fill="#651a63"/>
<circle cx="435.40" cy="653.62" r="2.1" fill="#651a63"/>
<circle cx="448.30" cy="653.62" r="2.1" fill="#651a63"/>
<circle cx="461.20" cy="653.62" r="2.1" fill="#651a63"/>
<circle cx="474.10" cy="653.62" r="2.1" fill="#651a63"/>
<line x1="370.90" y1="578.67" x2="370.90" y2="589.77" stroke="#2a9a2e" stroke-width="0.9" />
<line x1="369.20" y1="578.67" x2="372.60" y2="578.67" stroke="#2a9a2e" stroke-width="0.9" />
<line x1="369.20" y1="589.77" x2="372.60" y2="589.77" stroke="#2a9a2e" stroke-width="0.9" />
<line x1="383.80" y1="580.75" x2="383.80" y2="594.63" stroke="#2a9a2e" stroke-width="0.9" />
<line x1="382.10" y1="580.75" x2="385.50" y2="580.75" stroke="#2a9a2e" stroke-width="0.9" />
<line x1="382.10" y1="594.63" x2="385.50" y2="594.63" stroke="#2a9a2e" stroke-width="0.9" />
<line x1="396.70" y1="581.44" x2="396.70" y2="591.16" stroke="#2a9a2e" stroke-width="0.9" />
<line x1="395.00" y1="581.44" x2="398.40" y2="581.44" stroke="#2a9a2e" stroke-width="0.9" />
<line x1="395.00" y1="591.16" x2="398.40" y2="591.16" stroke="#2a9a2e" stroke-width="0.9" />
<line x1="409.60" y1="587.69" x2="409.60" y2="594.63" stroke="#2a9a2e" stroke-width="0.9" />
<line x1="407.90" y1="587.69" x2="411.30" y2="587.69" stroke="#2a9a2e" stroke-width="0.9" />
<line x1="407.90" y1="594.63" x2="411.30" y2="594.63" stroke="#2a9a2e" stroke-width="0.9" />
<line x1="422.50" y1="593.24" x2="422.50" y2="611.28" stroke="#2a9a2e" stroke-width="0.9" />
<line x1="420.80" y1="593.24" x2="424.20" y2="593.24" stroke="#2a9a2e" stroke-width="0.9" />
<line x1="420.80" y1="611.28" x2="424.20" y2="611.28" stroke="#2a9a2e" stroke-width="0.9" />
<line x1="435.40" y1="622.39" x2="435.40" y2="632.10" stroke="#2a9a2e" stroke-width="0.9" />
<line x1="433.70" y1="622.39" x2="437.10" y2="622.39" stroke="#2a9a2e" stroke-width="0.9" />
<line x1="433.70" y1="632.10" x2="437.10" y2="632.10" stroke="#2a9a2e" stroke-width="0.9" />
<line x1="448.30" y1="639.74" x2="448.30" y2="645.29" stroke="#2a9a2e" stroke-width="0.9" />
<line x1="446.60" y1="639.74" x2="450.00" y2="639.74" stroke="#2a9a2e" stroke-width="0.9" />
<line x1="446.60" y1="645.29" x2="450.00" y2="645.29" stroke="#2a9a2e" stroke-width="0.9" />
<line x1="461.20" y1="646.68" x2="461.20" y2="650.84" stroke="#2a9a2e" stroke-width="0.9" />
<line x1="459.50" y1="646.68" x2="462.90" y2="646.68" stroke="#2a9a2e" stroke-width="0.9" />
<line x1="459.50" y1="650.84" x2="462.90" y2="650.84" stroke="#2a9a2e" stroke-width="0.9" />
<line x1="474.10" y1="648.76" x2="474.10" y2="651.54" stroke="#2a9a2e" stroke-width="0.9" />
<line x1="472.40" y1="648.76" x2="475.80" y2="648.76" stroke="#2a9a2e" stroke-width="0.9" />
<line x1="472.40" y1="651.54" x2="475.80" y2="651.54" stroke="#2a9a2e" stroke-width="0.9" />
<path d="M370.90,584.94 L372.21,584.94 L373.51,584.95 L374.82,584.96 L376.13,584.97 L377.43,584.98 L378.74,584.99 L380.04,585.00 L381.35,585.02 L382.66,585.04 L383.96,585.06 L385.27,585.09 L386.58,585.12 L387.88,585.16 L389.19,585.20 L390.49,585.26 L391.80,585.32 L393.11,585.40 L394.41,585.49 L395.72,585.59 L397.03,585.71 L398.33,585.86 L399.64,586.03 L400.95,586.23 L402.25,586.47 L403.56,586.75 L404.86,587.07 L406.17,587.46 L407.48,587.90 L408.78,588.43 L410.09,589.03 L411.40,589.74 L412.70,590.55 L414.01,591.48 L415.32,592.56 L416.62,593.77 L417.93,595.15 L419.23,596.70 L420.54,598.43 L421.85,600.33 L423.15,602.42 L424.46,604.68 L425.77,607.09 L427.07,609.65 L428.38,612.31 L429.68,615.05 L430.99,617.83 L432.30,620.61 L433.60,623.35 L434.91,626.02 L436.22,628.57 L437.52,630.99 L438.83,633.26 L440.14,635.35 L441.44,637.26 L442.75,639.00 L444.05,640.55 L445.36,641.93 L446.67,643.16 L447.97,644.23 L449.28,645.17 L450.59,645.99 L451.89,646.70 L453.20,647.31 L454.51,647.83 L455.81,648.28 L457.12,648.67 L458.42,649.00 L459.73,649.28 L461.04,649.51 L462.34,649.72 L463.65,649.89 L464.96,650.04 L466.26,650.16 L467.57,650.27 L468.87,650.35 L470.18,650.43 L471.49,650.49 L472.79,650.55 L474.10,650.59" fill="none" stroke="#2a9a2e" stroke-width="1.2" stroke-linejoin="round"/>
<rect x="368.95" y="582.27" width="3.90" height="3.90" fill="#2a9a2e" stroke="none" stroke-width="0.8" />
<rect x="381.85" y="585.74" width="3.90" height="3.90" fill="#2a9a2e" stroke="none" stroke-width="0.8" />
<rect x="394.75" y="584.35" width="3.90" height="3.90" fill="#2a9a2e" stroke="none" stroke-width="0.8" />
<rect x="407.65" y="589.21" width="3.90" height="3.90" fill="#2a9a2e" stroke="none" stroke-width="0.8" />
<rect x="420.55" y="600.31" width="3.90" height="3.90" fill="#2a9a2e" stroke="none" stroke-width="0.8" />
<rect x="433.45" y="625.30" width="3.90" height="3.90" fill="#2a9a2e" stroke="none" stroke-width="0.8" />
<rect x="446.35" y="640.56" width="3.90" height="3.90" fill="#2a9a2e" stroke="none" stroke-width="0.8" />
<rect x="459.25" y="646.81" width="3.90" height="3.90" fill="#2a9a2e" stroke="none" stroke-width="0.8" />
<rect x="472.15" y="648.20" width="3.90" height="3.90" fill="#2a9a2e" stroke="none" stroke-width="0.8" />
<line x1="375.80" y1="565.30" x2="385.80" y2="565.30" stroke="#651a63" stroke-width="1.1" />
<circle cx="380.80" cy="565.30" r="2.1" fill="#651a63"/>
<text x="388.20" y="567.40" font-size="5.9" text-anchor="start" fill="#222" stroke="#222" stroke-width="0.047" >Parental</text>
<line x1="425.60" y1="565.30" x2="435.60" y2="565.30" stroke="#2a9a2e" stroke-width="1.1" />
<rect x="428.65" y="563.35" width="3.90" height="3.90" fill="#2a9a2e" stroke="none" stroke-width="0.8" />
<text x="437.70" y="567.40" font-size="5.9" text-anchor="start" fill="#222" stroke="#222" stroke-width="0.047" >NAMPT<tspan font-size="3.2" dy="-2.4" fill="#444" stroke="none">S165S</tspan></text>
</g>
</svg>
</body></html>
